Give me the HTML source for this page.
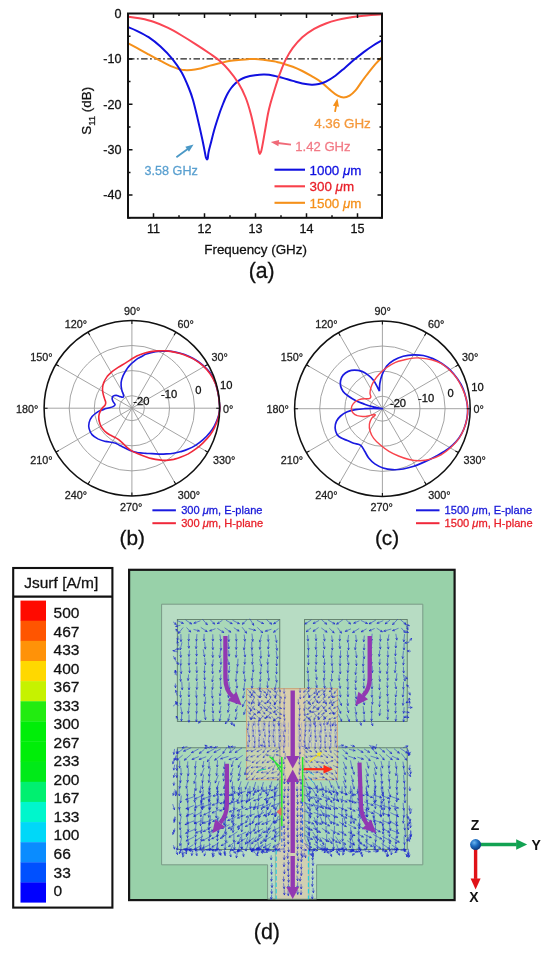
<!DOCTYPE html>
<html lang="en"><head><meta charset="utf-8"><title>Figure</title>
<style>html,body{margin:0;padding:0;background:#fff}svg{display:block}</style></head>
<body>
<svg width="550" height="954" viewBox="0 0 550 954">
<rect width="550" height="954" fill="#fff"/>
<g id="s11" font-family="Liberation Sans, sans-serif">
<clipPath id="cpa"><rect x="128.0" y="13.5" width="254.0" height="204.3"/></clipPath>
<g clip-path="url(#cpa)" fill="none" stroke-width="2.0" stroke-linejoin="round">
<path d="M128.0 58.9H382.0" stroke="#222" stroke-width="1.3" stroke-dasharray="6.5 2.4 1.8 2.4"/>
<path d="M127.8 43.1C129.3 43.9 133.3 45.9 136.8 47.8C140.3 49.7 144.7 52.2 148.6 54.4C152.5 56.6 156.6 58.8 160.5 60.8C164.4 62.8 168.8 65.2 172.3 66.7C175.8 68.2 178.5 69.2 181.7 69.8C184.8 70.3 188.0 70.2 191.2 70.0C194.4 69.8 197.5 69.1 200.7 68.4C203.8 67.7 206.9 66.5 210.1 65.6C213.2 64.7 216.4 64.0 219.6 63.2C222.8 62.5 225.8 61.7 229.0 61.1C232.2 60.5 235.3 60.2 238.5 59.9C241.7 59.6 245.2 59.4 247.9 59.2C250.7 59.0 252.2 58.8 255.0 58.9C257.8 59.0 261.4 59.5 264.5 59.9C267.6 60.3 270.8 60.7 273.9 61.3C277.0 61.9 280.2 62.8 283.4 63.7C286.5 64.6 289.6 65.5 292.8 66.7C296.0 67.9 299.2 69.4 302.3 71.0C305.4 72.6 308.6 74.4 311.7 76.2C314.8 78.0 318.0 79.7 321.2 82.1C324.4 84.5 327.9 88.2 330.7 90.4C333.4 92.7 335.5 94.4 337.7 95.6C339.9 96.8 341.7 97.5 343.7 97.5C345.7 97.5 347.6 96.8 349.6 95.6C351.6 94.4 353.5 92.7 355.5 90.4C357.5 88.2 359.2 85.1 361.4 82.1C363.6 79.1 366.1 75.6 368.5 72.6C370.9 69.6 373.4 66.5 375.6 63.9C377.9 61.4 380.9 58.4 382.0 57.3" stroke="#f5901a"/>
<path d="M127.8 27.0C129.3 27.6 133.3 29.1 136.8 30.8C140.3 32.5 144.7 34.6 148.6 37.2C152.5 39.8 156.6 43.0 160.5 46.6C164.4 50.2 168.8 54.6 172.3 58.9C175.8 63.2 178.9 67.8 181.7 72.6C184.4 77.4 186.9 83.4 188.8 88.0C190.7 92.6 191.5 94.8 193.0 100.0C194.5 105.2 196.1 112.2 197.7 118.9C199.3 125.6 201.2 134.1 202.5 140.2C203.8 146.3 204.9 152.6 205.5 155.6C206.1 158.6 206.0 157.6 206.2 158.2C206.5 158.9 206.8 159.5 207.0 159.5C207.2 159.5 207.5 159.5 207.8 158.2C208.0 157.0 208.0 154.9 208.6 152.0C209.2 149.1 210.6 144.2 211.5 140.5C212.4 136.8 213.3 133.2 214.2 130.0C215.1 126.8 215.9 124.3 216.8 121.5C217.7 118.7 218.7 115.7 219.6 113.0C220.5 110.3 221.5 107.8 222.4 105.5C223.3 103.2 224.1 101.0 225.0 99.0C225.9 97.0 226.8 95.1 227.8 93.3C228.8 91.5 229.9 89.7 231.2 88.0C232.5 86.3 234.0 84.6 235.5 83.2C237.0 81.8 238.3 80.8 240.0 79.8C241.7 78.8 243.0 78.0 245.5 77.2C248.0 76.4 251.8 75.6 255.0 75.2C258.2 74.8 261.4 74.5 264.5 74.6C267.6 74.7 270.8 75.1 273.9 75.7C277.0 76.3 280.2 77.2 283.4 78.1C286.5 79.0 289.6 80.0 292.8 80.9C296.0 81.8 299.2 82.9 302.3 83.5C305.4 84.1 308.9 84.6 311.7 84.7C314.4 84.8 316.4 84.5 318.8 84.0C321.2 83.5 323.1 83.0 325.9 81.6C328.7 80.2 332.2 78.0 335.4 75.7C338.5 73.4 341.6 70.6 344.8 67.9C348.0 65.2 351.2 62.2 354.3 59.6C357.4 57.0 360.6 54.5 363.7 52.1C366.8 49.8 370.1 47.5 373.2 45.5C376.2 43.5 380.5 41.2 382.0 40.3" stroke="#1010e0"/>
<path d="M127.8 16.6C129.7 16.9 134.9 17.4 139.2 18.3C143.5 19.2 148.7 20.2 153.4 21.8C158.1 23.4 162.9 25.4 167.6 27.7C172.3 30.0 177.0 32.7 181.7 35.5C186.4 38.3 191.2 41.3 195.9 44.3C200.6 47.3 206.2 51.0 210.1 53.7C214.0 56.5 216.4 58.0 219.6 60.8C222.8 63.6 225.8 66.5 229.0 70.3C232.2 74.0 235.7 78.8 238.5 83.3C241.3 87.8 243.5 92.3 245.6 97.5C247.7 102.7 249.2 107.9 250.9 114.2C252.6 120.5 254.4 129.6 255.7 135.5C257.0 141.4 257.9 146.8 258.5 149.6C259.1 152.4 258.9 151.9 259.1 152.6C259.4 153.3 259.6 153.9 259.9 153.9C260.1 153.9 260.4 153.3 260.6 152.6C260.9 151.9 260.9 152.8 261.6 149.6C262.3 146.3 263.6 139.0 264.6 133.1C265.7 127.2 266.9 119.2 267.9 114.2C268.9 109.2 269.4 107.4 270.6 103.0C271.8 98.6 273.6 92.9 275.1 88.0C276.6 83.1 278.0 78.5 279.8 73.8C281.6 69.1 283.5 63.9 285.7 59.6C287.9 55.3 290.0 51.5 292.8 47.8C295.6 44.1 298.8 40.4 302.3 37.2C305.9 34.1 310.2 31.2 314.1 28.9C318.0 26.6 322.0 25.0 325.9 23.5C329.8 22.0 333.8 20.9 337.7 19.9C341.6 18.9 345.7 18.3 349.6 17.6C353.6 16.9 356.0 16.4 361.4 15.9C366.8 15.3 378.6 14.6 382.0 14.3" stroke="#fa4654"/>
</g>
<rect x="128.0" y="13.5" width="254.0" height="204.3" fill="none" stroke="#111" stroke-width="2"/>
<path d="M153.5 217.8v-4.5M153.5 13.5v4.5M179.0 217.8v-2.5M179.0 13.5v2.5M204.5 217.8v-4.5M204.5 13.5v4.5M230.0 217.8v-2.5M230.0 13.5v2.5M255.5 217.8v-4.5M255.5 13.5v4.5M281.0 217.8v-2.5M281.0 13.5v2.5M306.5 217.8v-4.5M306.5 13.5v4.5M332.0 217.8v-2.5M332.0 13.5v2.5M357.5 217.8v-4.5M357.5 13.5v4.5M128.0 36.2h2.5M382.0 36.2h-2.5M128.0 58.9h4.5M382.0 58.9h-4.5M128.0 81.6h2.5M382.0 81.6h-2.5M128.0 104.3h4.5M382.0 104.3h-4.5M128.0 127.0h2.5M382.0 127.0h-2.5M128.0 149.7h4.5M382.0 149.7h-4.5M128.0 172.4h2.5M382.0 172.4h-2.5M128.0 195.1h4.5M382.0 195.1h-4.5M128.0 217.8h2.5M382.0 217.8h-2.5" stroke="#111" stroke-width="1.5" fill="none"/>
<g font-size="12.6" fill="#111" stroke="#111" stroke-width="0.28">
<text x="153.5" y="232.8" text-anchor="middle">11</text>
<text x="204.5" y="232.8" text-anchor="middle">12</text>
<text x="255.5" y="232.8" text-anchor="middle">13</text>
<text x="306.5" y="232.8" text-anchor="middle">14</text>
<text x="357.5" y="232.8" text-anchor="middle">15</text>
<text x="121.5" y="17.8" text-anchor="end">0</text>
<text x="121.5" y="63.2" text-anchor="end">-10</text>
<text x="121.5" y="108.6" text-anchor="end">-20</text>
<text x="121.5" y="154.0" text-anchor="end">-30</text>
<text x="121.5" y="199.4" text-anchor="end">-40</text>
</g>
<text x="255.6" y="254.3" text-anchor="middle" font-size="13.4" fill="#111" stroke="#111" stroke-width="0.28">Frequency (GHz)</text>
<text transform="translate(91.3 110.8) rotate(-90)" text-anchor="middle" font-size="13.4" fill="#111" stroke="#111" stroke-width="0.28">S<tspan font-size="9.6" dy="3.2">11</tspan><tspan dy="-3.2"> (dB)</tspan></text>
<text x="261.7" y="277.5" text-anchor="middle" font-size="21.2" fill="#111" stroke="#111" stroke-width="0.28">(a)</text>
<path d="M274.5 169.7H305" stroke="#1010e0" stroke-width="2.1"/>
<text x="309.5" y="174.7" font-size="13.4" fill="#1010e0" stroke="#1010e0" stroke-width="0.28">1000 <tspan font-style="italic">μ</tspan>m</text>
<path d="M274.5 186.3H305" stroke="#f8404a" stroke-width="2.1"/>
<text x="309.5" y="191.3" font-size="13.4" fill="#e8202a" stroke="#e8202a" stroke-width="0.28">300 <tspan font-style="italic">μ</tspan>m</text>
<path d="M274.5 202.8H305" stroke="#f5901a" stroke-width="2.1"/>
<text x="309.5" y="207.8" font-size="13.4" fill="#f5901a" stroke="#f5901a" stroke-width="0.28">1500 <tspan font-style="italic">μ</tspan>m</text>
<text x="144.6" y="175" font-size="12.6" fill="#5aa0d0" stroke="#5aa0d0" stroke-width="0.28">3.58 GHz</text>
<text x="295.3" y="151.4" font-size="13.1" fill="#f27a86" stroke="#f27a86" stroke-width="0.28">1.42 GHz</text>
<text x="314.2" y="127.7" font-size="13.4" fill="#f5983a" stroke="#f5983a" stroke-width="0.28">4.36 GHz</text>
<path d="M176.4 157.3L188.0 148.7" stroke="#4a98c6" stroke-width="1.8" fill="none"/><path d="M193.6 144.5L189.0 151.8L185.3 146.8Z" fill="#4a98c6"/>
<path d="M291.0 144.6L277.7 143.0" stroke="#f06a78" stroke-width="1.8" fill="none"/><path d="M270.8 142.1L279.1 140.0L278.4 146.2Z" fill="#f06a78"/>
<path d="M335.0 111.8L336.2 105.3" stroke="#f5901a" stroke-width="1.8" fill="none"/><path d="M337.4 98.4L339.0 106.8L332.9 105.7Z" fill="#f5901a"/>
</g>
<g font-family="Liberation Sans, sans-serif">
<g fill="none" stroke="#9a9a9a" stroke-width="0.9"><circle cx="131.9" cy="408.2" r="12.5"/><circle cx="131.9" cy="408.2" r="37.6"/><circle cx="131.9" cy="408.2" r="62.7"/><path d="M131.9 408.2L219.7 408.2M131.9 408.2L207.9 364.4M131.9 408.2L175.8 332.2M131.9 408.2L131.9 320.4M131.9 408.2L88.0 332.2M131.9 408.2L55.9 364.4M131.9 408.2L44.1 408.2M131.9 408.2L55.9 452.1M131.9 408.2L88.0 484.3M131.9 408.2L131.9 496.1M131.9 408.2L175.8 484.3M131.9 408.2L207.9 452.2"/></g>
<g fill="none" stroke-width="1.6" stroke-linejoin="round">
<path d="M219.7 408.2C219.6 409.9 219.5 411.5 219.1 413.4C218.7 415.2 218.2 417.1 217.4 419.1C216.6 421.2 215.6 423.6 214.4 425.8C213.2 427.9 212.0 429.9 210.1 432.2C208.2 434.6 205.2 437.8 202.8 439.9C200.4 442.1 197.9 443.8 195.5 445.4C193.1 446.9 190.7 448.1 188.3 449.1C185.9 450.2 183.4 451.0 181.0 451.6C178.6 452.3 176.1 452.9 173.7 453.2C171.3 453.6 168.8 453.8 166.4 453.9C164.0 454.1 161.6 454.1 159.2 454.1C156.8 454.0 154.0 453.8 151.9 453.6C149.8 453.5 148.8 453.5 146.4 453.4C144.0 453.2 140.1 453.0 137.4 452.6C134.7 452.1 132.4 451.4 130.1 450.6C127.8 449.7 125.3 448.2 123.4 447.2C121.5 446.3 120.5 445.6 118.9 444.9C117.3 444.1 116.2 443.3 113.9 442.8C111.7 442.2 108.1 442.0 105.4 441.4C102.7 440.7 100.1 440.0 97.9 438.9C95.7 437.7 93.5 436.3 92.0 434.6C90.5 432.9 89.6 430.6 89.1 428.6C88.6 426.6 88.6 424.6 89.1 422.6C89.6 420.6 90.6 418.5 92.1 416.6C93.6 414.8 95.8 413.0 98.1 411.6C100.4 410.3 103.6 409.5 106.1 408.6C108.6 407.8 111.6 407.3 113.1 406.6C114.6 406.0 115.1 405.5 115.1 404.6C115.1 403.8 113.6 402.6 113.1 401.6C112.6 400.6 112.1 399.5 112.1 398.6C112.1 397.8 112.4 396.8 113.1 396.2C113.8 395.7 114.9 395.2 116.1 395.2C117.3 395.3 118.9 396.3 120.1 396.6C121.3 397.0 122.5 397.5 123.1 397.2C123.7 397.0 123.7 396.3 123.5 395.1C123.3 393.8 122.1 391.7 121.7 389.6C121.3 387.6 120.9 385.0 121.1 382.6C121.3 380.3 122.1 378.0 123.1 375.6C124.1 373.3 125.9 370.5 127.1 368.6C128.3 366.8 129.2 365.8 130.4 364.6C131.6 363.3 132.8 362.4 134.1 361.4C135.3 360.3 136.6 359.3 137.9 358.4C139.2 357.6 140.7 357.0 142.1 356.2C143.5 355.5 144.2 354.8 146.4 354.1C148.6 353.3 152.2 352.2 155.5 351.6C158.8 351.1 163.1 350.9 166.4 350.9C169.7 351.0 172.5 351.4 175.5 352.1C178.5 352.7 181.6 353.5 184.6 354.6C187.6 355.8 190.7 357.0 193.7 358.8C196.7 360.5 200.1 362.8 202.8 365.1C205.5 367.5 208.0 369.8 210.1 372.8C212.2 375.7 213.8 379.1 215.2 382.8C216.6 386.4 217.6 391.2 218.3 394.6C219.0 398.1 219.2 401.0 219.4 403.2C219.6 405.5 219.8 406.6 219.7 408.2Z" stroke="#1a1ae0" stroke-width="1.6"/>
<path d="M219.7 408.2C219.6 410.1 219.5 412.0 219.1 414.1C218.7 416.1 218.2 418.3 217.4 420.6C216.6 422.9 215.6 425.4 214.4 427.9C213.2 430.3 212.0 432.6 210.1 435.1C208.2 437.7 205.2 440.8 202.8 443.1C200.4 445.5 197.9 447.5 195.5 449.2C193.1 451.0 190.7 452.5 188.3 453.9C185.9 455.2 183.4 456.2 181.0 457.1C178.6 458.1 176.1 458.8 173.7 459.4C171.3 459.9 168.8 460.2 166.4 460.4C164.0 460.5 161.6 460.2 159.2 459.9C156.8 459.6 154.0 459.1 151.9 458.6C149.8 458.1 148.5 457.7 146.4 456.9C144.3 456.2 141.4 455.1 139.2 454.2C137.0 453.4 135.1 452.8 133.4 451.9C131.7 451.0 130.2 449.9 128.9 448.9C127.6 447.9 126.7 447.1 125.4 445.9C124.1 444.6 122.7 442.9 121.1 441.6C119.5 440.2 117.8 439.0 115.9 437.9C114.0 436.7 111.5 435.9 109.6 434.8C107.7 433.6 105.9 432.2 104.4 430.8C103.0 429.3 101.8 427.7 100.9 426.1C100.0 424.4 99.5 422.4 99.1 420.8C98.8 419.1 98.7 417.6 98.8 416.2C98.9 414.9 99.2 414.0 99.7 412.6C100.2 411.3 101.2 409.5 102.1 408.2C103.0 407.0 104.5 406.1 105.1 405.1C105.7 404.1 105.8 403.3 105.7 402.2C105.6 401.2 104.9 400.1 104.5 398.6C104.1 397.2 103.4 395.3 103.1 393.6C102.8 392.0 102.4 390.5 102.5 388.6C102.6 386.8 102.9 384.6 103.7 382.6C104.5 380.6 105.7 378.5 107.1 376.6C108.5 374.8 110.3 373.2 112.1 371.6C113.9 370.1 115.8 368.9 118.1 367.4C120.4 365.9 123.6 364.2 126.1 362.6C128.6 361.1 130.7 359.5 132.9 358.2C135.1 357.0 136.6 356.1 139.2 355.1C141.8 354.0 145.3 352.7 148.3 352.1C151.3 351.4 154.4 351.1 157.4 350.9C160.4 350.8 163.4 350.7 166.4 350.9C169.4 351.2 172.5 351.8 175.5 352.4C178.5 353.1 181.6 353.8 184.6 354.9C187.6 356.1 190.7 357.4 193.7 359.1C196.7 360.9 200.1 363.1 202.8 365.6C205.5 368.0 208.0 370.7 210.1 373.8C212.2 376.8 214.1 380.3 215.5 383.8C216.9 387.2 217.7 391.4 218.3 394.6C219.0 397.9 219.2 401.0 219.4 403.2C219.6 405.5 219.8 406.4 219.7 408.2Z" stroke="#f0283a" stroke-width="1.6"/>
</g>
<circle cx="131.9" cy="408.2" r="87.8" fill="none" stroke="#111" stroke-width="1.55"/><path d="M219.7 408.2L216.2 408.2M207.9 364.4L204.9 366.1M175.8 332.2L174.1 335.2M131.9 320.4L131.9 323.9M88.0 332.2L89.8 335.2M55.9 364.4L58.9 366.1M44.1 408.2L47.6 408.2M55.9 452.1L58.9 450.4M88.0 484.3L89.7 481.3M131.9 496.1L131.9 492.6M175.8 484.3L174.1 481.3M207.9 452.2L204.9 450.4" stroke="#111" stroke-width="1.1" fill="none"/>
<g font-size="10.8" fill="#222" text-anchor="middle" stroke="#222" stroke-width="0.28">
<text x="132.2" y="314.9">90°</text>
<text x="185.7" y="327.6">60°</text>
<text x="219.7" y="360.6">30°</text>
<text x="228.2" y="412.6">0°</text>
<text x="224.2" y="463.6">330°</text>
<text x="189.0" y="498.6">300°</text>
<text x="131.2" y="510.6">270°</text>
<text x="76.0" y="498.6">240°</text>
<text x="41.5" y="463.6">210°</text>
<text x="27.2" y="412.6">180°</text>
<text x="41.5" y="360.6">150°</text>
<text x="76.0" y="327.6">120°</text>
</g>
<g font-size="11.2" fill="#111" text-anchor="middle" stroke="#111" stroke-width="0.28">
<text x="226.2" y="388.9">10</text>
<text x="198.4" y="394.1">0</text>
<text x="169.1" y="397.6">-10</text>
<text x="141.4" y="405.1">-20</text>
</g>
<path d="M152.4 510.3h23.5" stroke="#1a1ae0" stroke-width="2"/>
<text x="181.2" y="514.2" font-size="11.1" fill="#1818d8" stroke="#1818d8" stroke-width="0.28">300 <tspan font-style="italic">μ</tspan>m, E-plane</text>
<path d="M152.4 523.2h23.5" stroke="#f0283a" stroke-width="2"/>
<text x="181.2" y="527.1" font-size="11.1" fill="#e8202a" stroke="#e8202a" stroke-width="0.28">300 <tspan font-style="italic">μ</tspan>m, H-plane</text>
<text x="132.2" y="545.4" text-anchor="middle" font-size="20.8" fill="#111" stroke="#111" stroke-width="0.28">(b)</text>
</g>
<g font-family="Liberation Sans, sans-serif">
<g fill="none" stroke="#9a9a9a" stroke-width="0.9"><circle cx="382.4" cy="408.7" r="12.5"/><circle cx="382.4" cy="408.7" r="37.6"/><circle cx="382.4" cy="408.7" r="62.7"/><path d="M382.4 408.7L470.2 408.7M382.4 408.7L458.4 364.8M382.4 408.7L426.3 332.7M382.4 408.7L382.4 320.9M382.4 408.7L338.5 332.7M382.4 408.7L306.4 364.8M382.4 408.7L294.6 408.7M382.4 408.7L306.4 452.6M382.4 408.7L338.5 484.7M382.4 408.7L382.4 496.5M382.4 408.7L426.3 484.7M382.4 408.7L458.4 452.6"/></g>
<g fill="none" stroke-width="1.6" stroke-linejoin="round">
<path d="M379.4 391.2C379.5 389.9 379.4 386.4 379.8 383.7C380.2 381.0 380.8 378.1 381.9 375.2C383.0 372.3 384.7 368.6 386.7 366.1C388.7 363.6 390.9 361.8 393.7 360.2C396.4 358.6 399.9 357.1 403.2 356.2C406.5 355.3 410.4 354.9 413.8 354.8C417.1 354.7 420.1 354.9 423.3 355.5C426.5 356.1 429.6 357.2 432.8 358.6C435.9 360.0 439.2 361.8 442.2 363.8C445.1 365.8 447.9 367.8 450.5 370.4C453.1 372.9 455.5 376.1 457.6 379.1C459.7 382.1 461.6 385.2 463.0 388.6C464.4 391.9 465.5 395.8 466.3 399.2C467.1 402.6 467.6 405.5 467.7 408.7C467.8 411.9 467.6 414.8 467.0 418.2C466.4 421.6 465.3 425.5 464.0 428.8C462.7 432.1 460.9 435.2 459.0 437.9C457.1 440.6 455.0 442.9 452.6 445.1C450.2 447.3 447.5 449.4 444.6 451.3C441.7 453.2 438.4 454.9 435.1 456.7C431.8 458.5 428.1 460.3 424.5 461.9C420.9 463.5 417.3 465.1 413.8 466.3C410.2 467.5 406.7 468.4 403.2 469.0C399.7 469.6 395.9 469.9 392.6 469.7C389.2 469.5 386.1 469.0 383.1 468.0C380.1 467.0 377.2 465.5 374.8 463.9C372.4 462.3 370.6 460.4 368.9 458.3C367.2 456.2 366.1 453.5 364.7 451.3C363.3 449.1 362.5 446.7 360.7 445.3C358.9 443.9 355.9 444.0 353.7 443.2C351.5 442.4 349.4 441.4 347.3 440.5C345.2 439.6 342.6 438.9 340.9 437.8C339.2 436.8 337.9 435.9 336.9 434.2C335.9 432.5 335.2 429.9 335.1 427.8C335.0 425.7 335.5 423.4 336.4 421.4C337.3 419.4 338.8 417.6 340.6 416.0C342.4 414.4 344.8 412.9 347.3 411.8C349.8 410.7 352.6 410.1 355.5 409.6C358.4 409.1 361.6 408.9 364.6 408.7C367.6 408.5 370.7 408.5 373.7 408.5C376.7 408.5 380.9 408.7 382.4 408.7C380.9 408.4 376.7 407.6 373.7 406.9C370.7 406.1 367.6 405.3 364.6 404.2C361.6 403.1 358.2 401.9 355.5 400.5C352.8 399.1 350.3 397.5 348.2 396.0C346.1 394.5 344.4 393.1 343.1 391.4C341.8 389.7 341.0 387.8 340.6 386.0C340.2 384.2 340.2 382.3 340.6 380.5C341.0 378.7 341.8 376.6 343.1 375.1C344.4 373.6 346.3 372.2 348.2 371.4C350.1 370.6 352.3 370.2 354.6 370.2C356.9 370.2 359.6 370.6 361.9 371.4C364.2 372.2 366.2 373.6 368.2 375.1C370.2 376.6 372.2 378.5 373.7 380.5C375.2 382.5 376.3 385.1 377.3 386.9C378.2 388.7 379.0 390.5 379.4 391.2" stroke="#1a1ae0" stroke-width="1.7"/>
<path d="M370.9 396.9C371.0 396.0 370.0 394.7 370.0 393.2C370.0 391.7 370.3 389.8 370.9 387.8C371.5 385.8 372.3 383.7 373.7 381.4C375.1 379.1 377.0 376.5 379.1 374.2C381.2 371.9 383.7 369.8 386.4 367.8C389.1 365.8 392.5 363.6 395.5 362.3C398.5 361.0 401.6 360.5 404.6 359.8C407.6 359.1 410.7 358.4 413.4 358.1C416.1 357.8 417.9 357.8 420.9 358.1C423.9 358.4 428.2 358.9 431.6 359.8C434.9 360.7 438.1 361.7 441.0 363.3C443.9 364.9 446.6 367.2 449.3 369.7C451.9 372.2 454.7 375.2 456.9 378.4C459.1 381.5 460.9 385.1 462.5 388.6C464.1 392.1 465.4 395.8 466.3 399.2C467.2 402.6 467.6 405.3 467.7 408.7C467.8 412.1 467.5 415.8 466.8 419.3C466.1 422.9 464.9 426.6 463.5 430.0C462.1 433.4 460.5 436.4 458.3 439.4C456.1 442.3 453.4 445.1 450.5 447.7C447.6 450.3 444.4 452.9 441.0 454.8C437.6 456.7 433.9 458.1 430.4 459.1C426.9 460.1 423.3 460.6 419.8 460.7C416.2 460.8 412.6 460.3 409.1 459.5C405.5 458.7 401.9 457.4 398.5 456.0C395.1 454.6 392.0 453.1 389.0 451.3C386.0 449.5 383.2 447.5 380.7 445.3C378.1 443.1 375.5 440.7 373.7 438.3C371.9 435.9 370.8 433.6 370.1 431.2C369.4 428.8 369.1 426.3 369.4 424.1C369.7 421.9 370.8 419.7 371.8 418.2C372.8 416.7 374.9 415.8 375.2 415.2C375.5 414.6 374.9 414.4 373.7 414.5C372.5 414.6 370.0 415.7 368.2 416.0C366.4 416.3 364.6 416.6 362.8 416.5C361.0 416.4 358.9 416.1 357.3 415.6C355.7 415.0 354.3 414.2 353.3 413.2C352.3 412.2 351.7 410.8 351.5 409.6C351.3 408.4 351.4 407.2 351.9 406.0C352.4 404.8 353.4 403.4 354.6 402.3C355.8 401.2 357.4 400.2 359.1 399.6C360.8 399.0 362.9 398.8 364.6 398.7C366.3 398.6 368.0 399.0 369.1 398.7C370.1 398.4 370.8 397.8 370.9 396.9Z" stroke="#f8444c" stroke-width="1.4"/>
</g>
<circle cx="382.4" cy="408.7" r="87.8" fill="none" stroke="#111" stroke-width="1.55"/><path d="M470.2 408.7L466.7 408.7M458.4 364.8L455.4 366.6M426.3 332.7L424.5 335.7M382.4 320.9L382.4 324.4M338.5 332.7L340.2 335.7M306.4 364.8L309.4 366.6M294.6 408.7L298.1 408.7M306.4 452.6L309.4 450.9M338.5 484.7L340.2 481.7M382.4 496.5L382.4 493.0M426.3 484.7L424.5 481.7M458.4 452.6L455.4 450.9" stroke="#111" stroke-width="1.1" fill="none"/>
<g font-size="10.8" fill="#222" text-anchor="middle" stroke="#222" stroke-width="0.28">
<text x="382.7" y="315.3">90°</text>
<text x="436.2" y="328.0">60°</text>
<text x="470.2" y="361.0">30°</text>
<text x="478.7" y="413.0">0°</text>
<text x="474.7" y="464.0">330°</text>
<text x="439.5" y="499.0">300°</text>
<text x="381.7" y="511.0">270°</text>
<text x="326.5" y="499.0">240°</text>
<text x="292.0" y="464.0">210°</text>
<text x="277.7" y="413.0">180°</text>
<text x="292.0" y="361.0">150°</text>
<text x="326.5" y="328.0">120°</text>
</g>
<g font-size="11.2" fill="#111" text-anchor="middle" stroke="#111" stroke-width="0.28">
<text x="477.4" y="391.4">10</text>
<text x="450.7" y="396.8">0</text>
<text x="426.2" y="401.6">-10</text>
<text x="398.0" y="407.3">-20</text>
</g>
<path d="M416.0 510.3h23.5" stroke="#1a1ae0" stroke-width="2"/>
<text x="444.6" y="514.2" font-size="11.1" fill="#1818d8" stroke="#1818d8" stroke-width="0.28">1500 <tspan font-style="italic">μ</tspan>m, E-plane</text>
<path d="M416.0 523.2h23.5" stroke="#f0283a" stroke-width="2"/>
<text x="444.6" y="527.1" font-size="11.1" fill="#e8202a" stroke="#e8202a" stroke-width="0.28">1500 <tspan font-style="italic">μ</tspan>m, H-plane</text>
<text x="387.0" y="545.4" text-anchor="middle" font-size="20.8" fill="#111" stroke="#111" stroke-width="0.28">(c)</text>
</g>
<g font-family="Liberation Sans, sans-serif">
<rect x="13.2" y="568" width="99.2" height="339.6" fill="#fff" stroke="#111" stroke-width="2.1"/>
<path d="M13.2 596.6H112.4" stroke="#111" stroke-width="2.1"/>
<text x="61.3" y="588.4" text-anchor="middle" font-size="15.5" fill="#111" stroke="#111" stroke-width="0.28">Jsurf [A/m]</text>
<rect x="20.5" y="600.60" width="25.5" height="20.43" fill="#ff0a00"/>
<rect x="20.5" y="620.73" width="25.5" height="20.43" fill="#ff5500"/>
<rect x="20.5" y="640.87" width="25.5" height="20.43" fill="#ff9208"/>
<rect x="20.5" y="661.00" width="25.5" height="20.43" fill="#ffd800"/>
<rect x="20.5" y="681.13" width="25.5" height="20.43" fill="#c6f200"/>
<rect x="20.5" y="701.27" width="25.5" height="20.43" fill="#22ec10"/>
<rect x="20.5" y="721.40" width="25.5" height="20.43" fill="#00ee08"/>
<rect x="20.5" y="741.53" width="25.5" height="20.43" fill="#00ee08"/>
<rect x="20.5" y="761.67" width="25.5" height="20.43" fill="#00ea18"/>
<rect x="20.5" y="781.80" width="25.5" height="20.43" fill="#00f070"/>
<rect x="20.5" y="801.93" width="25.5" height="20.43" fill="#00f6cc"/>
<rect x="20.5" y="822.07" width="25.5" height="20.43" fill="#00d8f8"/>
<rect x="20.5" y="842.20" width="25.5" height="20.43" fill="#0a8cff"/>
<rect x="20.5" y="862.33" width="25.5" height="20.43" fill="#0050ff"/>
<rect x="20.5" y="882.47" width="25.5" height="20.13" fill="#0000ff"/>
<g font-size="15.5" fill="#111" stroke="#111" stroke-width="0.28">
<text x="53.6" y="618.0">500</text>
<text x="53.6" y="636.5">467</text>
<text x="53.6" y="655.1">433</text>
<text x="53.6" y="673.6">400</text>
<text x="53.6" y="692.1">367</text>
<text x="53.6" y="710.7">333</text>
<text x="53.6" y="729.2">300</text>
<text x="53.6" y="747.7">267</text>
<text x="53.6" y="766.3">233</text>
<text x="53.6" y="784.8">200</text>
<text x="53.6" y="803.3">167</text>
<text x="53.6" y="821.9">133</text>
<text x="53.6" y="840.4">100</text>
<text x="53.6" y="858.9">66</text>
<text x="53.6" y="877.5">33</text>
<text x="53.6" y="896.0">0</text>
</g></g>
<rect x="129.1" y="569.8" width="325.5" height="330.3" fill="#98d1a9" stroke="#151515" stroke-width="2.2"/>
<path d="M161.6 604.2H422.8V864.8H316.6V899.0H267.6V864.8H161.6Z" fill="#b7dcc3" stroke="#7a9a86" stroke-width="1"/>
<rect x="177.3" y="619.5" width="102.5" height="101.9" fill="#a9d8b8" stroke="#55705f" stroke-width="0.8"/>
<rect x="177.3" y="747.8" width="102.5" height="101.8" fill="#a9d8b8" stroke="#55705f" stroke-width="0.8"/>
<rect x="304.6" y="619.5" width="102.6" height="101.9" fill="#a9d8b8" stroke="#55705f" stroke-width="0.8"/>
<rect x="304.6" y="747.8" width="102.6" height="101.8" fill="#a9d8b8" stroke="#55705f" stroke-width="0.8"/>
<path d="M280.4 688.7H304.8V839L309 848V899.0H275.4V848L280.4 839Z" fill="#d0cfb2" stroke="#7f9a88" stroke-width="0.6"/>
<rect x="246.6" y="688.7" width="91.0" height="91.1" fill="#e2cfa6" fill-opacity="0.52" stroke="#d8a070" stroke-width="0.8"/>
<path d="M177.6 620.7L183.1 623.3M182.9 627.8L178.6 633.1M180.9 634.5L181.0 641.3M181.9 642.7L180.2 649.6M180.6 651.7L180.8 657.0M181.0 659.6L180.7 665.2M180.6 666.4L181.2 673.3M180.3 674.6L180.7 681.1M181.8 682.2L182.2 689.4M180.4 691.4L180.6 697.0M181.5 699.0L180.6 704.9M180.8 707.0L182.0 713.8M181.7 714.7L181.4 720.8M185.9 620.2L191.4 623.8M186.8 627.8L190.5 631.8M188.9 634.1L188.7 640.9M188.4 642.3L188.9 647.9M189.4 650.7L188.9 656.1M189.1 657.7L189.0 664.9M189.3 666.9L189.6 672.5M188.6 674.8L188.1 680.2M189.1 682.7L189.0 689.5M188.9 691.2L188.9 696.6M189.2 699.0L189.2 705.0M189.0 706.8L188.3 713.1M189.0 714.9L188.9 721.9M200.1 620.9L194.2 623.1M193.9 629.5L199.1 630.9M196.9 634.4L196.4 641.0M196.5 642.5L196.1 648.3M196.6 650.2L196.6 655.8M196.5 658.2L196.1 663.9M196.8 666.7L196.8 672.4M197.0 674.5L196.6 680.5M197.2 682.1L196.8 689.1M196.0 691.0L196.5 697.3M196.8 698.2L196.7 705.2M196.8 706.7L196.6 713.2M196.4 714.3L196.4 721.5M202.7 619.5L207.1 624.5M201.1 627.6L206.9 631.5M204.1 634.3L203.9 640.6M204.7 642.4L205.3 648.8M203.2 649.7L204.5 656.5M204.7 658.2L205.4 664.5M204.6 666.0L204.5 672.7M204.2 673.9L204.7 679.6M204.2 681.5L205.1 688.5M204.9 689.4L204.4 696.0M205.6 697.1L205.0 703.6M204.7 705.0L204.3 711.5M204.4 712.4L205.5 719.4M210.6 620.1L214.4 623.9M215.1 628.8L210.0 630.8M212.8 634.7L212.9 640.8M212.4 642.5L212.9 649.3M212.6 651.9L212.8 657.1M213.2 659.8L212.3 666.1M212.6 668.0L212.6 673.4M213.2 675.9L212.3 681.5M213.1 683.2L212.4 689.2M211.8 690.8L212.4 697.9M213.1 699.8L212.9 705.4M212.3 707.3L213.1 712.8M212.8 714.6L213.3 720.9M222.1 620.5L217.6 623.5M217.7 628.6L223.6 632.4M220.0 634.8L220.8 641.0M220.7 642.7L221.0 649.9M220.5 650.3L219.7 657.3M221.0 658.7L220.9 664.1M221.1 666.3L219.9 672.0M220.9 674.8L220.4 680.0M220.6 681.7L220.9 688.7M220.6 690.3L220.0 695.5M219.8 697.9L219.9 704.0M220.9 706.3L219.7 712.7M220.9 714.2L219.7 720.7M226.3 620.4L231.9 623.6M224.9 628.0L230.6 632.0M228.7 635.0L228.8 641.3M228.3 643.2L228.8 648.6M228.6 650.7L229.1 655.9M227.6 659.2L229.0 664.4M229.6 666.3L228.9 672.3M228.3 675.0L228.1 680.7M229.0 682.3L229.4 689.3M228.7 691.3L228.4 697.3M229.6 698.2L228.6 705.3M229.2 706.4L228.0 712.0M229.7 714.4L228.3 720.5M232.9 620.4L239.1 623.6M234.1 627.9L238.8 630.9M235.9 634.1L236.4 641.0M236.4 642.4L236.2 649.1M236.5 651.2L236.1 657.0M238.0 659.1L237.5 666.1M237.1 667.3L237.0 673.0M236.3 674.3L236.0 681.1M236.7 682.6L237.0 687.8M236.0 689.3L235.6 696.4M236.7 697.3L236.3 703.5M237.5 706.1L235.8 711.2M237.1 713.0L235.6 719.2M246.7 620.0L242.6 624.0M242.3 627.5L246.4 632.9M244.2 635.0L244.9 641.0M245.0 642.7L244.0 649.5M244.2 650.8L245.1 656.7M245.0 658.8L244.7 664.0M244.1 666.4L243.8 673.3M244.4 674.9L245.0 681.1M244.6 683.1L243.8 690.1M244.6 692.0L243.1 697.8M245.6 700.3L242.6 706.4M245.7 709.2L243.9 714.2M249.9 619.0L253.6 625.0M249.0 628.6L255.3 630.3M252.0 634.0L252.7 641.1M251.7 642.1L252.0 649.3M251.7 650.3L252.4 656.0M252.7 658.1L252.3 664.0M253.2 665.4L253.2 671.7M252.7 673.0L251.9 680.1M252.6 681.5L252.0 687.9M253.8 690.5L251.5 695.5M254.2 698.1L251.4 703.9M254.1 705.9L250.5 711.0M254.3 713.8L251.0 719.4M257.3 620.5L263.3 623.5M257.5 627.6L262.5 632.6M261.6 635.0L259.8 641.8M260.4 642.8L259.9 649.0M260.8 650.9L260.8 658.0M259.7 659.4L261.4 666.0M261.0 667.8L260.4 673.9M260.8 675.8L260.2 681.2M260.3 683.6L259.8 689.3M261.3 691.4L260.1 697.6M262.0 700.9L258.5 705.4M262.4 708.4L257.7 712.9M262.9 716.0L258.9 720.9M266.9 620.0L271.5 624.0M271.1 629.3L265.6 631.1M268.1 635.0L268.3 641.2M269.0 642.5L268.2 648.7M268.4 650.9L268.8 656.5M267.7 658.9L267.7 664.2M268.0 665.7L267.7 672.5M268.3 673.3L268.7 680.2M267.3 681.7L267.6 687.5M268.5 689.8L266.6 695.5M270.4 698.4L267.1 702.6M270.2 705.4L266.2 710.6M270.3 713.9L266.1 717.6M278.7 620.3L273.9 623.7M278.1 628.8L273.8 632.1M275.3 635.2L276.6 642.2M276.1 644.3L277.0 650.1M276.2 651.5L277.4 658.4M276.4 659.7L276.7 665.6M276.3 667.4L276.6 673.7M275.6 675.8L276.7 682.0M276.1 683.7L275.0 689.4M277.2 690.9L275.3 697.0M277.3 700.3L274.3 704.7M278.3 709.0L274.0 712.2M278.9 717.0L273.5 720.7M175.4 683.9L175.5 687.4M175.2 674.5L175.5 670.8M178.2 719.9L176.3 716.4M177.0 695.3L175.8 690.6M178.1 705.7L175.8 701.7M173.3 706.0L177.1 702.9M176.5 675.1L175.3 670.7M175.5 660.6L178.3 664.1M173.5 656.3L175.2 659.2M175.4 649.6L178.4 649.0M178.8 633.0L176.1 629.4M180.0 625.3L176.0 626.4M173.4 622.1L176.0 624.3M178.2 645.5L177.4 641.4M178.1 636.7L177.5 640.0M177.6 652.0L173.2 650.6M227.5 720.8L225.4 723.6M232.4 722.7L234.4 725.8M201.1 720.2L198.8 722.9M231.0 721.3L231.8 724.6M278.8 721.5L278.8 725.2M311.0 620.1L305.2 623.9M310.7 628.2L306.5 631.6M307.6 635.5L308.0 640.8M307.9 642.8L308.5 649.8M308.5 650.6L308.1 657.1M308.7 659.2L308.4 664.6M307.5 667.6L307.9 672.8M308.2 674.4L308.4 681.2M308.4 682.6L308.5 688.8M307.2 691.5L309.6 697.0M306.9 700.3L310.3 704.4M305.9 707.8L311.0 711.9M305.9 716.1L310.4 720.2M318.8 620.6L313.4 623.4M318.3 627.7L313.4 631.2M315.8 634.5L316.1 640.4M316.3 642.3L315.8 649.0M316.7 650.1L316.3 656.8M316.0 658.5L316.2 664.0M315.7 666.0L315.9 671.5M316.0 674.0L316.7 679.3M315.6 681.4L316.8 687.3M315.6 688.8L317.2 694.8M314.5 697.5L317.7 702.5M313.7 705.9L318.4 709.6M314.3 713.8L319.1 718.3M321.8 620.0L326.5 624.0M321.6 628.2L326.8 632.0M323.6 634.6L324.6 640.8M323.2 642.2L324.5 648.7M323.5 650.6L323.5 657.5M324.5 658.9L324.5 664.5M323.9 665.9L324.2 672.5M324.7 674.0L324.0 680.0M323.8 681.1L324.7 688.0M322.8 689.8L324.4 695.3M323.1 698.3L326.3 703.9M322.0 705.9L326.3 711.4M321.5 714.3L325.4 718.3M328.4 620.2L334.6 623.8M329.6 628.5L333.9 632.7M331.7 635.9L332.4 641.5M332.2 643.5L332.3 649.8M331.9 651.1L331.5 657.4M331.9 658.8L332.0 665.3M332.4 666.6L332.5 672.7M331.5 674.2L331.7 680.9M330.2 682.5L331.5 689.2M330.9 691.2L332.4 697.4M330.5 699.9L332.7 705.6M330.1 708.5L333.8 714.0M342.5 620.0L336.9 624.0M337.8 628.0L341.3 632.9M339.9 635.1L339.7 640.8M339.5 643.0L340.0 648.3M340.6 650.7L340.3 657.6M340.0 658.7L340.1 665.4M339.9 666.8L340.3 673.5M339.1 675.1L339.2 680.3M339.5 682.8L340.2 688.0M339.7 690.9L340.5 696.8M338.7 698.8L341.4 705.2M337.6 706.5L340.7 713.0M338.5 714.6L341.6 720.9M346.5 620.2L350.3 623.8M350.6 629.0L345.5 631.3M348.5 635.3L347.7 641.9M348.5 643.1L348.5 649.7M347.3 650.9L348.0 657.0M347.3 658.2L348.6 664.7M348.3 665.8L347.8 672.3M347.8 674.0L347.4 680.9M348.1 682.0L347.8 689.1M347.7 691.1L348.0 696.4M347.2 699.2L347.9 705.4M346.9 707.0L348.5 712.5M346.9 715.0L349.4 721.2M359.1 620.9L354.0 623.1M358.9 628.6L352.9 632.4M355.8 635.2L356.4 641.7M355.9 643.2L355.2 649.4M355.8 651.2L356.6 657.4M355.9 660.1L356.5 665.6M356.4 667.6L355.5 674.3M356.3 676.3L355.7 682.4M355.2 684.4L355.8 689.6M355.3 691.7L356.3 698.5M355.1 699.7L356.8 705.7M355.0 707.3L356.3 714.0M355.7 715.1L356.9 721.2M361.2 620.6L367.2 623.4M366.2 629.0L361.5 631.7M364.3 636.0L363.7 641.5M364.3 644.3L364.0 649.7M363.2 651.4L364.2 658.4M363.4 658.8L363.1 665.9M363.3 667.3L363.3 672.6M364.1 674.6L363.9 680.6M363.6 682.7L363.9 688.0M363.8 691.1L364.0 696.8M363.0 698.7L364.3 704.6M363.2 706.6L364.1 713.7M364.1 715.1L364.3 721.6M375.5 620.3L369.4 623.7M374.3 628.6L369.5 630.7M372.1 634.1L371.6 640.9M372.0 642.2L370.9 648.8M371.5 650.7L371.1 656.2M371.5 658.8L371.5 664.1M372.2 666.1L372.4 672.3M371.3 674.2L371.5 680.7M371.9 681.8L372.0 688.5M372.1 690.0L371.9 696.9M372.7 698.0L372.3 704.0M371.6 705.9L371.6 712.9M371.8 714.5L371.5 720.7M382.9 620.8L377.3 623.2M377.0 628.4L382.1 631.7M380.2 634.8L380.4 641.0M379.7 642.9L380.4 648.8M379.7 650.6L379.2 656.1M380.0 659.2L379.6 664.4M379.5 667.4L380.1 672.8M379.1 675.8L379.9 681.2M379.3 684.0L379.5 689.7M380.4 692.1L379.8 698.3M379.9 700.9L379.5 706.5M380.4 709.3L379.6 715.2M389.7 620.3L385.4 623.7M390.9 629.1L384.1 631.1M388.9 634.8L387.9 640.5M387.6 642.2L388.3 648.8M387.7 651.0L388.0 656.9M387.6 658.3L387.5 665.3M388.1 666.5L387.0 673.4M387.8 674.7L387.6 680.1M387.1 682.2L387.5 687.5M387.3 688.8L387.5 695.9M388.0 697.3L387.9 703.1M387.3 705.0L388.1 711.4M387.8 712.8L387.7 719.1M397.4 619.6L392.8 624.4M398.2 628.4L392.9 630.6M395.9 634.2L396.8 639.8M395.9 642.1L395.8 647.7M395.6 649.8L395.4 655.6M394.9 657.5L395.9 663.7M395.7 665.3L395.0 672.3M396.9 673.7L396.1 680.5M394.9 682.5L396.1 688.6M396.7 690.8L395.7 696.7M395.6 698.4L395.4 705.0M395.9 707.0L395.5 712.9M396.4 715.4L395.7 720.9M400.7 619.9L405.7 624.1M401.5 628.2L405.2 632.5M404.5 634.5L403.8 641.5M404.1 643.6L404.0 649.6M403.4 651.2L402.7 658.3M404.0 659.6L403.3 664.8M403.4 667.2L403.7 672.7M403.3 674.8L405.0 680.7M403.5 682.1L403.4 689.0M403.8 690.0L402.8 696.7M403.5 698.8L403.0 705.0M404.1 707.6L403.6 713.0M403.8 716.1L403.6 721.5M404.5 675.5L407.1 678.8M408.8 642.5L405.1 642.9M404.7 623.8L409.1 625.7M406.3 625.7L407.9 629.3M408.9 641.6L411.5 638.6M408.8 700.8L406.3 702.7M409.4 687.7L406.9 685.2M408.0 707.7L411.9 707.5M408.8 692.0L410.1 694.7M404.8 630.8L408.1 632.4M410.6 651.2L407.6 651.0M404.6 717.1L408.7 717.4M409.5 702.1L409.2 698.3M409.0 706.3L409.6 701.4M408.0 715.1L404.4 717.6M404.8 711.9L408.9 712.5M328.7 721.0L327.1 724.2M371.4 722.2L372.7 725.5M334.0 722.5L332.5 725.7M314.2 720.3L314.3 724.5M360.2 721.9L361.1 725.0M278.0 783.9L275.1 788.9M277.4 790.1L274.7 795.5M278.5 804.1L275.3 809.6M278.1 810.5L274.9 816.1M278.3 816.4L275.7 822.9M279.1 831.4L274.5 836.9M278.8 844.3L275.8 850.2M271.8 781.8L270.0 787.3M270.2 789.0L267.4 795.5M270.1 797.1L266.7 803.0M270.9 802.8L267.4 809.4M271.0 809.7L268.5 815.1M272.1 823.2L268.4 829.9M270.7 830.9L266.2 836.8M270.4 845.1L267.4 850.3M263.3 782.4L261.7 788.8M262.9 789.5L260.1 795.1M263.3 803.9L261.5 809.4M262.9 810.3L259.2 817.4M263.2 830.7L259.7 836.2M264.2 838.3L260.8 843.4M262.9 844.6L259.7 849.9M255.6 782.4L253.6 789.4M256.0 789.1L253.3 795.1M256.0 803.1L253.9 809.6M255.1 816.2L252.7 823.0M256.1 824.6L254.1 830.9M256.3 837.0L251.9 843.7M256.1 844.2L251.9 851.0M246.3 768.8L245.0 774.5M248.3 782.1L245.4 788.9M248.2 788.6L247.1 795.9M247.6 795.1L246.5 802.8M248.5 817.4L245.9 822.6M248.6 831.1L246.4 836.3M247.6 837.6L245.6 844.0M247.9 844.1L246.0 850.7M241.7 748.1L235.4 752.4M242.4 755.6L236.0 759.6M241.0 761.9L238.4 767.2M240.7 767.7L238.9 775.4M240.6 775.3L238.2 780.4M241.0 781.7L238.7 789.2M240.1 788.5L238.7 795.5M240.4 795.6L237.1 801.2M239.7 809.6L238.1 815.8M240.9 824.0L238.3 829.4M240.6 837.2L238.2 843.5M240.1 843.8L238.2 851.5M234.7 748.3L229.7 752.4M235.7 757.3L229.3 759.5M233.3 761.1L231.7 766.5M232.9 768.6L231.0 774.9M232.4 775.8L230.4 781.7M232.6 782.0L232.1 788.3M232.7 788.2L232.0 795.6M232.9 795.7L231.9 802.5M233.6 811.2L231.6 816.4M232.5 816.6L232.1 822.3M233.7 824.0L231.1 829.9M232.6 845.5L230.5 850.9M226.8 747.5L223.0 753.2M228.2 756.4L220.9 758.7M224.8 762.0L224.2 768.7M225.6 768.0L223.0 775.3M225.0 774.5L223.6 780.8M225.6 781.8L224.0 788.5M225.6 789.5L224.7 795.3M226.5 796.2L223.9 803.3M225.0 801.8L223.8 809.6M225.9 817.1L223.9 824.4M225.7 829.7L222.9 836.9M220.4 749.1L214.3 752.3M221.2 755.2L214.9 760.0M217.5 760.7L217.2 766.7M217.2 768.2L216.6 775.2M218.2 775.4L215.3 782.7M219.1 781.4L216.8 789.0M217.8 788.8L217.2 794.9M218.6 796.2L217.5 802.2M218.0 816.7L217.1 824.3M217.6 823.1L215.5 829.6M219.0 829.0L217.1 836.6M217.6 843.3L215.9 851.0M214.1 748.9L207.2 752.7M211.9 755.8L207.5 761.4M209.2 762.2L208.9 768.0M210.3 768.2L209.0 775.8M209.8 775.3L208.8 782.2M210.6 782.4L209.3 789.9M210.0 788.7L209.7 794.7M210.3 795.8L209.1 801.7M210.4 802.2L209.9 809.1M210.5 815.9L209.7 823.7M208.9 823.9L208.7 829.4M211.6 829.7L210.2 836.6M204.0 749.7L199.6 753.2M205.8 756.9L199.4 759.3M203.7 761.4L202.9 767.0M204.0 768.4L201.1 775.4M203.5 775.0L202.4 782.4M202.5 781.9L202.5 788.7M203.3 790.0L202.6 795.9M201.8 795.7L201.3 803.1M203.2 803.4L202.3 809.5M203.0 816.2L202.5 823.4M204.0 844.8L202.5 852.1M198.3 749.1L191.7 752.6M198.5 756.7L192.3 759.3M196.0 761.3L195.2 768.0M195.4 768.7L195.1 774.7M196.4 775.6L194.2 783.1M195.8 782.4L195.8 790.3M194.7 788.8L194.4 796.0M194.5 795.4L194.6 801.9M195.5 802.5L195.1 810.3M195.3 810.1L194.5 816.3M195.2 816.6L194.8 823.4M196.2 822.8L195.3 830.6M196.0 831.2L195.5 836.9M195.5 838.5L195.4 844.4M195.5 844.2L195.4 850.4M190.8 747.9L183.9 751.1M190.5 754.8L184.6 760.0M187.8 761.8L187.4 767.4M188.3 768.0L188.2 775.4M187.8 775.2L187.6 781.9M187.3 782.1L186.4 788.0M187.3 788.8L187.3 795.8M187.6 795.3L187.7 802.3M187.8 803.3L188.0 809.8M188.5 809.3L187.8 815.6M187.0 815.9L187.8 823.6M188.0 823.2L188.2 831.1M188.1 830.6L187.5 837.5M187.7 838.3L188.5 844.4M187.6 844.7L186.6 851.4M182.4 749.4L177.2 753.2M182.4 755.4L177.0 760.0M179.7 761.0L179.6 767.8M180.9 768.3L181.2 774.9M180.2 776.2L180.5 782.3M180.0 781.2L179.7 788.0M179.1 787.8L179.3 795.6M181.2 795.9L180.6 802.6M179.3 802.9L179.4 809.0M179.2 808.7L180.5 815.8M181.2 816.5L179.7 823.9M180.2 823.5L180.2 829.6M180.9 830.5L180.5 837.3M181.6 837.6L180.0 845.3M181.3 843.9L180.7 851.1M278.2 788.0L271.2 790.6M280.7 794.9L271.5 797.4M280.2 802.7L271.7 806.2M280.3 811.5L271.6 814.4M280.5 818.9L273.2 822.0M279.5 827.4L273.0 830.9M279.6 835.2L271.8 839.1M279.8 843.1L273.2 847.2M270.7 789.0L263.2 791.1M272.0 797.2L264.6 799.5M270.0 803.7L263.1 807.4M271.0 811.8L263.8 815.7M270.3 820.7L262.1 824.2M271.0 828.1L263.7 832.5M270.5 836.9L263.8 841.0M270.8 843.3L263.4 847.7M263.5 789.0L254.6 792.1M262.0 797.3L254.0 800.7M263.0 804.7L254.1 807.5M263.7 812.5L255.4 817.1M262.2 821.4L255.6 824.7M262.7 828.9L254.9 833.0M262.4 836.8L254.9 841.4M262.3 845.1L256.3 849.1M254.6 790.2L247.9 792.7M253.7 797.7L246.5 801.3M253.4 807.0L245.8 809.4M254.4 814.0L246.4 817.0M252.9 822.6L245.6 826.4M253.4 830.6L246.4 834.5M253.5 838.1L247.0 843.1M245.3 791.3L238.0 793.9M245.0 800.4L237.4 802.9M245.6 807.4L237.3 810.8M245.3 814.9L237.8 818.0M244.4 822.9L237.6 827.1M245.8 832.2L237.5 836.2M245.2 838.7L237.3 843.6M237.6 792.3L229.3 795.3M237.3 800.8L229.2 803.8M237.3 808.3L229.7 811.8M235.9 816.7L228.0 820.5M236.1 824.4L228.5 828.3M237.2 831.9L229.2 837.1M236.1 841.1L228.8 846.4M228.9 792.5L220.4 795.0M228.1 800.5L220.3 803.6M226.9 808.2L220.0 810.8M227.6 817.1L220.6 820.2M229.1 824.8L221.7 828.4M227.1 834.0L220.6 838.3M227.9 842.0L221.4 845.5M221.0 794.2L213.3 795.9M219.7 802.3L212.5 805.0M219.3 809.5L212.4 812.8M219.1 817.9L213.0 821.4M220.1 826.5L212.1 831.0M218.5 835.1L212.0 838.7M218.6 842.8L212.2 847.0M211.2 795.8L202.7 799.1M211.1 803.8L202.5 807.2M210.9 811.2L204.0 814.8M212.2 819.6L203.5 823.1M211.0 827.2L203.6 831.5M209.8 836.7L202.7 840.6M210.5 844.4L202.6 848.2M201.9 795.6L195.1 798.9M203.1 803.6L195.1 807.3M201.3 812.1L194.1 816.4M201.2 820.5L194.8 823.6M202.6 830.0L196.0 832.8M202.7 836.3L195.2 840.8M201.6 845.2L194.8 849.1M193.4 796.9L186.0 799.5M193.4 805.7L186.2 808.7M193.1 813.2L186.4 816.1M193.7 820.9L185.3 824.6M193.8 829.7L185.9 833.2M193.7 837.1L186.3 840.9M193.0 844.9L186.1 849.5M274.8 786.4L274.8 793.5M274.8 794.5L274.6 800.4M274.4 801.5L274.1 808.5M275.3 809.9L275.4 816.5M273.6 817.7L274.2 823.3M274.6 826.6L275.8 833.1M274.9 834.0L275.3 841.5M274.9 844.7L275.4 850.2M266.4 787.0L266.3 793.6M266.8 794.9L266.7 801.9M266.9 801.7L267.2 809.0M266.3 810.4L266.1 816.8M267.2 818.9L266.7 824.4M266.6 827.0L267.2 832.9M266.3 835.0L265.7 841.5M265.6 843.5L265.9 849.5M258.1 786.1L258.2 791.7M258.6 794.9L258.4 800.8M258.7 802.8L257.6 808.9M257.9 810.8L258.6 816.6M258.7 817.9L258.8 824.5M258.2 826.0L258.7 832.0M259.0 834.5L257.9 840.4M257.8 842.2L258.9 848.9M249.9 786.4L250.0 793.5M250.5 793.9L249.2 800.6M250.5 802.6L250.4 808.2M250.6 809.9L250.7 816.5M249.9 818.8L250.3 824.9M250.0 826.6L250.5 833.9M250.4 835.1L249.6 841.7M250.0 842.4L250.4 849.3M241.2 787.2L241.4 793.6M242.2 794.8L241.7 801.7M241.6 802.0L242.3 807.7M241.7 811.1L241.8 816.7M241.7 817.8L241.8 825.0M242.2 826.0L241.7 831.5M241.7 835.2L241.8 841.1M241.9 842.7L241.7 848.5M234.0 786.4L234.4 792.9M233.2 794.5L233.5 800.1M234.0 801.9L234.0 809.2M233.9 810.0L233.6 816.6M233.9 818.6L233.3 824.8M233.8 826.7L233.0 832.2M233.9 834.8L233.9 841.7M234.6 843.0L234.4 849.3M224.7 785.5L225.7 792.4M225.0 794.8L224.7 801.5M225.3 801.8L224.3 809.2M226.3 810.6L225.7 818.0M225.5 818.8L225.2 825.8M225.6 827.6L225.8 833.6M225.7 834.9L225.9 842.1M225.2 843.2L225.2 849.4M217.4 786.1L217.6 792.7M217.6 795.0L217.6 800.5M217.2 802.4L216.9 809.2M216.1 811.7L216.3 817.7M217.7 818.8L218.4 825.1M217.9 826.5L218.3 832.6M217.5 833.6L217.4 840.7M217.6 842.8L217.6 849.6M209.3 786.5L209.0 793.4M209.2 793.3L208.9 800.7M208.8 802.3L209.3 809.5M209.4 809.9L208.8 817.1M209.4 819.0L209.3 825.0M209.2 827.3L209.3 833.0M209.7 834.7L209.1 840.8M209.4 843.0L209.9 849.9M201.0 785.9L200.2 792.7M201.4 794.8L201.4 801.8M201.1 802.3L201.5 808.3M201.1 810.0L200.8 816.5M201.1 818.2L200.5 825.6M201.6 826.7L201.2 833.1M202.1 834.6L201.3 841.0M200.3 842.1L200.6 848.4M283.4 849.0L278.2 849.4M194.3 849.6L189.8 849.3M241.4 850.6L237.0 851.4M270.9 849.8L267.4 849.5M271.7 850.6L266.0 850.0M257.2 849.5L252.0 849.0M201.6 850.0L195.7 850.4M214.1 849.3L208.6 849.6M190.5 848.7L184.9 849.7M260.7 849.2L257.2 850.0M241.3 849.9L237.4 850.6M246.0 850.7L241.0 847.8M278.3 850.2L272.6 851.1M261.6 850.0L257.1 848.4M192.8 851.4L189.1 849.5M235.9 849.6L232.0 850.2M256.6 850.6L251.4 851.4M254.2 850.7L250.5 849.8M188.8 849.9L183.8 849.2M216.3 849.5L212.5 850.5M280.6 851.3L275.7 850.0M242.8 851.7L238.0 850.3M270.0 850.9L265.8 852.2M221.7 850.5L216.7 849.5M215.6 850.6L210.6 849.3M266.8 849.1L262.1 851.0M205.3 850.9L199.8 848.9M209.8 850.5L206.1 849.6M193.2 850.9L189.1 850.5M258.5 849.5L252.8 849.9M213.1 851.0L212.6 855.0M205.5 852.8L204.3 855.7M243.1 853.0L243.6 856.2M184.2 852.4L182.9 856.7M176.4 851.4L177.5 854.3M219.5 849.7L220.8 855.0M214.3 853.7L212.9 856.7M260.3 849.1L262.3 853.0M185.0 848.4L186.3 853.7M237.3 852.4L236.4 857.7M254.3 852.3L257.8 855.4M192.4 851.3L191.8 855.2M229.6 851.8L230.8 856.6M262.2 849.7L264.1 852.4M181.2 849.5L179.5 853.3M224.7 851.6L225.1 855.3M259.0 850.9L257.5 853.6M231.9 849.1L235.4 853.0M182.9 849.6L182.5 854.3M218.2 851.8L220.4 854.6M224.4 850.2L224.7 853.5M195.9 851.1L196.8 855.4M177.6 846.6L177.0 849.9M173.4 845.5L174.6 848.8M174.7 828.6L173.9 831.8M176.4 764.9L176.9 770.1M174.1 791.7L173.2 795.1M175.4 817.3L174.1 822.1M174.8 789.7L176.3 793.5M174.7 816.9L174.4 820.7M175.8 756.5L174.3 760.1M177.4 749.3L176.9 753.3M174.2 830.4L172.9 834.1M176.2 755.2L175.9 759.7M174.1 782.1L173.8 785.1M174.6 765.1L173.8 769.8M174.5 749.3L173.8 754.1M175.0 773.2L173.7 777.1M176.1 790.7L175.7 795.7M172.8 804.4L174.4 809.6M174.2 758.7L172.9 763.5M176.8 773.1L176.8 777.2M265.8 746.9L260.9 745.3M230.5 749.3L228.6 746.1M209.3 748.2L205.2 745.3M187.0 746.6L182.3 747.8M214.2 747.5L210.2 746.9M235.5 746.9L231.1 746.7M209.2 747.3L205.0 748.2M217.5 746.5L214.6 747.7M306.4 782.3L309.2 788.5M305.9 788.6L308.1 795.0M306.2 795.4L309.5 801.2M304.9 802.2L308.8 808.7M305.5 809.7L310.0 816.1M306.2 824.7L309.4 829.6M306.0 831.0L309.3 835.4M307.1 837.4L310.1 844.2M305.3 844.6L309.8 851.0M313.7 782.4L316.6 788.1M312.5 789.3L316.6 795.9M313.7 797.6L316.9 802.8M313.0 803.2L317.1 810.1M314.2 817.5L316.1 822.8M313.8 824.6L316.3 829.8M312.9 832.3L316.6 837.9M313.1 836.8L316.9 842.9M320.7 782.5L323.1 789.7M321.7 788.9L323.4 795.4M319.8 803.1L323.2 808.5M320.8 809.9L323.9 815.8M320.4 816.9L322.8 823.3M319.9 837.7L323.7 844.4M320.5 844.4L324.2 849.6M329.2 780.7L331.8 787.2M328.2 788.6L331.7 794.7M327.9 796.3L331.8 802.1M327.2 803.8L330.6 809.5M328.0 817.2L331.4 823.6M328.8 838.3L331.9 843.4M336.3 781.0L339.0 788.2M335.6 789.6L337.7 795.0M336.2 795.0L338.4 801.5M335.8 836.9L340.1 843.3M336.8 844.7L338.5 850.1M342.9 749.8L347.3 753.7M342.7 755.1L346.6 759.1M343.4 762.2L346.1 768.4M343.6 768.3L345.7 774.8M343.6 776.4L345.6 781.8M343.3 781.4L345.9 787.8M344.8 788.8L346.2 794.8M345.5 810.3L346.6 815.8M343.6 816.7L345.8 823.4M344.0 844.9L346.3 850.0M349.4 749.4L354.9 750.6M348.6 756.2L355.5 758.6M350.5 760.8L352.1 768.5M352.2 767.9L354.1 774.0M351.3 775.6L353.0 781.6M352.3 782.6L354.1 788.7M351.8 789.0L352.9 795.9M351.4 795.3L352.7 802.7M351.4 815.7L354.1 823.1M351.1 830.6L352.4 837.0M351.4 837.3L353.8 844.6M351.5 843.5L353.6 851.1M357.8 749.3L362.8 752.3M357.7 757.2L363.1 759.1M358.5 761.7L360.1 767.3M358.5 768.3L359.5 774.0M358.1 775.1L359.3 781.7M359.6 782.3L361.6 788.8M357.5 789.5L360.0 796.6M358.6 801.9L360.7 809.2M359.0 810.1L361.2 817.6M358.5 823.0L359.6 828.5M358.3 838.0L361.1 844.0M358.3 845.0L360.6 850.4M364.4 749.1L369.3 752.2M365.1 755.4L370.0 760.5M366.9 762.2L368.6 767.9M365.8 769.1L368.0 775.8M366.1 775.5L367.3 782.0M367.0 781.7L368.4 787.1M365.9 788.0L367.8 795.6M367.2 802.9L368.6 809.7M366.8 809.4L367.4 816.7M366.1 823.5L368.1 829.5M372.6 749.4L376.7 753.6M370.9 756.2L378.1 758.4M374.0 762.1L376.7 768.6M374.4 768.1L375.9 774.4M373.6 774.6L375.0 781.6M374.5 781.6L375.5 787.9M374.3 788.0L374.9 794.8M373.0 795.8L374.6 802.5M373.0 816.5L374.4 822.3M373.0 844.1L375.1 850.0M379.7 748.1L384.3 752.0M379.7 754.4L384.0 759.7M381.1 761.5L382.5 767.8M380.6 768.0L381.7 775.8M381.0 775.1L382.2 783.0M381.1 781.6L382.0 788.5M381.0 788.6L383.0 795.7M380.3 796.0L382.0 803.0M380.9 802.3L382.0 809.5M380.4 810.4L381.0 816.8M382.0 822.9L383.6 830.7M386.5 748.9L391.6 753.5M386.3 754.7L392.0 759.5M389.1 761.3L388.9 767.5M388.7 767.8L389.6 773.4M388.6 775.0L389.3 781.0M389.4 781.4L389.8 788.4M388.2 789.4L390.3 796.6M390.1 795.9L388.9 802.7M388.7 802.9L389.6 810.0M389.1 809.9L388.6 816.1M389.0 816.2L390.4 822.9M389.1 822.4L390.3 830.1M389.0 830.8L389.6 836.4M388.8 838.1L389.9 843.6M389.3 845.2L389.9 851.1M394.3 748.9L399.1 753.0M392.3 756.2L398.6 759.3M395.5 762.2L396.4 768.3M396.7 768.6L396.0 775.3M397.7 774.9L397.3 782.4M396.7 783.0L396.7 789.0M396.8 788.5L397.2 794.5M396.3 795.4L396.7 801.7M394.8 803.3L395.4 810.0M396.6 810.4L397.1 816.0M396.5 817.5L396.6 823.5M396.2 824.1L397.2 831.3M396.6 831.2L397.1 837.8M396.0 837.4L396.0 843.6M395.6 844.8L396.4 850.5M400.6 748.6L407.2 752.9M401.6 753.8L406.5 759.9M403.0 762.0L403.8 767.8M403.4 767.4L405.0 774.4M403.6 775.3L404.3 782.7M404.5 782.6L404.7 789.3M404.6 789.9L404.8 796.0M404.4 795.2L405.0 802.4M403.1 803.2L403.7 809.9M404.3 809.1L403.9 817.0M403.5 817.2L403.3 822.9M404.8 824.1L404.7 829.7M405.1 829.4L405.4 836.7M404.0 836.9L404.5 844.3M404.5 844.7L404.5 850.8M303.7 786.0L311.8 788.6M304.4 794.8L312.1 798.0M304.7 802.8L312.8 805.7M304.0 811.2L311.9 813.8M304.8 820.7L313.4 823.7M305.4 827.0L312.0 830.1M304.7 835.3L312.2 839.3M304.6 843.5L311.3 847.3M313.5 788.2L321.2 789.8M312.7 796.7L321.3 799.2M313.3 804.6L321.7 807.1M314.1 812.6L321.4 815.2M313.6 820.7L321.3 824.1M313.2 828.1L320.2 832.3M313.2 836.5L321.2 841.1M314.2 844.2L322.0 849.1M321.5 789.1L330.3 792.4M321.5 796.1L329.2 799.2M321.8 805.4L329.3 808.8M322.5 813.0L329.5 816.1M321.8 821.7L329.3 825.8M322.2 828.5L329.2 833.2M322.1 837.8L328.9 841.6M322.3 845.3L328.0 849.6M330.6 790.7L337.8 793.0M331.0 797.3L338.0 800.4M330.3 805.6L337.5 808.7M330.9 814.3L337.4 817.3M331.1 821.6L338.3 825.1M330.9 829.9L339.1 834.2M331.0 837.7L337.1 842.2M339.7 791.7L347.0 794.6M340.0 798.9L346.8 801.9M338.8 807.1L346.8 810.7M338.5 813.5L346.6 818.0M339.4 822.0L346.1 826.5M338.9 831.3L345.9 835.1M339.8 840.0L345.5 844.3M348.3 792.9L355.4 794.9M347.0 799.8L355.9 802.8M347.7 807.8L354.8 811.0M348.1 816.1L356.0 819.9M348.7 824.7L355.7 828.3M348.3 832.2L354.7 835.5M347.6 840.8L354.2 844.9M356.7 793.6L363.9 795.5M356.8 801.8L363.3 804.9M356.7 809.8L364.4 812.9M357.8 817.2L364.2 820.2M356.9 824.9L364.0 828.8M356.9 833.4L363.1 836.9M357.7 840.7L364.9 845.9M364.8 794.1L372.1 797.5M364.6 801.9L372.9 805.2M365.0 809.7L373.1 813.4M365.2 818.4L371.6 821.6M364.8 827.2L372.8 831.9M364.4 834.5L371.0 837.6M365.3 841.8L372.0 846.3M373.2 795.0L381.2 797.4M373.4 803.4L381.5 806.8M373.8 811.3L381.5 815.6M373.6 820.1L381.2 822.5M373.5 827.7L380.0 831.8M373.5 834.6L381.5 838.9M372.9 842.8L380.4 848.4M382.1 795.7L389.1 798.3M382.3 805.1L390.3 808.2M382.5 813.0L389.5 815.6M382.9 820.7L389.7 823.5M382.8 828.4L389.2 832.2M382.6 836.5L390.8 841.1M381.8 843.6L389.5 848.8M390.4 796.2L398.7 799.3M391.3 805.7L398.2 808.0M390.7 812.8L398.4 816.6M390.0 821.4L397.8 825.6M390.8 829.8L398.7 833.2M391.3 837.3L399.0 842.1M392.1 845.2L397.9 849.2M309.9 787.0L309.9 792.9M309.5 793.2L309.5 800.4M309.7 803.8L309.9 810.4M309.9 810.8L310.4 817.8M309.0 816.9L309.0 823.4M309.1 826.4L309.0 833.8M309.6 834.0L308.5 841.2M309.3 842.2L309.8 849.6M317.3 785.4L317.6 792.4M318.0 795.6L318.2 801.6M318.2 801.9L317.6 808.5M317.8 810.4L317.6 817.6M317.1 818.8L317.2 824.9M317.5 827.2L317.4 832.7M317.6 834.8L317.5 840.4M317.3 842.0L317.5 848.6M325.9 786.3L326.0 792.3M326.0 795.0L326.5 801.8M326.7 802.7L326.1 808.7M325.7 809.9L326.3 816.9M325.5 816.8L325.7 824.2M326.1 826.4L326.1 832.1M326.7 834.5L326.5 841.3M325.4 843.6L325.2 849.8M333.8 786.9L333.7 792.6M335.0 794.4L333.8 800.5M334.0 802.2L334.5 809.6M334.6 810.5L334.6 817.8M334.4 818.5L333.9 824.1M334.5 826.3L334.2 833.6M333.3 834.0L333.3 841.1M333.3 842.8L333.7 848.7M342.1 786.8L341.9 793.1M342.5 796.4L341.8 802.1M342.9 803.9L342.3 809.8M341.8 810.5L342.1 816.2M342.4 818.3L342.8 825.0M342.3 825.9L342.7 833.3M342.5 834.3L342.7 840.7M343.0 842.6L342.8 849.1M350.7 786.1L350.7 792.7M350.8 795.5L350.0 801.8M351.0 802.7L350.7 809.4M351.4 811.7L351.3 817.4M351.1 817.4L350.9 823.3M350.7 827.5L350.9 833.4M350.3 834.7L350.5 840.2M350.5 841.7L350.2 847.6M358.4 786.1L357.8 792.9M358.5 794.4L358.4 800.1M359.2 803.7L359.0 809.4M359.9 809.4L359.2 816.1M359.6 819.3L359.6 825.5M358.7 826.8L358.7 833.2M358.9 833.7L358.9 841.0M359.2 841.8L359.1 848.8M366.4 786.4L366.9 793.4M366.7 794.6L367.0 801.6M367.4 802.2L366.8 809.3M366.2 809.5L366.3 816.5M365.9 818.0L366.9 824.6M366.2 826.1L367.2 832.2M367.0 835.0L366.6 841.1M367.0 841.6L366.7 848.3M375.4 785.9L375.0 792.3M375.8 795.0L375.6 801.8M375.0 801.9L375.4 808.4M374.2 810.2L373.8 817.3M374.5 817.5L375.3 825.0M375.5 826.3L375.4 833.7M376.2 834.3L375.6 841.5M375.5 842.2L374.8 847.8M382.8 786.9L382.9 793.7M383.2 793.8L383.6 800.8M384.2 802.7L384.2 809.4M383.3 809.5L383.4 815.2M383.2 818.7L382.9 825.3M383.6 826.6L383.0 833.7M383.9 834.6L383.5 842.0M383.1 842.7L383.1 850.0M382.4 851.1L386.8 850.8M352.5 851.2L357.6 851.7M401.2 849.4L405.2 849.5M350.0 851.7L353.4 850.5M321.8 850.9L327.1 850.2M311.0 849.5L315.3 849.1M318.9 848.7L323.9 849.9M400.8 850.4L405.9 851.0M339.3 851.4L344.3 851.1M365.5 851.1L370.1 851.7M310.5 850.6L314.6 850.4M375.0 849.0L378.3 850.9M329.9 850.4L333.5 850.4M382.5 850.4L386.2 851.4M357.0 848.8L361.1 849.8M348.6 851.2L352.8 849.8M337.8 850.8L342.6 848.4M339.2 849.4L344.8 849.9M347.1 850.6L351.7 851.7M362.7 850.4L366.2 849.1M349.0 849.3L353.2 850.2M336.9 849.7L341.0 849.5M328.4 849.6L334.0 849.5M373.3 851.1L377.5 851.6M354.0 850.9L359.6 851.5M391.3 848.6L395.8 849.6M302.4 849.9L306.2 850.0M392.2 849.8L397.8 849.4M313.4 849.9L317.4 850.5M327.2 851.8L331.5 851.4M405.2 853.8L408.4 857.0M325.5 848.7L328.2 853.0M408.7 852.9L409.3 856.5M408.4 851.1L406.7 856.2M387.6 852.0L387.2 856.6M304.5 853.2L305.6 857.4M356.6 851.4L352.7 855.0M392.0 850.7L391.3 854.5M336.3 848.9L337.3 852.8M303.2 853.9L302.5 857.0M329.7 852.8L331.6 856.1M312.2 850.8L313.1 854.7M361.7 852.3L362.2 856.3M408.3 849.2L408.3 854.5M360.2 849.0L361.2 853.9M398.3 850.1L395.2 852.4M385.2 852.7L388.5 855.7M344.8 849.6L343.0 854.7M308.2 851.8L311.6 855.1M327.3 848.9L324.3 852.6M336.8 850.6L339.4 854.9M312.2 851.6L313.0 856.9M409.0 835.6L410.5 838.8M407.1 771.9L410.5 776.2M410.9 831.2L410.8 836.6M410.8 819.5L409.4 823.5M408.1 837.2L407.2 841.0M407.2 749.0L409.1 754.1M409.6 787.0L409.9 790.4M406.7 814.3L408.1 818.3M408.4 838.1L409.3 841.1M407.8 825.6L408.4 829.6M408.9 822.4L407.9 825.4M408.7 817.3L410.1 820.9M410.7 752.1L408.7 755.4M409.2 805.9L409.7 810.3M410.7 770.1L410.6 773.6M410.0 765.3L409.4 769.8M410.9 823.0L410.5 827.4M410.6 830.7L410.8 836.1M411.8 809.1L410.1 813.4M408.3 750.2L408.9 754.8M369.3 745.4L374.4 747.1M302.2 746.3L307.1 748.3M350.9 745.3L354.3 746.3M338.8 746.3L343.2 745.3M370.5 746.4L373.2 749.1M403.5 747.6L407.7 746.1M376.7 744.4L375.3 748.8M342.2 747.3L347.0 746.9M271.2 855.7L271.1 859.5M271.6 863.3L271.6 866.8M271.3 869.3L271.6 874.1M271.8 876.8L271.4 880.9M272.0 883.4L272.0 887.2M271.6 889.4L271.7 893.3M271.7 895.0L271.2 899.1M284.6 780.0L284.3 783.6M284.8 786.8L284.6 791.0M284.2 793.0L284.3 797.6M283.9 798.8L283.9 803.0M284.4 805.5L284.4 809.0M284.1 810.7L284.5 815.0M283.6 816.8L283.8 820.7M284.0 824.1L284.0 827.6M284.5 829.6L284.3 834.1M284.1 836.2L284.1 840.5M284.4 842.4L284.5 846.5M284.0 847.7L284.3 852.6M284.3 855.5L284.2 859.4M284.1 862.8L284.0 866.4M284.4 869.9L284.4 873.6M283.6 876.8L283.7 881.0M283.6 883.6L284.2 888.5M284.2 889.8L284.4 894.7M288.1 779.8L288.2 783.8M288.3 786.5L288.4 790.8M288.0 793.2L287.8 797.7M288.2 800.0L288.2 804.9M287.9 808.0L288.2 811.8M287.9 813.3L287.9 818.2M288.7 820.2L288.3 823.7M288.1 825.2L287.9 829.8M288.2 832.3L288.2 837.1M288.1 840.3L288.3 843.8M288.2 847.2L288.7 851.7M287.8 853.3L287.7 858.1M288.4 860.4L288.5 864.1M288.1 865.8L288.2 870.7M288.5 871.8L288.4 876.7M288.6 878.5L288.6 882.0M288.4 884.0L288.5 887.9M288.0 890.8L288.3 895.3M297.7 780.0L297.2 783.6M297.1 786.8L297.0 790.7M297.5 792.2L297.4 796.9M297.4 799.3L297.7 803.9M297.5 806.4L297.3 810.2M297.6 812.7L297.5 816.7M297.3 819.4L297.4 823.4M297.3 825.5L297.2 830.3M297.5 832.3L297.3 836.7M297.3 838.1L297.3 842.1M297.9 844.3L297.6 848.8M297.4 851.2L297.4 855.3M298.0 856.9L298.2 860.7M297.7 863.0L297.3 867.3M297.5 869.2L297.8 873.2M297.0 876.0L297.6 880.6M297.7 882.7L297.5 887.7M297.8 890.6L297.7 894.1M301.4 779.6L301.1 784.0M300.9 786.0L301.0 790.7M300.8 792.4L301.0 796.0M301.3 798.5L301.2 803.1M301.4 805.5L300.9 810.0M300.7 812.3L300.9 816.7M301.3 818.6L301.2 822.7M300.8 824.8L301.0 829.5M300.7 832.2L300.7 835.9M301.2 837.6L301.2 841.9M301.0 844.7L301.4 848.8M301.4 851.0L301.4 855.4M301.4 856.7L301.3 861.3M301.4 864.0L301.3 868.9M301.5 870.9L301.3 875.3M300.5 877.3L300.1 880.8M301.1 884.4L301.2 888.6M301.1 890.8L301.0 894.4M312.5 855.3L312.6 859.9M312.9 861.5L313.0 865.2M312.6 868.3L312.6 873.2M312.8 875.7L312.6 879.4M312.5 881.2L312.3 886.1M313.1 888.2L313.4 892.5M312.2 894.9L312.3 898.6" stroke="#2030d0" stroke-width="0.62" fill="none" stroke-linecap="round" opacity="0.88"/>
<path d="M183.1 623.3l-1.7 0.1M183.1 623.3l-1.0 -1.4M178.6 633.1l0.3 -1.7M178.6 633.1l1.6 -0.6M181.0 641.3l-0.8 -1.5M181.0 641.3l0.8 -1.5M180.2 649.6l-0.4 -1.6M180.2 649.6l1.2 -1.2M180.8 657.0l-0.9 -1.5M180.8 657.0l0.8 -1.5M180.7 665.2l-0.7 -1.5M180.7 665.2l0.9 -1.4M181.2 673.3l-1.0 -1.4M181.2 673.3l0.7 -1.6M180.7 681.1l-0.9 -1.4M180.7 681.1l0.7 -1.5M182.2 689.4l-0.9 -1.4M182.2 689.4l0.7 -1.5M180.6 697.0l-0.8 -1.5M180.6 697.0l0.8 -1.5M180.6 704.9l-0.6 -1.6M180.6 704.9l1.0 -1.4M182.0 713.8l-1.1 -1.3M182.0 713.8l0.5 -1.6M181.4 720.8l-0.7 -1.5M181.4 720.8l0.9 -1.4M191.4 623.8l-1.7 -0.1M191.4 623.8l-0.8 -1.5M190.5 631.8l-1.6 -0.5M190.5 631.8l-0.4 -1.6M188.7 640.9l-0.8 -1.5M188.7 640.9l0.9 -1.5M188.9 647.9l-0.9 -1.4M188.9 647.9l0.7 -1.6M188.9 656.1l-0.7 -1.6M188.9 656.1l0.9 -1.4M189.0 664.9l-0.8 -1.5M189.0 664.9l0.8 -1.5M189.6 672.5l-0.9 -1.4M189.6 672.5l0.7 -1.5M188.1 680.2l-0.7 -1.6M188.1 680.2l0.9 -1.4M189.0 689.5l-0.8 -1.5M189.0 689.5l0.8 -1.5M188.9 696.6l-0.8 -1.5M188.9 696.6l0.8 -1.5M189.2 705.0l-0.8 -1.5M189.2 705.0l0.8 -1.5M188.3 713.1l-0.7 -1.6M188.3 713.1l1.0 -1.4M188.9 721.9l-0.8 -1.5M188.9 721.9l0.8 -1.5M194.2 623.1l1.1 -1.3M194.2 623.1l1.7 0.2M199.1 630.9l-1.7 0.4M199.1 630.9l-1.2 -1.2M196.4 641.0l-0.7 -1.5M196.4 641.0l0.9 -1.4M196.1 648.3l-0.7 -1.5M196.1 648.3l0.9 -1.4M196.6 655.8l-0.8 -1.5M196.6 655.8l0.8 -1.5M196.1 663.9l-0.7 -1.5M196.1 663.9l0.9 -1.4M196.8 672.4l-0.8 -1.5M196.8 672.4l0.8 -1.5M196.6 680.5l-0.7 -1.5M196.6 680.5l0.9 -1.4M196.8 689.1l-0.7 -1.5M196.8 689.1l0.9 -1.4M196.5 697.3l-0.9 -1.4M196.5 697.3l0.7 -1.5M196.7 705.2l-0.8 -1.5M196.7 705.2l0.8 -1.5M196.6 713.2l-0.8 -1.5M196.6 713.2l0.8 -1.5M196.4 721.5l-0.8 -1.5M196.4 721.5l0.8 -1.5M207.1 624.5l-1.6 -0.6M207.1 624.5l-0.4 -1.7M206.9 631.5l-1.7 -0.1M206.9 631.5l-0.8 -1.5M203.9 640.6l-0.7 -1.5M203.9 640.6l0.9 -1.5M205.3 648.8l-0.9 -1.4M205.3 648.8l0.7 -1.6M204.5 656.5l-1.1 -1.3M204.5 656.5l0.5 -1.6M205.4 664.5l-1.0 -1.4M205.4 664.5l0.6 -1.6M204.5 672.7l-0.8 -1.5M204.5 672.7l0.8 -1.5M204.7 679.6l-0.9 -1.4M204.7 679.6l0.7 -1.6M205.1 688.5l-1.0 -1.4M205.1 688.5l0.6 -1.6M204.4 696.0l-0.7 -1.5M204.4 696.0l0.9 -1.4M205.0 703.6l-0.7 -1.6M205.0 703.6l1.0 -1.4M204.3 711.5l-0.7 -1.5M204.3 711.5l0.9 -1.4M205.5 719.4l-1.0 -1.4M205.5 719.4l0.6 -1.6M214.4 623.9l-1.6 -0.5M214.4 623.9l-0.5 -1.6M210.0 630.8l1.1 -1.3M210.0 630.8l1.7 0.2M212.9 640.8l-0.8 -1.5M212.9 640.8l0.8 -1.5M212.9 649.3l-0.9 -1.4M212.9 649.3l0.7 -1.6M212.8 657.1l-0.9 -1.5M212.8 657.1l0.8 -1.5M212.3 666.1l-0.6 -1.6M212.3 666.1l1.0 -1.4M212.6 673.4l-0.8 -1.5M212.6 673.4l0.8 -1.5M212.3 681.5l-0.6 -1.6M212.3 681.5l1.1 -1.3M212.4 689.2l-0.6 -1.6M212.4 689.2l1.0 -1.4M212.4 697.9l-0.9 -1.4M212.4 697.9l0.7 -1.6M212.9 705.4l-0.8 -1.5M212.9 705.4l0.9 -1.5M213.1 712.8l-1.0 -1.4M213.1 712.8l0.6 -1.6M213.3 720.9l-0.9 -1.4M213.3 720.9l0.7 -1.6M217.6 623.5l0.8 -1.5M217.6 623.5l1.7 -0.1M223.6 632.4l-1.7 -0.1M223.6 632.4l-0.8 -1.5M220.8 641.0l-1.0 -1.4M220.8 641.0l0.6 -1.6M221.0 649.9l-0.9 -1.5M221.0 649.9l0.7 -1.5M219.7 657.3l-0.7 -1.6M219.7 657.3l1.0 -1.4M220.9 664.1l-0.8 -1.5M220.9 664.1l0.8 -1.5M219.9 672.0l-0.5 -1.6M219.9 672.0l1.1 -1.3M220.4 680.0l-0.7 -1.6M220.4 680.0l1.0 -1.4M220.9 688.7l-0.9 -1.5M220.9 688.7l0.7 -1.5M220.0 695.5l-0.7 -1.6M220.0 695.5l1.0 -1.4M219.9 704.0l-0.8 -1.5M219.9 704.0l0.8 -1.5M219.7 712.7l-0.5 -1.6M219.7 712.7l1.1 -1.3M219.7 720.7l-0.5 -1.6M219.7 720.7l1.1 -1.3M231.9 623.6l-1.7 -0.0M231.9 623.6l-0.9 -1.4M230.6 632.0l-1.7 -0.2M230.6 632.0l-0.8 -1.5M228.8 641.3l-0.8 -1.5M228.8 641.3l0.8 -1.5M228.8 648.6l-0.9 -1.4M228.8 648.6l0.7 -1.6M229.1 655.9l-0.9 -1.4M229.1 655.9l0.7 -1.6M229.0 664.4l-1.2 -1.2M229.0 664.4l0.4 -1.7M228.9 672.3l-0.7 -1.6M228.9 672.3l1.0 -1.4M228.1 680.7l-0.8 -1.5M228.1 680.7l0.9 -1.5M229.4 689.3l-0.9 -1.4M229.4 689.3l0.7 -1.5M228.4 697.3l-0.7 -1.5M228.4 697.3l0.9 -1.4M228.6 705.3l-0.6 -1.6M228.6 705.3l1.0 -1.4M228.0 712.0l-0.5 -1.6M228.0 712.0l1.1 -1.3M228.3 720.5l-0.5 -1.6M228.3 720.5l1.1 -1.3M239.1 623.6l-1.7 0.1M239.1 623.6l-1.0 -1.4M238.8 630.9l-1.7 -0.1M238.8 630.9l-0.8 -1.5M236.4 641.0l-0.9 -1.4M236.4 641.0l0.7 -1.5M236.2 649.1l-0.8 -1.5M236.2 649.1l0.9 -1.5M236.1 657.0l-0.7 -1.5M236.1 657.0l0.9 -1.4M237.5 666.1l-0.7 -1.5M237.5 666.1l0.9 -1.4M237.0 673.0l-0.8 -1.5M237.0 673.0l0.8 -1.5M236.0 681.1l-0.7 -1.5M236.0 681.1l0.9 -1.5M237.0 687.8l-0.9 -1.4M237.0 687.8l0.7 -1.5M235.6 696.4l-0.7 -1.5M235.6 696.4l0.9 -1.4M236.3 703.5l-0.7 -1.5M236.3 703.5l0.9 -1.4M235.8 711.2l-0.3 -1.7M235.8 711.2l1.3 -1.1M235.6 719.2l-0.4 -1.6M235.6 719.2l1.1 -1.3M242.6 624.0l0.5 -1.6M242.6 624.0l1.6 -0.5M246.4 632.9l-1.5 -0.7M246.4 632.9l-0.2 -1.7M244.9 641.0l-1.0 -1.4M244.9 641.0l0.7 -1.6M244.0 649.5l-0.6 -1.6M244.0 649.5l1.0 -1.4M245.1 656.7l-1.0 -1.4M245.1 656.7l0.6 -1.6M244.7 664.0l-0.7 -1.5M244.7 664.0l0.9 -1.4M243.8 673.3l-0.7 -1.5M243.8 673.3l0.9 -1.5M245.0 681.1l-1.0 -1.4M245.0 681.1l0.7 -1.6M243.8 690.1l-0.6 -1.6M243.8 690.1l1.0 -1.4M243.1 697.8l-0.4 -1.6M243.1 697.8l1.2 -1.2M242.6 706.4l-0.1 -1.7M242.6 706.4l1.4 -1.0M243.9 714.2l-0.3 -1.7M243.9 714.2l1.3 -1.1M253.6 625.0l-1.5 -0.8M253.6 625.0l-0.1 -1.7M255.3 630.3l-1.7 0.4M255.3 630.3l-1.2 -1.2M252.7 641.1l-0.9 -1.4M252.7 641.1l0.7 -1.6M252.0 649.3l-0.9 -1.5M252.0 649.3l0.7 -1.5M252.4 656.0l-1.0 -1.4M252.4 656.0l0.6 -1.6M252.3 664.0l-0.7 -1.5M252.3 664.0l0.9 -1.4M253.2 671.7l-0.8 -1.5M253.2 671.7l0.8 -1.5M251.9 680.1l-0.6 -1.6M251.9 680.1l1.0 -1.4M252.0 687.9l-0.7 -1.6M252.0 687.9l0.9 -1.4M251.5 695.5l-0.1 -1.7M251.5 695.5l1.4 -1.0M251.4 703.9l-0.1 -1.7M251.4 703.9l1.4 -1.0M250.5 711.0l0.2 -1.7M250.5 711.0l1.5 -0.7M251.0 719.4l0.1 -1.7M251.0 719.4l1.5 -0.9M263.3 623.5l-1.7 0.0M263.3 623.5l-1.0 -1.4M262.5 632.6l-1.6 -0.5M262.5 632.6l-0.5 -1.6M259.8 641.8l-0.4 -1.6M259.8 641.8l1.2 -1.2M259.9 649.0l-0.7 -1.6M259.9 649.0l0.9 -1.4M260.8 658.0l-0.8 -1.5M260.8 658.0l0.8 -1.5M261.4 666.0l-1.2 -1.2M261.4 666.0l0.4 -1.6M260.4 673.9l-0.7 -1.6M260.4 673.9l1.0 -1.4M260.2 681.2l-0.7 -1.6M260.2 681.2l1.0 -1.4M259.8 689.3l-0.7 -1.6M259.8 689.3l0.9 -1.4M260.1 697.6l-0.5 -1.6M260.1 697.6l1.1 -1.3M258.5 705.4l0.3 -1.7M258.5 705.4l1.6 -0.7M257.7 712.9l0.5 -1.6M257.7 712.9l1.6 -0.4M258.9 720.9l0.3 -1.7M258.9 720.9l1.6 -0.6M271.5 624.0l-1.7 -0.4M271.5 624.0l-0.6 -1.6M265.6 631.1l1.2 -1.2M265.6 631.1l1.7 0.3M268.3 641.2l-0.9 -1.5M268.3 641.2l0.8 -1.5M268.2 648.7l-0.6 -1.6M268.2 648.7l1.0 -1.4M268.8 656.5l-0.9 -1.4M268.8 656.5l0.7 -1.5M267.7 664.2l-0.8 -1.5M267.7 664.2l0.8 -1.5M267.7 672.5l-0.7 -1.5M267.7 672.5l0.9 -1.5M268.7 680.2l-0.9 -1.4M268.7 680.2l0.7 -1.5M267.6 687.5l-0.9 -1.5M267.6 687.5l0.7 -1.5M266.6 695.5l-0.3 -1.7M266.6 695.5l1.2 -1.2M267.1 702.6l0.3 -1.7M267.1 702.6l1.6 -0.6M266.2 710.6l0.2 -1.7M266.2 710.6l1.5 -0.7M266.1 717.6l0.6 -1.6M266.1 717.6l1.7 -0.4M273.9 623.7l0.8 -1.5M273.9 623.7l1.7 -0.2M273.8 632.1l0.7 -1.6M273.8 632.1l1.7 -0.3M276.6 642.2l-1.1 -1.3M276.6 642.2l0.5 -1.6M277.0 650.1l-1.0 -1.4M277.0 650.1l0.6 -1.6M277.4 658.4l-1.1 -1.3M277.4 658.4l0.6 -1.6M276.7 665.6l-0.9 -1.4M276.7 665.6l0.7 -1.5M276.6 673.7l-0.9 -1.5M276.6 673.7l0.7 -1.5M276.7 682.0l-1.0 -1.3M276.7 682.0l0.6 -1.6M275.0 689.4l-0.5 -1.6M275.0 689.4l1.1 -1.3M275.3 697.0l-0.3 -1.7M275.3 697.0l1.2 -1.2M274.3 704.7l0.1 -1.7M274.3 704.7l1.5 -0.8M274.0 712.2l0.7 -1.5M274.0 712.2l1.7 -0.2M273.5 720.7l0.8 -1.5M273.5 720.7l1.7 -0.2M175.5 687.4l-0.9 -1.5M175.5 687.4l0.8 -1.5M175.5 670.8l0.7 1.6M175.5 670.8l-0.9 1.4M176.3 716.4l1.4 0.9M176.3 716.4l-0.0 1.7M175.8 690.6l1.2 1.2M175.8 690.6l-0.4 1.7M175.8 701.7l1.5 0.9M175.8 701.7l0.0 1.7M177.1 702.9l-0.6 1.6M177.1 702.9l-1.7 0.3M175.3 670.7l1.2 1.2M175.3 670.7l-0.4 1.6M178.3 664.1l-1.6 -0.7M178.3 664.1l-0.3 -1.7M175.2 659.2l-1.4 -0.9M175.2 659.2l-0.0 -1.7M178.4 649.0l-1.3 1.1M178.4 649.0l-1.6 -0.5M176.1 629.4l1.5 0.7M176.1 629.4l0.2 1.7M176.0 626.4l1.2 -1.2M176.0 626.4l1.7 0.4M176.0 624.3l-1.7 -0.3M176.0 624.3l-0.6 -1.6M177.4 641.4l1.1 1.3M177.4 641.4l-0.5 1.6M177.5 640.0l-0.5 -1.6M177.5 640.0l1.1 -1.3M173.2 650.6l1.7 -0.3M173.2 650.6l1.2 1.2M225.4 723.6l0.3 -1.7M225.4 723.6l1.6 -0.7M234.4 725.8l-1.5 -0.8M234.4 725.8l-0.1 -1.7M198.8 722.9l0.3 -1.7M198.8 722.9l1.6 -0.6M231.8 724.6l-1.1 -1.3M231.8 724.6l0.4 -1.6M278.8 725.2l-0.8 -1.5M278.8 725.2l0.8 -1.5M305.2 623.9l0.8 -1.5M305.2 623.9l1.7 -0.1M306.5 631.6l0.6 -1.6M306.5 631.6l1.7 -0.3M308.0 640.8l-0.9 -1.4M308.0 640.8l0.7 -1.6M308.5 649.8l-0.9 -1.4M308.5 649.8l0.7 -1.5M308.1 657.1l-0.7 -1.5M308.1 657.1l0.9 -1.4M308.4 664.6l-0.7 -1.5M308.4 664.6l0.9 -1.4M307.9 672.8l-0.9 -1.4M307.9 672.8l0.7 -1.6M308.4 681.2l-0.9 -1.5M308.4 681.2l0.8 -1.5M308.5 688.8l-0.9 -1.5M308.5 688.8l0.8 -1.5M309.6 697.0l-1.3 -1.1M309.6 697.0l0.2 -1.7M310.3 704.4l-1.6 -0.6M310.3 704.4l-0.3 -1.7M311.0 711.9l-1.7 -0.3M311.0 711.9l-0.7 -1.6M310.4 720.2l-1.7 -0.4M310.4 720.2l-0.6 -1.6M313.4 623.4l0.9 -1.4M313.4 623.4l1.7 0.0M313.4 631.2l0.7 -1.5M313.4 631.2l1.7 -0.2M316.1 640.4l-0.9 -1.4M316.1 640.4l0.7 -1.5M315.8 649.0l-0.7 -1.6M315.8 649.0l0.9 -1.4M316.3 656.8l-0.7 -1.5M316.3 656.8l0.9 -1.4M316.2 664.0l-0.9 -1.5M316.2 664.0l0.8 -1.5M315.9 671.5l-0.9 -1.5M315.9 671.5l0.8 -1.5M316.7 679.3l-1.0 -1.4M316.7 679.3l0.6 -1.6M316.8 687.3l-1.1 -1.3M316.8 687.3l0.5 -1.6M317.2 694.8l-1.2 -1.2M317.2 694.8l0.4 -1.7M317.7 702.5l-1.5 -0.8M317.7 702.5l-0.1 -1.7M318.4 709.6l-1.7 -0.3M318.4 709.6l-0.7 -1.6M319.1 718.3l-1.6 -0.4M319.1 718.3l-0.5 -1.6M326.5 624.0l-1.7 -0.3M326.5 624.0l-0.6 -1.6M326.8 632.0l-1.7 -0.2M326.8 632.0l-0.7 -1.5M324.6 640.8l-1.0 -1.3M324.6 640.8l0.6 -1.6M324.5 648.7l-1.1 -1.3M324.5 648.7l0.5 -1.6M323.5 657.5l-0.8 -1.5M323.5 657.5l0.8 -1.5M324.5 664.5l-0.8 -1.5M324.5 664.5l0.8 -1.5M324.2 672.5l-0.9 -1.5M324.2 672.5l0.8 -1.5M324.0 680.0l-0.6 -1.6M324.0 680.0l1.0 -1.4M324.7 688.0l-1.0 -1.4M324.7 688.0l0.6 -1.6M324.4 695.3l-1.2 -1.2M324.4 695.3l0.4 -1.7M326.3 703.9l-1.4 -0.9M326.3 703.9l-0.0 -1.7M326.3 711.4l-1.6 -0.7M326.3 711.4l-0.3 -1.7M325.4 718.3l-1.6 -0.5M325.4 718.3l-0.5 -1.6M334.6 623.8l-1.7 -0.0M334.6 623.8l-0.9 -1.5M333.9 632.7l-1.6 -0.5M333.9 632.7l-0.5 -1.6M332.4 641.5l-1.0 -1.4M332.4 641.5l0.6 -1.6M332.3 649.8l-0.8 -1.5M332.3 649.8l0.8 -1.5M331.5 657.4l-0.7 -1.5M331.5 657.4l0.9 -1.4M332.0 665.3l-0.8 -1.5M332.0 665.3l0.8 -1.5M332.5 672.7l-0.8 -1.5M332.5 672.7l0.8 -1.5M331.7 680.9l-0.9 -1.5M331.7 680.9l0.8 -1.5M331.5 689.2l-1.1 -1.3M331.5 689.2l0.5 -1.6M332.4 697.4l-1.1 -1.3M332.4 697.4l0.4 -1.6M332.7 705.6l-1.3 -1.1M332.7 705.6l0.2 -1.7M333.8 714.0l-1.5 -0.8M333.8 714.0l-0.2 -1.7M336.9 624.0l0.7 -1.5M336.9 624.0l1.7 -0.2M341.3 632.9l-1.5 -0.7M341.3 632.9l-0.2 -1.7M339.7 640.8l-0.8 -1.5M339.7 640.8l0.9 -1.5M340.0 648.3l-1.0 -1.4M340.0 648.3l0.7 -1.6M340.3 657.6l-0.8 -1.5M340.3 657.6l0.9 -1.5M340.1 665.4l-0.9 -1.5M340.1 665.4l0.8 -1.5M340.3 673.5l-0.9 -1.4M340.3 673.5l0.7 -1.5M339.2 680.3l-0.8 -1.5M339.2 680.3l0.8 -1.5M340.2 688.0l-1.0 -1.4M340.2 688.0l0.6 -1.6M340.5 696.8l-1.0 -1.4M340.5 696.8l0.6 -1.6M341.4 705.2l-1.3 -1.0M341.4 705.2l0.2 -1.7M340.7 713.0l-1.4 -1.0M340.7 713.0l0.1 -1.7M341.6 720.9l-1.4 -1.0M341.6 720.9l0.1 -1.7M350.3 623.8l-1.6 -0.4M350.3 623.8l-0.5 -1.6M345.5 631.3l1.0 -1.4M345.5 631.3l1.7 0.1M347.7 641.9l-0.6 -1.6M347.7 641.9l1.0 -1.4M348.5 649.7l-0.8 -1.5M348.5 649.7l0.8 -1.5M348.0 657.0l-1.0 -1.4M348.0 657.0l0.7 -1.6M348.6 664.7l-1.1 -1.3M348.6 664.7l0.5 -1.6M347.8 672.3l-0.7 -1.5M347.8 672.3l0.9 -1.4M347.4 680.9l-0.7 -1.5M347.4 680.9l0.9 -1.4M347.8 689.1l-0.8 -1.5M347.8 689.1l0.9 -1.5M348.0 696.4l-0.9 -1.4M348.0 696.4l0.7 -1.5M347.9 705.4l-1.0 -1.4M347.9 705.4l0.6 -1.6M348.5 712.5l-1.2 -1.2M348.5 712.5l0.4 -1.7M349.4 721.2l-1.3 -1.1M349.4 721.2l0.2 -1.7M354.0 623.1l1.1 -1.3M354.0 623.1l1.7 0.2M352.9 632.4l0.8 -1.5M352.9 632.4l1.7 -0.1M356.4 641.7l-0.9 -1.4M356.4 641.7l0.7 -1.6M355.2 649.4l-0.7 -1.6M355.2 649.4l1.0 -1.4M356.6 657.4l-1.0 -1.4M356.6 657.4l0.6 -1.6M356.5 665.6l-1.0 -1.4M356.5 665.6l0.6 -1.6M355.5 674.3l-0.6 -1.6M355.5 674.3l1.0 -1.4M355.7 682.4l-0.7 -1.6M355.7 682.4l1.0 -1.4M355.8 689.6l-1.0 -1.4M355.8 689.6l0.6 -1.6M356.3 698.5l-1.0 -1.3M356.3 698.5l0.6 -1.6M356.8 705.7l-1.2 -1.2M356.8 705.7l0.4 -1.7M356.3 714.0l-1.1 -1.3M356.3 714.0l0.5 -1.6M356.9 721.2l-1.1 -1.3M356.9 721.2l0.5 -1.6M367.2 623.4l-1.7 0.1M367.2 623.4l-1.0 -1.4M361.5 631.7l0.9 -1.5M361.5 631.7l1.7 -0.0M363.7 641.5l-0.6 -1.6M363.7 641.5l1.0 -1.4M364.0 649.7l-0.7 -1.5M364.0 649.7l0.9 -1.4M364.2 658.4l-1.0 -1.4M364.2 658.4l0.6 -1.6M363.1 665.9l-0.7 -1.5M363.1 665.9l0.9 -1.5M363.3 672.6l-0.8 -1.5M363.3 672.6l0.8 -1.5M363.9 680.6l-0.8 -1.5M363.9 680.6l0.9 -1.5M363.9 688.0l-0.9 -1.5M363.9 688.0l0.7 -1.5M364.0 696.8l-0.9 -1.5M364.0 696.8l0.8 -1.5M364.3 704.6l-1.1 -1.3M364.3 704.6l0.5 -1.6M364.1 713.7l-1.0 -1.4M364.1 713.7l0.6 -1.6M364.3 721.6l-0.9 -1.5M364.3 721.6l0.8 -1.5M369.4 623.7l0.9 -1.4M369.4 623.7l1.7 -0.0M369.5 630.7l1.0 -1.3M369.5 630.7l1.7 0.2M371.6 640.9l-0.7 -1.6M371.6 640.9l0.9 -1.4M370.9 648.8l-0.6 -1.6M370.9 648.8l1.0 -1.3M371.1 656.2l-0.7 -1.5M371.1 656.2l0.9 -1.4M371.5 664.1l-0.8 -1.5M371.5 664.1l0.8 -1.5M372.4 672.3l-0.8 -1.5M372.4 672.3l0.8 -1.5M371.5 680.7l-0.9 -1.5M371.5 680.7l0.8 -1.5M372.0 688.5l-0.8 -1.5M372.0 688.5l0.8 -1.5M371.9 696.9l-0.8 -1.5M371.9 696.9l0.8 -1.5M372.3 704.0l-0.7 -1.5M372.3 704.0l0.9 -1.4M371.6 712.9l-0.8 -1.5M371.6 712.9l0.8 -1.5M371.5 720.7l-0.7 -1.5M371.5 720.7l0.9 -1.5M377.3 623.2l1.1 -1.3M377.3 623.2l1.7 0.2M382.1 631.7l-1.7 -0.1M382.1 631.7l-0.8 -1.5M380.4 641.0l-0.8 -1.5M380.4 641.0l0.8 -1.5M380.4 648.8l-1.0 -1.4M380.4 648.8l0.6 -1.6M379.2 656.1l-0.7 -1.6M379.2 656.1l0.9 -1.4M379.6 664.4l-0.7 -1.6M379.6 664.4l0.9 -1.4M380.1 672.8l-1.0 -1.4M380.1 672.8l0.7 -1.6M379.9 681.2l-1.0 -1.4M379.9 681.2l0.6 -1.6M379.5 689.7l-0.9 -1.5M379.5 689.7l0.8 -1.5M379.8 698.3l-0.6 -1.6M379.8 698.3l1.0 -1.4M379.5 706.5l-0.7 -1.5M379.5 706.5l0.9 -1.4M379.6 715.2l-0.6 -1.6M379.6 715.2l1.0 -1.4M385.4 623.7l0.7 -1.6M385.4 623.7l1.7 -0.3M384.1 631.1l1.2 -1.2M384.1 631.1l1.7 0.4M387.9 640.5l-0.5 -1.6M387.9 640.5l1.1 -1.3M388.3 648.8l-1.0 -1.4M388.3 648.8l0.7 -1.6M388.0 656.9l-0.9 -1.4M388.0 656.9l0.7 -1.5M387.5 665.3l-0.8 -1.5M387.5 665.3l0.8 -1.5M387.0 673.4l-0.6 -1.6M387.0 673.4l1.0 -1.3M387.6 680.1l-0.7 -1.5M387.6 680.1l0.9 -1.4M387.5 687.5l-0.9 -1.4M387.5 687.5l0.7 -1.5M387.5 695.9l-0.9 -1.5M387.5 695.9l0.8 -1.5M387.9 703.1l-0.8 -1.5M387.9 703.1l0.8 -1.5M388.1 711.4l-1.0 -1.4M388.1 711.4l0.6 -1.6M387.7 719.1l-0.8 -1.5M387.7 719.1l0.8 -1.5M392.8 624.4l0.4 -1.6M392.8 624.4l1.6 -0.5M392.9 630.6l1.1 -1.3M392.9 630.6l1.7 0.2M396.8 639.8l-1.0 -1.4M396.8 639.8l0.6 -1.6M395.8 647.7l-0.8 -1.5M395.8 647.7l0.8 -1.5M395.4 655.6l-0.7 -1.5M395.4 655.6l0.9 -1.5M395.9 663.7l-1.0 -1.4M395.9 663.7l0.6 -1.6M395.0 672.3l-0.7 -1.6M395.0 672.3l1.0 -1.4M396.1 680.5l-0.7 -1.6M396.1 680.5l1.0 -1.4M396.1 688.6l-1.1 -1.3M396.1 688.6l0.5 -1.6M395.7 696.7l-0.6 -1.6M395.7 696.7l1.0 -1.3M395.4 705.0l-0.8 -1.5M395.4 705.0l0.9 -1.5M395.5 712.9l-0.7 -1.5M395.5 712.9l0.9 -1.4M395.7 720.9l-0.6 -1.6M395.7 720.9l1.0 -1.4M405.7 624.1l-1.7 -0.3M405.7 624.1l-0.6 -1.6M405.2 632.5l-1.6 -0.6M405.2 632.5l-0.4 -1.7M403.8 641.5l-0.7 -1.6M403.8 641.5l1.0 -1.4M404.0 649.6l-0.8 -1.5M404.0 649.6l0.8 -1.5M402.7 658.3l-0.7 -1.6M402.7 658.3l1.0 -1.4M403.3 664.8l-0.6 -1.6M403.3 664.8l1.0 -1.4M403.7 672.7l-0.9 -1.5M403.7 672.7l0.7 -1.5M405.0 680.7l-1.2 -1.2M405.0 680.7l0.4 -1.7M403.4 689.0l-0.8 -1.5M403.4 689.0l0.8 -1.5M402.8 696.7l-0.6 -1.6M402.8 696.7l1.0 -1.4M403.0 705.0l-0.7 -1.6M403.0 705.0l0.9 -1.4M403.6 713.0l-0.7 -1.6M403.6 713.0l0.9 -1.4M403.6 721.5l-0.7 -1.5M403.6 721.5l0.9 -1.5M407.1 678.8l-1.6 -0.7M407.1 678.8l-0.3 -1.7M405.1 642.9l1.4 -1.0M405.1 642.9l1.6 0.6M409.1 625.7l-1.7 0.2M409.1 625.7l-1.1 -1.3M407.9 629.3l-1.4 -1.0M407.9 629.3l0.1 -1.7M411.5 638.6l-0.4 1.7M411.5 638.6l-1.6 0.6M406.3 702.7l0.7 -1.6M406.3 702.7l1.7 -0.3M406.9 685.2l1.6 0.5M406.9 685.2l0.5 1.6M411.9 707.5l-1.5 0.9M411.9 707.5l-1.5 -0.8M410.1 694.7l-1.4 -1.0M410.1 694.7l0.1 -1.7M408.1 632.4l-1.7 0.1M408.1 632.4l-1.0 -1.4M407.6 651.0l1.6 -0.7M407.6 651.0l1.4 0.9M408.7 717.4l-1.5 0.7M408.7 717.4l-1.4 -0.9M409.2 698.3l0.9 1.4M409.2 698.3l-0.7 1.6M409.6 701.4l0.6 1.6M409.6 701.4l-1.0 1.4M404.4 717.6l0.7 -1.5M404.4 717.6l1.7 -0.2M408.9 712.5l-1.6 0.6M408.9 712.5l-1.4 -1.0M327.1 724.2l-0.1 -1.7M327.1 724.2l1.4 -1.0M372.7 725.5l-1.3 -1.1M372.7 725.5l0.2 -1.7M332.5 725.7l-0.1 -1.7M332.5 725.7l1.4 -1.0M314.3 724.5l-0.8 -1.5M314.3 724.5l0.8 -1.5M361.1 725.0l-1.2 -1.2M361.1 725.0l0.4 -1.7M275.1 788.9l0.0 -1.7M275.1 788.9l1.5 -0.9M274.7 795.5l-0.0 -1.7M274.7 795.5l1.4 -1.0M275.3 809.6l0.1 -1.7M275.3 809.6l1.5 -0.9M274.9 816.1l0.0 -1.7M274.9 816.1l1.4 -0.9M275.7 822.9l-0.2 -1.7M275.7 822.9l1.3 -1.1M274.5 836.9l0.3 -1.7M274.5 836.9l1.6 -0.6M275.8 850.2l-0.1 -1.7M275.8 850.2l1.4 -1.0M270.0 787.3l-0.3 -1.7M270.0 787.3l1.2 -1.2M267.4 795.5l-0.1 -1.7M267.4 795.5l1.3 -1.0M266.7 803.0l0.0 -1.7M266.7 803.0l1.4 -0.9M267.4 809.4l-0.0 -1.7M267.4 809.4l1.4 -0.9M268.5 815.1l-0.1 -1.7M268.5 815.1l1.4 -1.0M268.4 829.9l0.0 -1.7M268.4 829.9l1.4 -0.9M266.2 836.8l0.2 -1.7M266.2 836.8l1.5 -0.7M267.4 850.3l0.1 -1.7M267.4 850.3l1.5 -0.9M261.7 788.8l-0.4 -1.6M261.7 788.8l1.2 -1.2M260.1 795.1l-0.1 -1.7M260.1 795.1l1.4 -1.0M261.5 809.4l-0.3 -1.7M261.5 809.4l1.2 -1.2M259.2 817.4l-0.0 -1.7M259.2 817.4l1.4 -0.9M259.7 836.2l0.1 -1.7M259.7 836.2l1.5 -0.8M260.8 843.4l0.2 -1.7M260.8 843.4l1.5 -0.8M259.7 849.9l0.1 -1.7M259.7 849.9l1.5 -0.8M253.6 789.4l-0.4 -1.7M253.6 789.4l1.2 -1.2M253.3 795.1l-0.1 -1.7M253.3 795.1l1.4 -1.0M253.9 809.6l-0.3 -1.7M253.9 809.6l1.2 -1.2M252.7 823.0l-0.3 -1.7M252.7 823.0l1.3 -1.1M254.1 830.9l-0.3 -1.7M254.1 830.9l1.2 -1.2M251.9 843.7l0.1 -1.7M251.9 843.7l1.5 -0.8M251.9 851.0l0.1 -1.7M251.9 851.0l1.5 -0.8M245.0 774.5l-0.5 -1.6M245.0 774.5l1.1 -1.3M245.4 788.9l-0.2 -1.7M245.4 788.9l1.3 -1.0M247.1 795.9l-0.6 -1.6M247.1 795.9l1.0 -1.3M246.5 802.8l-0.6 -1.6M246.5 802.8l1.0 -1.4M245.9 822.6l-0.1 -1.7M245.9 822.6l1.4 -1.0M246.4 836.3l-0.2 -1.7M246.4 836.3l1.3 -1.1M245.6 844.0l-0.3 -1.7M245.6 844.0l1.2 -1.2M246.0 850.7l-0.4 -1.7M246.0 850.7l1.2 -1.2M235.4 752.4l0.8 -1.5M235.4 752.4l1.7 -0.2M236.0 759.6l0.8 -1.5M236.0 759.6l1.7 -0.1M238.4 767.2l-0.1 -1.7M238.4 767.2l1.4 -1.0M238.9 775.4l-0.5 -1.6M238.9 775.4l1.1 -1.3M238.2 780.4l-0.1 -1.7M238.2 780.4l1.4 -1.0M238.7 789.2l-0.3 -1.7M238.7 789.2l1.2 -1.2M238.7 795.5l-0.5 -1.6M238.7 795.5l1.1 -1.3M237.1 801.2l0.0 -1.7M237.1 801.2l1.5 -0.9M238.1 815.8l-0.4 -1.6M238.1 815.8l1.2 -1.2M238.3 829.4l-0.1 -1.7M238.3 829.4l1.4 -1.0M238.2 843.5l-0.2 -1.7M238.2 843.5l1.3 -1.1M238.2 851.5l-0.4 -1.6M238.2 851.5l1.2 -1.2M229.7 752.4l0.6 -1.6M229.7 752.4l1.7 -0.3M229.3 759.5l1.1 -1.3M229.3 759.5l1.7 0.3M231.7 766.5l-0.4 -1.7M231.7 766.5l1.2 -1.2M231.0 774.9l-0.4 -1.7M231.0 774.9l1.2 -1.2M230.4 781.7l-0.3 -1.7M230.4 781.7l1.3 -1.1M232.1 788.3l-0.7 -1.5M232.1 788.3l0.9 -1.4M232.0 795.6l-0.7 -1.6M232.0 795.6l1.0 -1.4M231.9 802.5l-0.6 -1.6M231.9 802.5l1.0 -1.4M231.6 816.4l-0.2 -1.7M231.6 816.4l1.3 -1.1M232.1 822.3l-0.7 -1.6M232.1 822.3l0.9 -1.4M231.1 829.9l-0.1 -1.7M231.1 829.9l1.4 -1.0M230.5 850.9l-0.2 -1.7M230.5 850.9l1.3 -1.1M223.0 753.2l0.2 -1.7M223.0 753.2l1.5 -0.8M220.9 758.7l1.2 -1.2M220.9 758.7l1.7 0.3M224.2 768.7l-0.7 -1.6M224.2 768.7l0.9 -1.4M223.0 775.3l-0.3 -1.7M223.0 775.3l1.3 -1.1M223.6 780.8l-0.5 -1.6M223.6 780.8l1.1 -1.3M224.0 788.5l-0.4 -1.6M224.0 788.5l1.1 -1.3M224.7 795.3l-0.6 -1.6M224.7 795.3l1.0 -1.4M223.9 803.3l-0.3 -1.7M223.9 803.3l1.3 -1.1M223.8 809.6l-0.6 -1.6M223.8 809.6l1.0 -1.4M223.9 824.4l-0.4 -1.7M223.9 824.4l1.2 -1.2M222.9 836.9l-0.2 -1.7M222.9 836.9l1.3 -1.1M214.3 752.3l1.0 -1.4M214.3 752.3l1.7 0.0M214.9 760.0l0.7 -1.6M214.9 760.0l1.7 -0.3M217.2 766.7l-0.7 -1.5M217.2 766.7l0.9 -1.4M216.6 775.2l-0.7 -1.6M216.6 775.2l0.9 -1.4M215.3 782.7l-0.2 -1.7M215.3 782.7l1.3 -1.1M216.8 789.0l-0.4 -1.7M216.8 789.0l1.2 -1.2M217.2 794.9l-0.7 -1.6M217.2 794.9l1.0 -1.4M217.5 802.2l-0.5 -1.6M217.5 802.2l1.1 -1.3M217.1 824.3l-0.6 -1.6M217.1 824.3l1.0 -1.4M215.5 829.6l-0.3 -1.7M215.5 829.6l1.2 -1.2M217.1 836.6l-0.4 -1.6M217.1 836.6l1.2 -1.2M215.9 851.0l-0.5 -1.6M215.9 851.0l1.1 -1.3M207.2 752.7l0.9 -1.4M207.2 752.7l1.7 -0.0M207.5 761.4l0.3 -1.7M207.5 761.4l1.6 -0.7M208.9 768.0l-0.7 -1.5M208.9 768.0l0.9 -1.4M209.0 775.8l-0.6 -1.6M209.0 775.8l1.1 -1.3M208.8 782.2l-0.6 -1.6M208.8 782.2l1.0 -1.4M209.3 789.9l-0.5 -1.6M209.3 789.9l1.1 -1.3M209.7 794.7l-0.7 -1.5M209.7 794.7l0.9 -1.4M209.1 801.7l-0.5 -1.6M209.1 801.7l1.1 -1.3M209.9 809.1l-0.7 -1.6M209.9 809.1l0.9 -1.4M209.7 823.7l-0.7 -1.6M209.7 823.7l1.0 -1.4M208.7 829.4l-0.8 -1.5M208.7 829.4l0.9 -1.5M210.2 836.6l-0.5 -1.6M210.2 836.6l1.1 -1.3M199.6 753.2l0.7 -1.6M199.6 753.2l1.7 -0.3M199.4 759.3l1.1 -1.3M199.4 759.3l1.7 0.2M202.9 767.0l-0.6 -1.6M202.9 767.0l1.0 -1.4M201.1 775.4l-0.2 -1.7M201.1 775.4l1.3 -1.1M202.4 782.4l-0.6 -1.6M202.4 782.4l1.0 -1.4M202.5 788.7l-0.8 -1.5M202.5 788.7l0.8 -1.5M202.6 795.9l-0.6 -1.6M202.6 795.9l1.0 -1.4M201.3 803.1l-0.7 -1.5M201.3 803.1l0.9 -1.4M202.3 809.5l-0.6 -1.6M202.3 809.5l1.0 -1.4M202.5 823.4l-0.7 -1.5M202.5 823.4l0.9 -1.4M202.5 852.1l-0.5 -1.6M202.5 852.1l1.1 -1.3M191.7 752.6l0.9 -1.4M191.7 752.6l1.7 0.0M192.3 759.3l1.1 -1.3M192.3 759.3l1.7 0.2M195.2 768.0l-0.6 -1.6M195.2 768.0l1.0 -1.4M195.1 774.7l-0.7 -1.5M195.1 774.7l0.9 -1.4M194.2 783.1l-0.4 -1.7M194.2 783.1l1.2 -1.2M195.8 790.3l-0.8 -1.5M195.8 790.3l0.8 -1.5M194.4 796.0l-0.7 -1.5M194.4 796.0l0.9 -1.5M194.6 801.9l-0.8 -1.5M194.6 801.9l0.8 -1.5M195.1 810.3l-0.7 -1.5M195.1 810.3l0.9 -1.4M194.5 816.3l-0.6 -1.6M194.5 816.3l1.0 -1.4M194.8 823.4l-0.7 -1.5M194.8 823.4l0.9 -1.4M195.3 830.6l-0.6 -1.6M195.3 830.6l1.0 -1.4M195.5 836.9l-0.7 -1.6M195.5 836.9l0.9 -1.4M195.4 844.4l-0.8 -1.5M195.4 844.4l0.8 -1.5M195.4 850.4l-0.8 -1.5M195.4 850.4l0.8 -1.5M183.9 751.1l1.0 -1.4M183.9 751.1l1.7 0.1M184.6 760.0l0.6 -1.6M184.6 760.0l1.7 -0.4M187.4 767.4l-0.7 -1.5M187.4 767.4l0.9 -1.4M188.2 775.4l-0.8 -1.5M188.2 775.4l0.8 -1.5M187.6 781.9l-0.8 -1.5M187.6 781.9l0.9 -1.5M186.4 788.0l-0.6 -1.6M186.4 788.0l1.0 -1.3M187.3 795.8l-0.8 -1.5M187.3 795.8l0.8 -1.5M187.7 802.3l-0.8 -1.5M187.7 802.3l0.8 -1.5M188.0 809.8l-0.9 -1.5M188.0 809.8l0.8 -1.5M187.8 815.6l-0.7 -1.6M187.8 815.6l1.0 -1.4M187.8 823.6l-1.0 -1.4M187.8 823.6l0.7 -1.6M188.2 831.1l-0.8 -1.5M188.2 831.1l0.8 -1.5M187.5 837.5l-0.7 -1.6M187.5 837.5l0.9 -1.4M188.5 844.4l-1.0 -1.4M188.5 844.4l0.6 -1.6M186.6 851.4l-0.6 -1.6M186.6 851.4l1.0 -1.4M177.2 753.2l0.7 -1.5M177.2 753.2l1.7 -0.2M177.0 760.0l0.6 -1.6M177.0 760.0l1.7 -0.3M179.6 767.8l-0.8 -1.5M179.6 767.8l0.8 -1.5M181.2 774.9l-0.9 -1.5M181.2 774.9l0.8 -1.5M180.5 782.3l-0.9 -1.4M180.5 782.3l0.7 -1.5M179.7 788.0l-0.8 -1.5M179.7 788.0l0.9 -1.5M179.3 795.6l-0.9 -1.5M179.3 795.6l0.8 -1.5M180.6 802.6l-0.7 -1.6M180.6 802.6l0.9 -1.4M179.4 809.0l-0.9 -1.5M179.4 809.0l0.8 -1.5M180.5 815.8l-1.1 -1.3M180.5 815.8l0.5 -1.6M179.7 823.9l-0.5 -1.6M179.7 823.9l1.1 -1.3M180.2 829.6l-0.8 -1.5M180.2 829.6l0.8 -1.5M180.5 837.3l-0.7 -1.5M180.5 837.3l0.9 -1.4M180.0 845.3l-0.5 -1.6M180.0 845.3l1.1 -1.3M180.7 851.1l-0.7 -1.5M180.7 851.1l0.9 -1.4M271.2 790.6l1.1 -1.3M271.2 790.6l1.7 0.2M271.5 797.4l1.2 -1.2M271.5 797.4l1.7 0.4M271.7 806.2l1.1 -1.3M271.7 806.2l1.7 0.2M271.6 814.4l1.2 -1.2M271.6 814.4l1.7 0.3M273.2 822.0l1.0 -1.3M273.2 822.0l1.7 0.2M273.0 830.9l0.9 -1.4M273.0 830.9l1.7 -0.0M271.8 839.1l1.0 -1.4M271.8 839.1l1.7 0.1M273.2 847.2l0.8 -1.5M273.2 847.2l1.7 -0.1M263.2 791.1l1.2 -1.2M263.2 791.1l1.7 0.4M264.6 799.5l1.2 -1.2M264.6 799.5l1.7 0.3M263.1 807.4l0.9 -1.4M263.1 807.4l1.7 0.0M263.8 815.7l0.9 -1.4M263.8 815.7l1.7 0.0M262.1 824.2l1.1 -1.3M262.1 824.2l1.7 0.2M263.7 832.5l0.9 -1.5M263.7 832.5l1.7 -0.1M263.8 841.0l0.8 -1.5M263.8 841.0l1.7 -0.1M263.4 847.7l0.9 -1.5M263.4 847.7l1.7 -0.1M254.6 792.1l1.1 -1.3M254.6 792.1l1.7 0.3M254.0 800.7l1.0 -1.3M254.0 800.7l1.7 0.2M254.1 807.5l1.2 -1.2M254.1 807.5l1.7 0.3M255.4 817.1l0.9 -1.4M255.4 817.1l1.7 -0.0M255.6 824.7l1.0 -1.4M255.6 824.7l1.7 0.1M254.9 833.0l0.9 -1.4M254.9 833.0l1.7 0.0M254.9 841.4l0.9 -1.5M254.9 841.4l1.7 -0.1M256.3 849.1l0.8 -1.5M256.3 849.1l1.7 -0.1M247.9 792.7l1.1 -1.3M247.9 792.7l1.7 0.3M246.5 801.3l1.0 -1.4M246.5 801.3l1.7 0.1M245.8 809.4l1.2 -1.2M245.8 809.4l1.7 0.3M246.4 817.0l1.1 -1.3M246.4 817.0l1.7 0.2M245.6 826.4l0.9 -1.4M245.6 826.4l1.7 0.0M246.4 834.5l0.9 -1.4M246.4 834.5l1.7 -0.0M247.0 843.1l0.7 -1.6M247.0 843.1l1.7 -0.3M238.0 793.9l1.1 -1.3M238.0 793.9l1.7 0.3M237.4 802.9l1.2 -1.2M237.4 802.9l1.7 0.3M237.3 810.8l1.1 -1.3M237.3 810.8l1.7 0.2M237.8 818.0l1.1 -1.3M237.8 818.0l1.7 0.2M237.6 827.1l0.8 -1.5M237.6 827.1l1.7 -0.1M237.5 836.2l1.0 -1.4M237.5 836.2l1.7 0.1M237.3 843.6l0.8 -1.5M237.3 843.6l1.7 -0.1M229.3 795.3l1.1 -1.3M229.3 795.3l1.7 0.3M229.2 803.8l1.1 -1.3M229.2 803.8l1.7 0.2M229.7 811.8l1.0 -1.4M229.7 811.8l1.7 0.1M228.0 820.5l1.0 -1.4M228.0 820.5l1.7 0.1M228.5 828.3l0.9 -1.4M228.5 828.3l1.7 0.0M229.2 837.1l0.8 -1.5M229.2 837.1l1.7 -0.1M228.8 846.4l0.7 -1.5M228.8 846.4l1.7 -0.2M220.4 795.0l1.2 -1.2M220.4 795.0l1.7 0.3M220.3 803.6l1.1 -1.3M220.3 803.6l1.7 0.2M220.0 810.8l1.1 -1.3M220.0 810.8l1.7 0.2M220.6 820.2l1.0 -1.4M220.6 820.2l1.7 0.1M221.7 828.4l1.0 -1.4M221.7 828.4l1.7 0.1M220.6 838.3l0.8 -1.5M220.6 838.3l1.7 -0.2M221.4 845.5l0.9 -1.4M221.4 845.5l1.7 0.0M213.3 795.9l1.3 -1.1M213.3 795.9l1.6 0.5M212.5 805.0l1.1 -1.3M212.5 805.0l1.7 0.2M212.4 812.8l1.0 -1.4M212.4 812.8l1.7 0.1M213.0 821.4l0.9 -1.4M213.0 821.4l1.7 -0.0M212.1 831.0l0.9 -1.4M212.1 831.0l1.7 -0.0M212.0 838.7l0.9 -1.4M212.0 838.7l1.7 -0.0M212.2 847.0l0.8 -1.5M212.2 847.0l1.7 -0.1M202.7 799.1l1.1 -1.3M202.7 799.1l1.7 0.2M202.5 807.2l1.1 -1.3M202.5 807.2l1.7 0.2M204.0 814.8l0.9 -1.4M204.0 814.8l1.7 0.0M203.5 823.1l1.1 -1.3M203.5 823.1l1.7 0.2M203.6 831.5l0.9 -1.5M203.6 831.5l1.7 -0.1M202.7 840.6l0.9 -1.4M202.7 840.6l1.7 0.0M202.6 848.2l1.0 -1.4M202.6 848.2l1.7 0.1M195.1 798.9l1.0 -1.4M195.1 798.9l1.7 0.1M195.1 807.3l1.0 -1.4M195.1 807.3l1.7 0.1M194.1 816.4l0.9 -1.5M194.1 816.4l1.7 -0.1M194.8 823.6l1.0 -1.4M194.8 823.6l1.7 0.1M196.0 832.8l1.0 -1.3M196.0 832.8l1.7 0.2M195.2 840.8l0.9 -1.5M195.2 840.8l1.7 -0.1M194.8 849.1l0.9 -1.4M194.8 849.1l1.7 -0.0M186.0 799.5l1.1 -1.3M186.0 799.5l1.7 0.3M186.2 808.7l1.1 -1.3M186.2 808.7l1.7 0.2M186.4 816.1l1.0 -1.3M186.4 816.1l1.7 0.2M185.3 824.6l1.0 -1.3M185.3 824.6l1.7 0.1M185.9 833.2l1.0 -1.4M185.9 833.2l1.7 0.1M186.3 840.9l0.9 -1.4M186.3 840.9l1.7 0.0M186.1 849.5l0.8 -1.5M186.1 849.5l1.7 -0.1M274.8 793.5l-0.8 -1.5M274.8 793.5l0.8 -1.5M274.6 800.4l-0.8 -1.5M274.6 800.4l0.9 -1.5M274.1 808.5l-0.7 -1.5M274.1 808.5l0.9 -1.5M275.4 816.5l-0.8 -1.5M275.4 816.5l0.8 -1.5M274.2 823.3l-1.0 -1.4M274.2 823.3l0.6 -1.6M275.8 833.1l-1.1 -1.3M275.8 833.1l0.5 -1.6M275.3 841.5l-0.9 -1.4M275.3 841.5l0.7 -1.5M275.4 850.2l-1.0 -1.4M275.4 850.2l0.7 -1.6M266.3 793.6l-0.8 -1.5M266.3 793.6l0.8 -1.5M266.7 801.9l-0.8 -1.5M266.7 801.9l0.9 -1.5M267.2 809.0l-0.9 -1.5M267.2 809.0l0.8 -1.5M266.1 816.8l-0.7 -1.5M266.1 816.8l0.9 -1.5M266.7 824.4l-0.7 -1.6M266.7 824.4l0.9 -1.4M267.2 832.9l-1.0 -1.4M267.2 832.9l0.7 -1.6M265.7 841.5l-0.7 -1.6M265.7 841.5l0.9 -1.4M265.9 849.5l-0.9 -1.4M265.9 849.5l0.7 -1.5M258.2 791.7l-0.8 -1.5M258.2 791.7l0.8 -1.5M258.4 800.8l-0.8 -1.5M258.4 800.8l0.9 -1.5M257.6 808.9l-0.5 -1.6M257.6 808.9l1.1 -1.3M258.6 816.6l-1.0 -1.4M258.6 816.6l0.6 -1.6M258.8 824.5l-0.8 -1.5M258.8 824.5l0.8 -1.5M258.7 832.0l-0.9 -1.4M258.7 832.0l0.7 -1.6M257.9 840.4l-0.5 -1.6M257.9 840.4l1.1 -1.3M258.9 848.9l-1.0 -1.3M258.9 848.9l0.6 -1.6M250.0 793.5l-0.8 -1.5M250.0 793.5l0.8 -1.5M249.2 800.6l-0.5 -1.6M249.2 800.6l1.1 -1.3M250.4 808.2l-0.8 -1.5M250.4 808.2l0.8 -1.5M250.7 816.5l-0.8 -1.5M250.7 816.5l0.8 -1.5M250.3 824.9l-0.9 -1.4M250.3 824.9l0.7 -1.5M250.5 833.9l-0.9 -1.4M250.5 833.9l0.7 -1.5M249.6 841.7l-0.6 -1.6M249.6 841.7l1.0 -1.4M250.4 849.3l-0.9 -1.5M250.4 849.3l0.7 -1.5M241.4 793.6l-0.9 -1.5M241.4 793.6l0.7 -1.5M241.7 801.7l-0.7 -1.6M241.7 801.7l0.9 -1.4M242.3 807.7l-1.0 -1.4M242.3 807.7l0.6 -1.6M241.8 816.7l-0.8 -1.5M241.8 816.7l0.8 -1.5M241.8 825.0l-0.8 -1.5M241.8 825.0l0.8 -1.5M241.7 831.5l-0.7 -1.6M241.7 831.5l0.9 -1.4M241.8 841.1l-0.8 -1.5M241.8 841.1l0.8 -1.5M241.7 848.5l-0.8 -1.5M241.7 848.5l0.9 -1.5M234.4 792.9l-0.9 -1.4M234.4 792.9l0.7 -1.5M233.5 800.1l-0.9 -1.4M233.5 800.1l0.7 -1.5M234.0 809.2l-0.8 -1.5M234.0 809.2l0.8 -1.5M233.6 816.6l-0.8 -1.5M233.6 816.6l0.9 -1.5M233.3 824.8l-0.7 -1.6M233.3 824.8l0.9 -1.4M233.0 832.2l-0.6 -1.6M233.0 832.2l1.0 -1.4M233.9 841.7l-0.8 -1.5M233.9 841.7l0.8 -1.5M234.4 849.3l-0.8 -1.5M234.4 849.3l0.8 -1.5M225.7 792.4l-1.0 -1.4M225.7 792.4l0.6 -1.6M224.7 801.5l-0.7 -1.5M224.7 801.5l0.9 -1.4M224.3 809.2l-0.6 -1.6M224.3 809.2l1.0 -1.4M225.7 818.0l-0.7 -1.6M225.7 818.0l0.9 -1.4M225.2 825.8l-0.8 -1.5M225.2 825.8l0.9 -1.5M225.8 833.6l-0.9 -1.5M225.8 833.6l0.8 -1.5M225.9 842.1l-0.9 -1.5M225.9 842.1l0.8 -1.5M225.2 849.4l-0.8 -1.5M225.2 849.4l0.8 -1.5M217.6 792.7l-0.9 -1.5M217.6 792.7l0.8 -1.5M217.6 800.5l-0.8 -1.5M217.6 800.5l0.8 -1.5M216.9 809.2l-0.8 -1.5M216.9 809.2l0.9 -1.5M216.3 817.7l-0.9 -1.5M216.3 817.7l0.7 -1.5M218.4 825.1l-1.0 -1.4M218.4 825.1l0.7 -1.6M218.3 832.6l-0.9 -1.4M218.3 832.6l0.7 -1.5M217.4 840.7l-0.8 -1.5M217.4 840.7l0.8 -1.5M217.6 849.6l-0.8 -1.5M217.6 849.6l0.8 -1.5M209.0 793.4l-0.8 -1.5M209.0 793.4l0.9 -1.5M208.9 800.7l-0.7 -1.5M208.9 800.7l0.9 -1.5M209.3 809.5l-0.9 -1.4M209.3 809.5l0.7 -1.5M208.8 817.1l-0.7 -1.6M208.8 817.1l0.9 -1.4M209.3 825.0l-0.8 -1.5M209.3 825.0l0.8 -1.5M209.3 833.0l-0.8 -1.5M209.3 833.0l0.8 -1.5M209.1 840.8l-0.7 -1.6M209.1 840.8l1.0 -1.4M209.9 849.9l-0.9 -1.4M209.9 849.9l0.7 -1.5M200.2 792.7l-0.6 -1.6M200.2 792.7l1.0 -1.4M201.4 801.8l-0.8 -1.5M201.4 801.8l0.8 -1.5M201.5 808.3l-0.9 -1.4M201.5 808.3l0.7 -1.6M200.8 816.5l-0.7 -1.5M200.8 816.5l0.9 -1.4M200.5 825.6l-0.7 -1.6M200.5 825.6l0.9 -1.4M201.2 833.1l-0.7 -1.5M201.2 833.1l0.9 -1.4M201.3 841.0l-0.6 -1.6M201.3 841.0l1.0 -1.4M200.6 848.4l-0.9 -1.5M200.6 848.4l0.7 -1.5M278.2 849.4l1.4 -0.9M278.2 849.4l1.6 0.7M189.8 849.3l1.5 -0.7M189.8 849.3l1.4 0.9M237.0 851.4l1.3 -1.1M237.0 851.4l1.6 0.5M267.4 849.5l1.5 -0.7M267.4 849.5l1.4 0.9M266.0 850.0l1.6 -0.7M266.0 850.0l1.4 0.9M252.0 849.0l1.6 -0.7M252.0 849.0l1.4 1.0M195.7 850.4l1.4 -0.9M195.7 850.4l1.5 0.7M208.6 849.6l1.4 -0.9M208.6 849.6l1.5 0.7M184.9 849.7l1.3 -1.0M184.9 849.7l1.6 0.6M257.2 850.0l1.3 -1.1M257.2 850.0l1.6 0.5M237.4 850.6l1.3 -1.1M237.4 850.6l1.6 0.5M241.0 847.8l1.7 0.0M241.0 847.8l0.9 1.5M272.6 851.1l1.3 -1.1M272.6 851.1l1.6 0.5M257.1 848.4l1.7 -0.2M257.1 848.4l1.1 1.3M189.1 849.5l1.7 -0.0M189.1 849.5l1.0 1.4M232.0 850.2l1.3 -1.0M232.0 850.2l1.6 0.6M251.4 851.4l1.4 -1.0M251.4 851.4l1.6 0.6M250.5 849.8l1.6 -0.5M250.5 849.8l1.3 1.1M183.8 849.2l1.6 -0.6M183.8 849.2l1.4 1.0M212.5 850.5l1.2 -1.2M212.5 850.5l1.7 0.4M275.7 850.0l1.7 -0.4M275.7 850.0l1.2 1.2M238.0 850.3l1.7 -0.4M238.0 850.3l1.2 1.2M265.8 852.2l1.2 -1.2M265.8 852.2l1.7 0.3M216.7 849.5l1.6 -0.5M216.7 849.5l1.3 1.1M210.6 849.3l1.6 -0.4M210.6 849.3l1.2 1.2M262.1 851.0l1.1 -1.3M262.1 851.0l1.7 0.2M199.8 848.9l1.7 -0.2M199.8 848.9l1.1 1.3M206.1 849.6l1.7 -0.4M206.1 849.6l1.2 1.2M189.1 850.5l1.6 -0.7M189.1 850.5l1.4 0.9M252.8 849.9l1.4 -0.9M252.8 849.9l1.5 0.7M212.6 855.0l-0.6 -1.6M212.6 855.0l1.0 -1.4M204.3 855.7l-0.2 -1.7M204.3 855.7l1.3 -1.1M243.6 856.2l-1.0 -1.4M243.6 856.2l0.6 -1.6M182.9 856.7l-0.4 -1.7M182.9 856.7l1.2 -1.2M177.5 854.3l-1.3 -1.1M177.5 854.3l0.2 -1.7M220.8 855.0l-1.2 -1.2M220.8 855.0l0.4 -1.6M212.9 856.7l-0.1 -1.7M212.9 856.7l1.4 -1.0M262.3 853.0l-1.4 -0.9M262.3 853.0l0.0 -1.7M186.3 853.7l-1.2 -1.2M186.3 853.7l0.4 -1.6M236.4 857.7l-0.6 -1.6M236.4 857.7l1.0 -1.3M257.8 855.4l-1.7 -0.4M257.8 855.4l-0.6 -1.6M191.8 855.2l-0.6 -1.6M191.8 855.2l1.0 -1.4M230.8 856.6l-1.1 -1.3M230.8 856.6l0.4 -1.6M264.1 852.4l-1.5 -0.8M264.1 852.4l-0.2 -1.7M179.5 853.3l-0.1 -1.7M179.5 853.3l1.3 -1.0M225.1 855.3l-1.0 -1.4M225.1 855.3l0.6 -1.6M257.5 853.6l0.0 -1.7M257.5 853.6l1.4 -0.9M235.4 853.0l-1.6 -0.5M235.4 853.0l-0.4 -1.6M182.5 854.3l-0.7 -1.6M182.5 854.3l0.9 -1.4M220.4 854.6l-1.6 -0.7M220.4 854.6l-0.3 -1.7M224.7 853.5l-1.0 -1.4M224.7 853.5l0.7 -1.6M196.8 855.4l-1.1 -1.3M196.8 855.4l0.5 -1.6M177.0 849.9l-0.5 -1.6M177.0 849.9l1.1 -1.3M174.6 848.8l-1.3 -1.1M174.6 848.8l0.3 -1.7M173.9 831.8l-0.4 -1.6M173.9 831.8l1.2 -1.2M176.9 770.1l-1.0 -1.4M176.9 770.1l0.7 -1.6M173.2 795.1l-0.4 -1.7M173.2 795.1l1.2 -1.2M174.1 822.1l-0.4 -1.7M174.1 822.1l1.2 -1.2M176.3 793.5l-1.3 -1.1M176.3 793.5l0.2 -1.7M174.4 820.7l-0.7 -1.6M174.4 820.7l0.9 -1.4M174.3 760.1l-0.2 -1.7M174.3 760.1l1.3 -1.1M176.9 753.3l-0.6 -1.6M176.9 753.3l1.0 -1.4M172.9 834.1l-0.3 -1.7M172.9 834.1l1.3 -1.1M175.9 759.7l-0.7 -1.5M175.9 759.7l0.9 -1.4M173.8 785.1l-0.7 -1.6M173.8 785.1l0.9 -1.4M173.8 769.8l-0.6 -1.6M173.8 769.8l1.1 -1.3M173.8 754.1l-0.6 -1.6M173.8 754.1l1.0 -1.4M173.7 777.1l-0.3 -1.7M173.7 777.1l1.2 -1.2M175.7 795.7l-0.7 -1.6M175.7 795.7l0.9 -1.4M174.4 809.6l-1.2 -1.2M174.4 809.6l0.3 -1.7M172.9 763.5l-0.4 -1.7M172.9 763.5l1.2 -1.2M176.8 777.2l-0.8 -1.5M176.8 777.2l0.8 -1.5M260.9 745.3l1.7 -0.3M260.9 745.3l1.2 1.2M228.6 746.1l1.5 0.8M228.6 746.1l0.1 1.7M205.2 745.3l1.7 0.2M205.2 745.3l0.7 1.5M182.3 747.8l1.3 -1.1M182.3 747.8l1.6 0.4M210.2 746.9l1.6 -0.6M210.2 746.9l1.4 1.0M231.1 746.7l1.5 -0.7M231.1 746.7l1.4 0.9M205.0 748.2l1.3 -1.1M205.0 748.2l1.6 0.5M214.6 747.7l1.1 -1.3M214.6 747.7l1.7 0.2M309.2 788.5l-1.4 -1.0M309.2 788.5l0.1 -1.7M308.1 795.0l-1.3 -1.1M308.1 795.0l0.3 -1.7M309.5 801.2l-1.4 -0.9M309.5 801.2l-0.0 -1.7M308.8 808.7l-1.5 -0.9M308.8 808.7l-0.1 -1.7M310.0 816.1l-1.5 -0.7M310.0 816.1l-0.2 -1.7M309.4 829.6l-1.5 -0.8M309.4 829.6l-0.1 -1.7M309.3 835.4l-1.5 -0.7M309.3 835.4l-0.2 -1.7M310.1 844.2l-1.4 -1.0M310.1 844.2l0.1 -1.7M309.8 851.0l-1.5 -0.8M309.8 851.0l-0.2 -1.7M316.6 788.1l-1.4 -1.0M316.6 788.1l0.1 -1.7M316.6 795.9l-1.5 -0.8M316.6 795.9l-0.1 -1.7M316.9 802.8l-1.5 -0.9M316.9 802.8l-0.1 -1.7M317.1 810.1l-1.5 -0.9M317.1 810.1l-0.1 -1.7M316.1 822.8l-1.3 -1.1M316.1 822.8l0.3 -1.7M316.3 829.8l-1.4 -1.0M316.3 829.8l0.1 -1.7M316.6 837.9l-1.5 -0.8M316.6 837.9l-0.1 -1.7M316.9 842.9l-1.5 -0.8M316.9 842.9l-0.1 -1.7M323.1 789.7l-1.2 -1.2M323.1 789.7l0.3 -1.7M323.4 795.4l-1.2 -1.2M323.4 795.4l0.4 -1.6M323.2 808.5l-1.5 -0.8M323.2 808.5l-0.1 -1.7M323.9 815.8l-1.4 -1.0M323.9 815.8l0.0 -1.7M322.8 823.3l-1.3 -1.1M322.8 823.3l0.2 -1.7M323.7 844.4l-1.4 -0.9M323.7 844.4l-0.0 -1.7M324.2 849.6l-1.5 -0.7M324.2 849.6l-0.2 -1.7M331.8 787.2l-1.3 -1.1M331.8 787.2l0.2 -1.7M331.7 794.7l-1.4 -0.9M331.7 794.7l-0.0 -1.7M331.8 802.1l-1.5 -0.8M331.8 802.1l-0.1 -1.7M330.6 809.5l-1.5 -0.9M330.6 809.5l-0.1 -1.7M331.4 823.6l-1.4 -0.9M331.4 823.6l0.0 -1.7M331.9 843.4l-1.5 -0.9M331.9 843.4l-0.1 -1.7M339.0 788.2l-1.3 -1.1M339.0 788.2l0.2 -1.7M337.7 795.0l-1.3 -1.1M337.7 795.0l0.2 -1.7M338.4 801.5l-1.3 -1.1M338.4 801.5l0.3 -1.7M340.1 843.3l-1.5 -0.8M340.1 843.3l-0.2 -1.7M338.5 850.1l-1.2 -1.2M338.5 850.1l0.3 -1.7M347.3 753.7l-1.7 -0.4M347.3 753.7l-0.6 -1.6M346.6 759.1l-1.6 -0.5M346.6 759.1l-0.5 -1.6M346.1 768.4l-1.3 -1.0M346.1 768.4l0.1 -1.7M345.7 774.8l-1.2 -1.2M345.7 774.8l0.3 -1.7M345.6 781.8l-1.3 -1.1M345.6 781.8l0.2 -1.7M345.9 787.8l-1.3 -1.1M345.9 787.8l0.2 -1.7M346.2 794.8l-1.1 -1.3M346.2 794.8l0.4 -1.6M346.6 815.8l-1.1 -1.3M346.6 815.8l0.5 -1.6M345.8 823.4l-1.2 -1.2M345.8 823.4l0.3 -1.7M346.3 850.0l-1.4 -1.0M346.3 850.0l0.1 -1.7M354.9 750.6l-1.6 0.5M354.9 750.6l-1.3 -1.1M355.5 758.6l-1.7 0.3M355.5 758.6l-1.1 -1.3M352.1 768.5l-1.1 -1.3M352.1 768.5l0.5 -1.6M354.1 774.0l-1.2 -1.2M354.1 774.0l0.4 -1.7M353.0 781.6l-1.2 -1.2M353.0 781.6l0.4 -1.7M354.1 788.7l-1.2 -1.2M354.1 788.7l0.4 -1.7M352.9 795.9l-1.0 -1.3M352.9 795.9l0.6 -1.6M352.7 802.7l-1.1 -1.3M352.7 802.7l0.5 -1.6M354.1 823.1l-1.3 -1.1M354.1 823.1l0.3 -1.7M352.4 837.0l-1.1 -1.3M352.4 837.0l0.5 -1.6M353.8 844.6l-1.2 -1.2M353.8 844.6l0.3 -1.7M353.6 851.1l-1.2 -1.2M353.6 851.1l0.4 -1.7M362.8 752.3l-1.7 -0.1M362.8 752.3l-0.9 -1.5M363.1 759.1l-1.7 0.3M363.1 759.1l-1.1 -1.3M360.1 767.3l-1.2 -1.2M360.1 767.3l0.4 -1.7M359.5 774.0l-1.1 -1.3M359.5 774.0l0.5 -1.6M359.3 781.7l-1.1 -1.3M359.3 781.7l0.5 -1.6M361.6 788.8l-1.2 -1.2M361.6 788.8l0.3 -1.7M360.0 796.6l-1.3 -1.1M360.0 796.6l0.3 -1.7M360.7 809.2l-1.2 -1.2M360.7 809.2l0.4 -1.7M361.2 817.6l-1.2 -1.2M361.2 817.6l0.4 -1.7M359.6 828.5l-1.1 -1.3M359.6 828.5l0.5 -1.6M361.1 844.0l-1.4 -1.0M361.1 844.0l0.1 -1.7M360.6 850.4l-1.3 -1.1M360.6 850.4l0.2 -1.7M369.3 752.2l-1.7 -0.1M369.3 752.2l-0.8 -1.5M370.0 760.5l-1.6 -0.5M370.0 760.5l-0.5 -1.6M368.6 767.9l-1.2 -1.2M368.6 767.9l0.4 -1.7M368.0 775.8l-1.2 -1.2M368.0 775.8l0.3 -1.7M367.3 782.0l-1.1 -1.3M367.3 782.0l0.5 -1.6M368.4 787.1l-1.2 -1.2M368.4 787.1l0.4 -1.7M367.8 795.6l-1.1 -1.3M367.8 795.6l0.4 -1.6M368.6 809.7l-1.1 -1.3M368.6 809.7l0.5 -1.6M367.4 816.7l-0.9 -1.4M367.4 816.7l0.7 -1.6M368.1 829.5l-1.2 -1.2M368.1 829.5l0.3 -1.7M376.7 753.6l-1.6 -0.5M376.7 753.6l-0.5 -1.6M378.1 758.4l-1.7 0.4M378.1 758.4l-1.2 -1.2M376.7 768.6l-1.3 -1.1M376.7 768.6l0.2 -1.7M375.9 774.4l-1.1 -1.3M375.9 774.4l0.4 -1.6M375.0 781.6l-1.1 -1.3M375.0 781.6l0.5 -1.6M375.5 787.9l-1.0 -1.3M375.5 787.9l0.6 -1.6M374.9 794.8l-0.9 -1.4M374.9 794.8l0.7 -1.6M374.6 802.5l-1.1 -1.3M374.6 802.5l0.5 -1.6M374.4 822.3l-1.2 -1.2M374.4 822.3l0.4 -1.6M375.1 850.0l-1.3 -1.1M375.1 850.0l0.3 -1.7M384.3 752.0l-1.7 -0.3M384.3 752.0l-0.6 -1.6M384.0 759.7l-1.6 -0.7M384.0 759.7l-0.3 -1.7M382.5 767.8l-1.1 -1.3M382.5 767.8l0.5 -1.6M381.7 775.8l-1.0 -1.4M381.7 775.8l0.6 -1.6M382.2 783.0l-1.0 -1.4M382.2 783.0l0.6 -1.6M382.0 788.5l-1.0 -1.4M382.0 788.5l0.6 -1.6M383.0 795.7l-1.2 -1.2M383.0 795.7l0.4 -1.7M382.0 803.0l-1.1 -1.3M382.0 803.0l0.5 -1.6M382.0 809.5l-1.0 -1.3M382.0 809.5l0.6 -1.6M381.0 816.8l-1.0 -1.4M381.0 816.8l0.7 -1.6M383.6 830.7l-1.1 -1.3M383.6 830.7l0.5 -1.6M391.6 753.5l-1.7 -0.4M391.6 753.5l-0.6 -1.6M392.0 759.5l-1.7 -0.3M392.0 759.5l-0.6 -1.6M388.9 767.5l-0.8 -1.5M388.9 767.5l0.9 -1.5M389.6 773.4l-1.0 -1.3M389.6 773.4l0.6 -1.6M389.3 781.0l-1.0 -1.4M389.3 781.0l0.6 -1.6M389.8 788.4l-0.9 -1.4M389.8 788.4l0.7 -1.5M390.3 796.6l-1.2 -1.2M390.3 796.6l0.4 -1.7M388.9 802.7l-0.6 -1.6M388.9 802.7l1.1 -1.3M389.6 810.0l-1.0 -1.4M389.6 810.0l0.6 -1.6M388.6 816.1l-0.7 -1.6M388.6 816.1l0.9 -1.4M390.4 822.9l-1.1 -1.3M390.4 822.9l0.5 -1.6M390.3 830.1l-1.0 -1.4M390.3 830.1l0.6 -1.6M389.6 836.4l-1.0 -1.4M389.6 836.4l0.7 -1.6M389.9 843.6l-1.1 -1.3M389.9 843.6l0.5 -1.6M389.9 851.1l-1.0 -1.4M389.9 851.1l0.6 -1.6M399.1 753.0l-1.7 -0.3M399.1 753.0l-0.6 -1.6M398.6 759.3l-1.7 0.1M398.6 759.3l-1.0 -1.4M396.4 768.3l-1.0 -1.4M396.4 768.3l0.6 -1.6M396.0 775.3l-0.7 -1.6M396.0 775.3l1.0 -1.4M397.3 782.4l-0.7 -1.5M397.3 782.4l0.9 -1.5M396.7 789.0l-0.8 -1.5M396.7 789.0l0.8 -1.5M397.2 794.5l-0.9 -1.4M397.2 794.5l0.7 -1.5M396.7 801.7l-0.9 -1.4M396.7 801.7l0.7 -1.5M395.4 810.0l-0.9 -1.4M395.4 810.0l0.7 -1.6M397.1 816.0l-1.0 -1.4M397.1 816.0l0.7 -1.6M396.6 823.5l-0.8 -1.5M396.6 823.5l0.8 -1.5M397.2 831.3l-1.0 -1.4M397.2 831.3l0.6 -1.6M397.1 837.8l-0.9 -1.4M397.1 837.8l0.7 -1.6M396.0 843.6l-0.8 -1.5M396.0 843.6l0.8 -1.5M396.4 850.5l-1.0 -1.4M396.4 850.5l0.6 -1.6M407.2 752.9l-1.7 -0.1M407.2 752.9l-0.8 -1.5M406.5 759.9l-1.6 -0.6M406.5 759.9l-0.3 -1.7M403.8 767.8l-1.0 -1.4M403.8 767.8l0.6 -1.6M405.0 774.4l-1.1 -1.3M405.0 774.4l0.5 -1.6M404.3 782.7l-1.0 -1.4M404.3 782.7l0.7 -1.6M404.7 789.3l-0.9 -1.5M404.7 789.3l0.8 -1.5M404.8 796.0l-0.9 -1.5M404.8 796.0l0.8 -1.5M405.0 802.4l-1.0 -1.4M405.0 802.4l0.7 -1.6M403.7 809.9l-0.9 -1.4M403.7 809.9l0.7 -1.6M403.9 817.0l-0.7 -1.5M403.9 817.0l0.9 -1.5M403.3 822.9l-0.8 -1.5M403.3 822.9l0.9 -1.5M404.7 829.7l-0.8 -1.5M404.7 829.7l0.8 -1.5M405.4 836.7l-0.9 -1.5M405.4 836.7l0.8 -1.5M404.5 844.3l-0.9 -1.4M404.5 844.3l0.7 -1.5M404.5 850.8l-0.8 -1.5M404.5 850.8l0.8 -1.5M311.8 788.6l-1.7 0.3M311.8 788.6l-1.2 -1.2M312.1 798.0l-1.7 0.2M312.1 798.0l-1.1 -1.3M312.8 805.7l-1.7 0.3M312.8 805.7l-1.1 -1.3M311.9 813.8l-1.7 0.3M311.9 813.8l-1.2 -1.2M313.4 823.7l-1.7 0.3M313.4 823.7l-1.1 -1.3M312.0 830.1l-1.7 0.1M312.0 830.1l-1.0 -1.4M312.2 839.3l-1.7 0.0M312.2 839.3l-0.9 -1.4M311.3 847.3l-1.7 -0.0M311.3 847.3l-0.9 -1.4M321.2 789.8l-1.6 0.5M321.2 789.8l-1.3 -1.1M321.3 799.2l-1.7 0.4M321.3 799.2l-1.2 -1.2M321.7 807.1l-1.7 0.4M321.7 807.1l-1.2 -1.2M321.4 815.2l-1.7 0.3M321.4 815.2l-1.1 -1.3M321.3 824.1l-1.7 0.2M321.3 824.1l-1.0 -1.3M320.2 832.3l-1.7 -0.1M320.2 832.3l-0.9 -1.5M321.2 841.1l-1.7 -0.0M321.2 841.1l-0.9 -1.5M322.0 849.1l-1.7 -0.1M322.0 849.1l-0.8 -1.5M330.3 792.4l-1.7 0.2M330.3 792.4l-1.1 -1.3M329.2 799.2l-1.7 0.2M329.2 799.2l-1.1 -1.3M329.3 808.8l-1.7 0.1M329.3 808.8l-1.0 -1.4M329.5 816.1l-1.7 0.1M329.5 816.1l-1.0 -1.3M329.3 825.8l-1.7 0.0M329.3 825.8l-0.9 -1.4M329.2 833.2l-1.7 -0.1M329.2 833.2l-0.8 -1.5M328.9 841.6l-1.7 -0.0M328.9 841.6l-0.9 -1.4M328.0 849.6l-1.7 -0.3M328.0 849.6l-0.7 -1.6M337.8 793.0l-1.7 0.3M337.8 793.0l-1.2 -1.2M338.0 800.4l-1.7 0.1M338.0 800.4l-1.0 -1.3M337.5 808.7l-1.7 0.1M337.5 808.7l-1.0 -1.3M337.4 817.3l-1.7 0.1M337.4 817.3l-1.0 -1.4M338.3 825.1l-1.7 0.1M338.3 825.1l-1.0 -1.4M339.1 834.2l-1.7 0.0M339.1 834.2l-1.0 -1.4M337.1 842.2l-1.7 -0.2M337.1 842.2l-0.7 -1.5M347.0 794.6l-1.7 0.2M347.0 794.6l-1.1 -1.3M346.8 801.9l-1.7 0.1M346.8 801.9l-1.0 -1.4M346.8 810.7l-1.7 0.1M346.8 810.7l-1.0 -1.4M346.6 818.0l-1.7 -0.0M346.6 818.0l-0.9 -1.4M346.1 826.5l-1.7 -0.2M346.1 826.5l-0.8 -1.5M345.9 835.1l-1.7 0.0M345.9 835.1l-0.9 -1.4M345.5 844.3l-1.7 -0.2M345.5 844.3l-0.7 -1.5M355.4 794.9l-1.7 0.4M355.4 794.9l-1.2 -1.2M355.9 802.8l-1.7 0.3M355.9 802.8l-1.1 -1.3M354.8 811.0l-1.7 0.1M354.8 811.0l-1.0 -1.4M356.0 819.9l-1.7 0.1M356.0 819.9l-1.0 -1.4M355.7 828.3l-1.7 0.0M355.7 828.3l-1.0 -1.4M354.7 835.5l-1.7 0.0M354.7 835.5l-0.9 -1.4M354.2 844.9l-1.7 -0.1M354.2 844.9l-0.8 -1.5M363.9 795.5l-1.6 0.4M363.9 795.5l-1.2 -1.2M363.3 804.9l-1.7 0.1M363.3 804.9l-1.0 -1.4M364.4 812.9l-1.7 0.2M364.4 812.9l-1.1 -1.3M364.2 820.2l-1.7 0.1M364.2 820.2l-1.0 -1.4M364.0 828.8l-1.7 0.0M364.0 828.8l-0.9 -1.4M363.1 836.9l-1.7 -0.0M363.1 836.9l-0.9 -1.4M364.9 845.9l-1.7 -0.2M364.9 845.9l-0.7 -1.5M372.1 797.5l-1.7 0.1M372.1 797.5l-1.0 -1.4M372.9 805.2l-1.7 0.2M372.9 805.2l-1.1 -1.3M373.1 813.4l-1.7 0.1M373.1 813.4l-1.0 -1.4M371.6 821.6l-1.7 0.1M371.6 821.6l-1.0 -1.4M372.8 831.9l-1.7 -0.0M372.8 831.9l-0.9 -1.5M371.0 837.6l-1.7 0.1M371.0 837.6l-1.0 -1.4M372.0 846.3l-1.7 -0.1M372.0 846.3l-0.8 -1.5M381.2 797.4l-1.7 0.4M381.2 797.4l-1.2 -1.2M381.5 806.8l-1.7 0.2M381.5 806.8l-1.0 -1.3M381.5 815.6l-1.7 -0.0M381.5 815.6l-0.9 -1.4M381.2 822.5l-1.7 0.3M381.2 822.5l-1.2 -1.2M380.0 831.8l-1.7 -0.1M380.0 831.8l-0.8 -1.5M381.5 838.9l-1.7 0.0M381.5 838.9l-0.9 -1.4M380.4 848.4l-1.7 -0.2M380.4 848.4l-0.7 -1.5M389.1 798.3l-1.7 0.2M389.1 798.3l-1.1 -1.3M390.3 808.2l-1.7 0.2M390.3 808.2l-1.1 -1.3M389.5 815.6l-1.7 0.2M389.5 815.6l-1.1 -1.3M389.7 823.5l-1.7 0.2M389.7 823.5l-1.1 -1.3M389.2 832.2l-1.7 -0.1M389.2 832.2l-0.9 -1.5M390.8 841.1l-1.7 -0.0M390.8 841.1l-0.9 -1.4M389.5 848.8l-1.7 -0.2M389.5 848.8l-0.8 -1.5M398.7 799.3l-1.7 0.2M398.7 799.3l-1.1 -1.3M398.2 808.0l-1.7 0.3M398.2 808.0l-1.2 -1.2M398.4 816.6l-1.7 0.1M398.4 816.6l-1.0 -1.4M397.8 825.6l-1.7 0.0M397.8 825.6l-0.9 -1.4M398.7 833.2l-1.7 0.2M398.7 833.2l-1.1 -1.3M399.0 842.1l-1.7 -0.1M399.0 842.1l-0.8 -1.5M397.9 849.2l-1.7 -0.2M397.9 849.2l-0.8 -1.5M309.9 792.9l-0.8 -1.5M309.9 792.9l0.8 -1.5M309.5 800.4l-0.8 -1.5M309.5 800.4l0.8 -1.5M309.9 810.4l-0.9 -1.5M309.9 810.4l0.8 -1.5M310.4 817.8l-0.9 -1.4M310.4 817.8l0.7 -1.6M309.0 823.4l-0.8 -1.5M309.0 823.4l0.8 -1.5M309.0 833.8l-0.8 -1.5M309.0 833.8l0.8 -1.5M308.5 841.2l-0.6 -1.6M308.5 841.2l1.0 -1.4M309.8 849.6l-0.9 -1.4M309.8 849.6l0.7 -1.6M317.6 792.4l-0.9 -1.5M317.6 792.4l0.8 -1.5M318.2 801.6l-0.9 -1.5M318.2 801.6l0.7 -1.5M317.6 808.5l-0.7 -1.6M317.6 808.5l0.9 -1.4M317.6 817.6l-0.8 -1.5M317.6 817.6l0.9 -1.5M317.2 824.9l-0.9 -1.5M317.2 824.9l0.8 -1.5M317.4 832.7l-0.8 -1.5M317.4 832.7l0.8 -1.5M317.5 840.4l-0.8 -1.5M317.5 840.4l0.8 -1.5M317.5 848.6l-0.9 -1.5M317.5 848.6l0.8 -1.5M326.0 792.3l-0.8 -1.5M326.0 792.3l0.8 -1.5M326.5 801.8l-0.9 -1.4M326.5 801.8l0.7 -1.5M326.1 808.7l-0.7 -1.6M326.1 808.7l1.0 -1.4M326.3 816.9l-1.0 -1.4M326.3 816.9l0.7 -1.6M325.7 824.2l-0.9 -1.5M325.7 824.2l0.8 -1.5M326.1 832.1l-0.8 -1.5M326.1 832.1l0.8 -1.5M326.5 841.3l-0.8 -1.5M326.5 841.3l0.9 -1.5M325.2 849.8l-0.8 -1.5M325.2 849.8l0.9 -1.5M333.7 792.6l-0.8 -1.5M333.7 792.6l0.8 -1.5M333.8 800.5l-0.5 -1.6M333.8 800.5l1.1 -1.3M334.5 809.6l-0.9 -1.4M334.5 809.6l0.7 -1.5M334.6 817.8l-0.8 -1.5M334.6 817.8l0.8 -1.5M333.9 824.1l-0.7 -1.6M333.9 824.1l0.9 -1.4M334.2 833.6l-0.8 -1.5M334.2 833.6l0.9 -1.5M333.3 841.1l-0.8 -1.5M333.3 841.1l0.8 -1.5M333.7 848.7l-0.9 -1.4M333.7 848.7l0.7 -1.5M341.9 793.1l-0.8 -1.5M341.9 793.1l0.8 -1.5M341.8 802.1l-0.6 -1.6M341.8 802.1l1.0 -1.4M342.3 809.8l-0.7 -1.6M342.3 809.8l1.0 -1.4M342.1 816.2l-0.9 -1.4M342.1 816.2l0.7 -1.5M342.8 825.0l-0.9 -1.4M342.8 825.0l0.7 -1.5M342.7 833.3l-0.9 -1.4M342.7 833.3l0.7 -1.5M342.7 840.7l-0.9 -1.5M342.7 840.7l0.8 -1.5M342.8 849.1l-0.8 -1.5M342.8 849.1l0.9 -1.5M350.7 792.7l-0.8 -1.5M350.7 792.7l0.8 -1.5M350.0 801.8l-0.6 -1.6M350.0 801.8l1.0 -1.4M350.7 809.4l-0.7 -1.5M350.7 809.4l0.9 -1.4M351.3 817.4l-0.8 -1.5M351.3 817.4l0.8 -1.5M350.9 823.3l-0.7 -1.5M350.9 823.3l0.9 -1.5M350.9 833.4l-0.9 -1.5M350.9 833.4l0.8 -1.5M350.5 840.2l-0.9 -1.5M350.5 840.2l0.8 -1.5M350.2 847.6l-0.7 -1.5M350.2 847.6l0.9 -1.5M357.8 792.9l-0.7 -1.6M357.8 792.9l0.9 -1.4M358.4 800.1l-0.8 -1.5M358.4 800.1l0.8 -1.5M359.0 809.4l-0.8 -1.5M359.0 809.4l0.9 -1.5M359.2 816.1l-0.6 -1.6M359.2 816.1l1.0 -1.4M359.6 825.5l-0.8 -1.5M359.6 825.5l0.8 -1.5M358.7 833.2l-0.8 -1.5M358.7 833.2l0.8 -1.5M358.9 841.0l-0.8 -1.5M358.9 841.0l0.8 -1.5M359.1 848.8l-0.8 -1.5M359.1 848.8l0.8 -1.5M366.9 793.4l-0.9 -1.4M366.9 793.4l0.7 -1.5M367.0 801.6l-0.9 -1.5M367.0 801.6l0.8 -1.5M366.8 809.3l-0.7 -1.6M366.8 809.3l0.9 -1.4M366.3 816.5l-0.8 -1.5M366.3 816.5l0.8 -1.5M366.9 824.6l-1.0 -1.4M366.9 824.6l0.6 -1.6M367.2 832.2l-1.0 -1.3M367.2 832.2l0.6 -1.6M366.6 841.1l-0.7 -1.6M366.6 841.1l0.9 -1.4M366.7 848.3l-0.7 -1.5M366.7 848.3l0.9 -1.5M375.0 792.3l-0.7 -1.5M375.0 792.3l0.9 -1.4M375.6 801.8l-0.8 -1.5M375.6 801.8l0.9 -1.5M375.4 808.4l-0.9 -1.4M375.4 808.4l0.7 -1.5M373.8 817.3l-0.7 -1.5M373.8 817.3l0.9 -1.4M375.3 825.0l-1.0 -1.4M375.3 825.0l0.6 -1.6M375.4 833.7l-0.8 -1.5M375.4 833.7l0.8 -1.5M375.6 841.5l-0.7 -1.6M375.6 841.5l0.9 -1.4M374.8 847.8l-0.6 -1.6M374.8 847.8l1.0 -1.4M382.9 793.7l-0.8 -1.5M382.9 793.7l0.8 -1.5M383.6 800.8l-0.9 -1.4M383.6 800.8l0.7 -1.5M384.2 809.4l-0.8 -1.5M384.2 809.4l0.8 -1.5M383.4 815.2l-0.8 -1.5M383.4 815.2l0.8 -1.5M382.9 825.3l-0.7 -1.5M382.9 825.3l0.9 -1.5M383.0 833.7l-0.7 -1.6M383.0 833.7l0.9 -1.4M383.5 842.0l-0.7 -1.5M383.5 842.0l0.9 -1.4M383.1 850.0l-0.8 -1.5M383.1 850.0l0.8 -1.5M386.8 850.8l-1.4 0.9M386.8 850.8l-1.5 -0.7M357.6 851.7l-1.6 0.7M357.6 851.7l-1.4 -1.0M405.2 849.5l-1.5 0.8M405.2 849.5l-1.5 -0.9M353.4 850.5l-1.1 1.3M353.4 850.5l-1.7 -0.3M327.1 850.2l-1.4 1.0M327.1 850.2l-1.6 -0.6M315.3 849.1l-1.4 1.0M315.3 849.1l-1.6 -0.7M323.9 849.9l-1.6 0.4M323.9 849.9l-1.3 -1.1M405.9 851.0l-1.6 0.6M405.9 851.0l-1.4 -1.0M344.3 851.1l-1.4 0.9M344.3 851.1l-1.5 -0.7M370.1 851.7l-1.6 0.6M370.1 851.7l-1.4 -1.0M314.6 850.4l-1.5 0.9M314.6 850.4l-1.5 -0.8M378.3 850.9l-1.7 -0.0M378.3 850.9l-0.9 -1.5M333.5 850.4l-1.5 0.8M333.5 850.4l-1.5 -0.9M386.2 851.4l-1.7 0.4M386.2 851.4l-1.2 -1.2M361.1 849.8l-1.6 0.4M361.1 849.8l-1.3 -1.1M352.8 849.8l-1.2 1.2M352.8 849.8l-1.7 -0.3M342.6 848.4l-1.0 1.4M342.6 848.4l-1.7 -0.0M344.8 849.9l-1.6 0.7M344.8 849.9l-1.4 -0.9M351.7 851.7l-1.6 0.4M351.7 851.7l-1.3 -1.2M366.2 849.1l-1.1 1.3M366.2 849.1l-1.7 -0.3M353.2 850.2l-1.6 0.5M353.2 850.2l-1.3 -1.1M341.0 849.5l-1.4 0.9M341.0 849.5l-1.5 -0.7M334.0 849.5l-1.5 0.9M334.0 849.5l-1.5 -0.8M377.5 851.6l-1.6 0.6M377.5 851.6l-1.4 -1.0M359.6 851.5l-1.6 0.6M359.6 851.5l-1.4 -1.0M395.8 849.6l-1.6 0.5M395.8 849.6l-1.3 -1.1M306.2 850.0l-1.5 0.8M306.2 850.0l-1.5 -0.9M397.8 849.4l-1.4 0.9M397.8 849.4l-1.5 -0.7M317.4 850.5l-1.6 0.6M317.4 850.5l-1.4 -1.0M331.5 851.4l-1.4 0.9M331.5 851.4l-1.6 -0.7M408.4 857.0l-1.6 -0.5M408.4 857.0l-0.5 -1.6M328.2 853.0l-1.5 -0.8M328.2 853.0l-0.1 -1.7M409.3 856.5l-1.0 -1.3M409.3 856.5l0.6 -1.6M406.7 856.2l-0.3 -1.7M406.7 856.2l1.3 -1.1M387.2 856.6l-0.7 -1.6M387.2 856.6l0.9 -1.4M305.6 857.4l-1.2 -1.2M305.6 857.4l0.4 -1.6M352.7 855.0l0.5 -1.6M352.7 855.0l1.6 -0.4M391.3 854.5l-0.5 -1.6M391.3 854.5l1.1 -1.3M337.3 852.8l-1.2 -1.2M337.3 852.8l0.4 -1.6M302.5 857.0l-0.4 -1.6M302.5 857.0l1.1 -1.3M331.6 856.1l-1.4 -0.9M331.6 856.1l-0.0 -1.7M313.1 854.7l-1.1 -1.3M313.1 854.7l0.5 -1.6M362.2 856.3l-1.0 -1.4M362.2 856.3l0.6 -1.6M408.3 854.5l-0.8 -1.5M408.3 854.5l0.8 -1.5M361.2 853.9l-1.1 -1.3M361.2 853.9l0.5 -1.6M395.2 852.4l0.7 -1.5M395.2 852.4l1.7 -0.2M388.5 855.7l-1.7 -0.4M388.5 855.7l-0.6 -1.6M343.0 854.7l-0.3 -1.7M343.0 854.7l1.3 -1.1M311.6 855.1l-1.6 -0.5M311.6 855.1l-0.5 -1.6M324.3 852.6l0.3 -1.7M324.3 852.6l1.6 -0.6M339.4 854.9l-1.5 -0.9M339.4 854.9l-0.1 -1.7M313.0 856.9l-1.0 -1.4M313.0 856.9l0.6 -1.6M410.5 838.8l-1.4 -1.0M410.5 838.8l0.1 -1.7M410.5 776.2l-1.6 -0.7M410.5 776.2l-0.3 -1.7M410.8 836.6l-0.8 -1.5M410.8 836.6l0.8 -1.5M409.4 823.5l-0.3 -1.7M409.4 823.5l1.3 -1.1M407.2 841.0l-0.5 -1.6M407.2 841.0l1.1 -1.3M409.1 754.1l-1.3 -1.1M409.1 754.1l0.2 -1.7M409.9 790.4l-0.9 -1.4M409.9 790.4l0.7 -1.6M408.1 818.3l-1.3 -1.1M408.1 818.3l0.2 -1.7M409.3 841.1l-1.2 -1.2M409.3 841.1l0.3 -1.7M408.4 829.6l-1.0 -1.4M408.4 829.6l0.6 -1.6M407.9 825.4l-0.3 -1.7M407.9 825.4l1.3 -1.1M410.1 820.9l-1.3 -1.1M410.1 820.9l0.2 -1.7M408.7 755.4l0.1 -1.7M408.7 755.4l1.5 -0.9M409.7 810.3l-1.0 -1.4M409.7 810.3l0.7 -1.6M410.6 773.6l-0.8 -1.5M410.6 773.6l0.9 -1.5M409.4 769.8l-0.6 -1.6M409.4 769.8l1.0 -1.4M410.5 827.4l-0.7 -1.6M410.5 827.4l1.0 -1.4M410.8 836.1l-0.9 -1.5M410.8 836.1l0.7 -1.5M410.1 813.4l-0.2 -1.7M410.1 813.4l1.3 -1.1M408.9 754.8l-1.0 -1.4M408.9 754.8l0.6 -1.6M374.4 747.1l-1.7 0.3M374.4 747.1l-1.2 -1.2M307.1 748.3l-1.7 0.2M307.1 748.3l-1.1 -1.3M354.3 746.3l-1.7 0.4M354.3 746.3l-1.2 -1.2M343.2 745.3l-1.3 1.1M343.2 745.3l-1.6 -0.5M373.2 749.1l-1.6 -0.5M373.2 749.1l-0.5 -1.6M407.7 746.1l-1.1 1.3M407.7 746.1l-1.7 -0.3M375.3 748.8l-0.3 -1.7M375.3 748.8l1.2 -1.2M347.0 746.9l-1.4 0.9M347.0 746.9l-1.6 -0.7M271.1 859.5l-0.8 -1.5M271.1 859.5l0.9 -1.5M271.6 866.8l-0.8 -1.5M271.6 866.8l0.8 -1.5M271.6 874.1l-0.9 -1.4M271.6 874.1l0.7 -1.5M271.4 880.9l-0.7 -1.6M271.4 880.9l0.9 -1.4M272.0 887.2l-0.8 -1.5M272.0 887.2l0.8 -1.5M271.7 893.3l-0.9 -1.5M271.7 893.3l0.8 -1.5M271.2 899.1l-0.7 -1.6M271.2 899.1l1.0 -1.4M284.3 783.6l-0.7 -1.6M284.3 783.6l1.0 -1.4M284.6 791.0l-0.8 -1.5M284.6 791.0l0.9 -1.5M284.3 797.6l-0.8 -1.5M284.3 797.6l0.8 -1.5M283.9 803.0l-0.8 -1.5M283.9 803.0l0.8 -1.5M284.4 809.0l-0.8 -1.5M284.4 809.0l0.8 -1.5M284.5 815.0l-0.9 -1.4M284.5 815.0l0.7 -1.6M283.8 820.7l-0.9 -1.5M283.8 820.7l0.7 -1.5M284.0 827.6l-0.8 -1.5M284.0 827.6l0.8 -1.5M284.3 834.1l-0.7 -1.5M284.3 834.1l0.9 -1.4M284.1 840.5l-0.8 -1.5M284.1 840.5l0.8 -1.5M284.5 846.5l-0.8 -1.5M284.5 846.5l0.8 -1.5M284.3 852.6l-0.9 -1.4M284.3 852.6l0.7 -1.5M284.2 859.4l-0.8 -1.5M284.2 859.4l0.9 -1.5M284.0 866.4l-0.8 -1.5M284.0 866.4l0.9 -1.5M284.4 873.6l-0.8 -1.5M284.4 873.6l0.8 -1.5M283.7 881.0l-0.8 -1.5M283.7 881.0l0.8 -1.5M284.2 888.5l-1.0 -1.4M284.2 888.5l0.6 -1.6M284.4 894.7l-0.9 -1.4M284.4 894.7l0.7 -1.5M288.2 783.8l-0.9 -1.5M288.2 783.8l0.8 -1.5M288.4 790.8l-0.9 -1.5M288.4 790.8l0.8 -1.5M287.8 797.7l-0.7 -1.5M287.8 797.7l0.9 -1.4M288.2 804.9l-0.8 -1.5M288.2 804.9l0.8 -1.5M288.2 811.8l-0.9 -1.4M288.2 811.8l0.7 -1.5M287.9 818.2l-0.8 -1.5M287.9 818.2l0.8 -1.5M288.3 823.7l-0.7 -1.6M288.3 823.7l0.9 -1.4M287.9 829.8l-0.7 -1.5M287.9 829.8l0.9 -1.4M288.2 837.1l-0.8 -1.5M288.2 837.1l0.8 -1.5M288.3 843.8l-0.9 -1.4M288.3 843.8l0.7 -1.5M288.7 851.7l-1.0 -1.4M288.7 851.7l0.7 -1.6M287.7 858.1l-0.8 -1.5M287.7 858.1l0.9 -1.5M288.5 864.1l-0.9 -1.5M288.5 864.1l0.8 -1.5M288.2 870.7l-0.8 -1.5M288.2 870.7l0.8 -1.5M288.4 876.7l-0.8 -1.5M288.4 876.7l0.8 -1.5M288.6 882.0l-0.8 -1.5M288.6 882.0l0.8 -1.5M288.5 887.9l-0.9 -1.5M288.5 887.9l0.8 -1.5M288.3 895.3l-0.9 -1.4M288.3 895.3l0.7 -1.5M297.2 783.6l-0.6 -1.6M297.2 783.6l1.0 -1.4M297.0 790.7l-0.8 -1.5M297.0 790.7l0.9 -1.5M297.4 796.9l-0.8 -1.5M297.4 796.9l0.8 -1.5M297.7 803.9l-0.9 -1.4M297.7 803.9l0.7 -1.5M297.3 810.2l-0.7 -1.5M297.3 810.2l0.9 -1.5M297.5 816.7l-0.8 -1.5M297.5 816.7l0.9 -1.5M297.4 823.4l-0.8 -1.5M297.4 823.4l0.8 -1.5M297.2 830.3l-0.8 -1.5M297.2 830.3l0.8 -1.5M297.3 836.7l-0.8 -1.5M297.3 836.7l0.9 -1.5M297.3 842.1l-0.8 -1.5M297.3 842.1l0.8 -1.5M297.6 848.8l-0.7 -1.5M297.6 848.8l0.9 -1.4M297.4 855.3l-0.8 -1.5M297.4 855.3l0.8 -1.5M298.2 860.7l-0.9 -1.5M298.2 860.7l0.7 -1.5M297.3 867.3l-0.7 -1.6M297.3 867.3l1.0 -1.4M297.8 873.2l-0.9 -1.4M297.8 873.2l0.7 -1.5M297.6 880.6l-1.0 -1.4M297.6 880.6l0.6 -1.6M297.5 887.7l-0.8 -1.5M297.5 887.7l0.9 -1.5M297.7 894.1l-0.8 -1.5M297.7 894.1l0.9 -1.5M301.1 784.0l-0.7 -1.5M301.1 784.0l0.9 -1.4M301.0 790.7l-0.8 -1.5M301.0 790.7l0.8 -1.5M301.0 796.0l-0.9 -1.4M301.0 796.0l0.7 -1.5M301.2 803.1l-0.8 -1.5M301.2 803.1l0.8 -1.5M300.9 810.0l-0.7 -1.6M300.9 810.0l1.0 -1.4M300.9 816.7l-0.9 -1.4M300.9 816.7l0.7 -1.5M301.2 822.7l-0.8 -1.5M301.2 822.7l0.8 -1.5M301.0 829.5l-0.9 -1.5M301.0 829.5l0.8 -1.5M300.7 835.9l-0.8 -1.5M300.7 835.9l0.8 -1.5M301.2 841.9l-0.8 -1.5M301.2 841.9l0.8 -1.5M301.4 848.8l-1.0 -1.4M301.4 848.8l0.7 -1.6M301.4 855.4l-0.8 -1.5M301.4 855.4l0.8 -1.5M301.3 861.3l-0.8 -1.5M301.3 861.3l0.9 -1.5M301.3 868.9l-0.8 -1.5M301.3 868.9l0.8 -1.5M301.3 875.3l-0.7 -1.5M301.3 875.3l0.9 -1.4M300.1 880.8l-0.7 -1.6M300.1 880.8l1.0 -1.4M301.2 888.6l-0.8 -1.5M301.2 888.6l0.8 -1.5M301.0 894.4l-0.8 -1.5M301.0 894.4l0.8 -1.5M312.6 859.9l-0.8 -1.5M312.6 859.9l0.8 -1.5M313.0 865.2l-0.9 -1.5M313.0 865.2l0.8 -1.5M312.6 873.2l-0.8 -1.5M312.6 873.2l0.8 -1.5M312.6 879.4l-0.8 -1.5M312.6 879.4l0.9 -1.5M312.3 886.1l-0.8 -1.5M312.3 886.1l0.9 -1.5M313.4 892.5l-0.9 -1.4M313.4 892.5l0.7 -1.5M312.3 898.6l-0.9 -1.5M312.3 898.6l0.8 -1.5" stroke="#1a26cc" stroke-width="0.78" fill="none" stroke-linecap="round" opacity="0.88"/>
<path d="M247.3 689.2L250.5 692.6M247.7 694.9L251.0 697.2M246.3 699.9L249.6 703.1M247.4 705.3L250.2 708.9M247.6 711.1L250.2 714.0M248.5 716.0L251.1 719.0M248.4 721.5L248.5 725.4M248.3 725.8L247.5 729.9M247.5 731.5L249.0 736.7M249.4 737.3L249.3 741.8M247.6 741.9L248.2 746.6M251.3 750.2L246.8 751.1M249.5 755.3L246.7 758.2M250.5 761.2L246.2 760.0M250.4 765.7L246.9 768.2M250.0 770.7L247.0 774.6M249.6 776.7L246.3 779.3M251.1 689.4L255.1 692.9M250.4 693.7L254.3 697.1M252.0 699.9L254.1 703.1M251.3 705.8L254.8 709.7M252.6 711.9L255.4 714.7M251.8 716.6L255.1 718.6M254.3 721.3L253.7 725.1M252.4 725.9L253.2 731.3M253.3 732.3L253.2 736.5M254.5 737.1L254.6 742.5M254.7 742.8L254.2 747.6M255.9 749.2L251.3 751.7M254.8 755.3L251.0 756.8M255.2 760.4L252.3 762.6M255.4 766.9L251.4 767.6M254.6 770.3L251.4 774.3M255.0 775.8L252.3 779.5M257.2 688.7L260.7 691.4M256.5 694.8L259.5 697.3M257.9 699.4L259.2 703.5M257.8 704.6L261.6 707.9M256.8 709.8L260.1 713.0M256.6 715.9L260.2 718.9M258.8 720.2L258.4 725.3M258.9 726.9L259.0 731.5M260.2 730.6L259.7 735.7M259.3 737.4L259.0 741.2M259.3 742.5L259.0 747.0M261.6 749.4L257.2 751.6M261.0 754.3L257.2 756.9M260.1 760.4L256.5 763.2M261.0 766.7L256.5 767.2M260.8 769.9L257.0 772.5M260.2 778.0L256.3 778.8M261.8 689.5L265.3 692.7M263.2 694.7L266.5 697.8M261.4 700.5L265.9 703.7M261.8 704.7L265.2 708.5M262.4 710.9L264.8 713.8M261.7 715.3L265.9 718.6M264.0 720.8L264.4 724.8M264.1 725.7L263.7 730.4M264.4 732.0L265.1 736.3M263.5 738.4L264.0 742.4M264.2 742.5L264.8 746.9M265.9 748.4L263.1 752.4M266.3 753.6L263.3 757.6M265.8 759.9L262.3 762.9M265.7 766.7L262.0 768.4M266.9 771.9L261.6 772.6M265.4 776.1L261.6 778.5M266.6 689.0L270.6 692.1M269.1 693.8L270.7 697.6M268.3 700.2L270.7 703.8M267.3 706.4L271.3 708.8M266.8 710.6L271.1 713.2M267.2 716.2L270.5 718.0M269.4 721.3L269.0 726.3M269.1 727.7L269.3 732.2M269.6 732.5L269.6 736.6M268.7 736.7L268.9 742.1M269.4 742.5L269.2 746.6M271.2 749.2L267.4 751.8M271.1 756.0L266.7 755.1M271.1 760.4L267.2 762.4M272.3 766.2L268.5 768.3M270.4 770.8L266.9 773.8M271.9 777.6L267.2 778.5M271.3 688.7L275.7 692.0M272.9 694.7L275.7 698.1M272.4 699.9L275.4 703.6M272.2 705.4L275.6 708.3M272.5 711.1L276.6 714.7M271.8 716.3L274.8 720.3M273.0 722.3L273.9 725.9M274.5 725.7L273.9 730.9M273.3 731.8L273.3 736.8M273.7 736.8L273.7 742.2M274.8 742.5L274.7 746.2M276.9 749.0L273.0 751.4M274.9 754.2L272.7 758.6M276.4 760.7L272.6 762.1M275.1 764.8L272.9 769.9M276.4 771.7L271.9 773.0M277.2 777.6L272.5 778.1M278.6 687.7L280.2 691.6M277.7 694.4L281.3 698.0M280.3 699.1L279.8 703.0M277.5 706.7L281.3 708.5M277.1 711.6L281.2 714.4M277.3 717.2L280.7 718.4M279.1 721.1L278.7 725.2M279.7 725.5L279.1 730.8M279.8 731.9L279.8 736.7M279.6 736.9L279.9 741.7M279.1 743.1L279.5 748.2M280.2 749.7L276.6 751.8M281.1 756.5L276.5 754.8M279.6 759.6L280.0 763.8M281.4 765.5L277.7 769.2M280.5 771.4L278.0 775.2M280.9 776.8L277.4 779.9M284.1 689.0L284.1 693.1M285.0 694.7L284.9 698.3M284.4 699.3L284.2 703.5M284.2 704.2L284.2 709.2M284.1 710.7L284.0 716.1M284.3 715.3L284.6 720.2M284.0 721.3L284.1 726.2M284.9 726.6L285.1 731.4M283.2 731.2L284.0 736.6M284.6 736.5L284.4 742.1M284.0 742.6L283.9 747.2M283.7 748.2L283.9 752.6M285.3 753.3L285.0 758.8M283.7 759.4L283.8 763.6M284.8 764.9L284.4 768.8M284.1 770.1L283.6 775.0M285.1 775.6L284.8 780.2M300.0 688.6L300.1 692.2M300.2 694.6L300.3 698.7M298.2 699.3L298.5 703.9M299.8 705.3L299.6 709.7M299.5 710.3L299.7 715.5M299.3 715.6L299.4 720.0M299.1 720.9L299.1 726.2M299.4 726.3L299.9 729.9M299.6 731.6L300.2 736.0M299.5 736.7L300.0 741.3M299.9 743.0L299.6 748.1M300.0 748.3L300.0 753.7M299.8 753.3L299.6 758.3M299.6 758.6L299.3 764.0M300.2 765.1L300.2 770.1M299.4 768.8L299.3 774.1M300.0 776.1L300.0 780.5M307.1 688.8L303.8 692.0M306.6 693.9L303.5 697.4M306.8 700.5L303.8 703.0M305.0 704.9L304.2 710.1M304.3 710.0L304.8 715.4M307.1 716.8L304.0 720.7M305.9 721.9L305.5 726.2M305.6 727.4L305.5 731.5M305.0 732.2L305.2 735.9M304.6 737.0L304.3 742.2M305.1 741.9L304.9 746.3M303.4 748.6L307.0 752.3M304.0 754.6L306.9 757.5M303.4 758.7L307.0 762.2M303.7 765.1L303.7 769.9M302.9 772.4L307.5 772.5M303.7 775.1L306.0 779.7M311.2 688.0L308.3 691.5M312.4 694.7L308.6 697.3M311.6 699.0L308.2 703.1M311.7 705.2L308.7 708.4M312.0 711.9L307.0 714.5M311.7 716.1L308.2 718.6M310.3 721.6L310.1 725.9M310.3 726.6L309.4 731.2M311.1 732.2L310.5 736.4M309.7 737.3L309.8 742.1M308.8 743.6L309.1 748.3M307.3 749.5L311.3 751.5M308.3 756.1L312.0 756.5M308.1 760.6L312.0 762.1M308.7 764.8L311.2 769.2M308.9 770.8L311.9 773.2M308.5 776.6L311.6 779.4M317.2 689.4L314.1 693.5M317.1 695.4L314.0 697.3M315.6 699.7L312.6 703.6M316.7 704.8L313.2 708.2M317.4 710.9L312.4 712.2M315.9 715.8L314.1 719.4M315.4 721.6L315.5 726.7M315.4 726.3L315.0 731.8M315.4 732.9L315.5 737.2M315.8 736.6L316.1 741.6M315.4 743.2L315.2 748.4M314.2 749.4L316.7 752.3M312.6 756.0L317.1 755.8M314.4 760.2L317.8 762.5M314.1 766.1L317.1 768.5M313.3 772.2L317.4 772.4M313.1 777.9L316.9 778.4M321.9 690.0L318.3 692.1M322.1 694.2L318.1 697.6M321.9 700.0L318.8 703.0M321.7 705.2L318.3 708.4M322.1 710.2L318.3 714.3M321.8 716.1L318.2 719.6M319.9 721.9L320.4 725.5M321.2 726.4L320.9 731.9M319.8 731.7L320.1 737.0M320.7 737.4L320.6 742.0M320.7 744.3L320.4 748.3M318.8 748.3L321.4 752.1M317.7 755.8L322.2 756.3M318.0 761.4L323.3 763.0M318.4 764.9L321.4 767.5M317.4 771.5L322.3 774.2M319.7 777.1L323.8 777.6M326.8 687.7L324.2 691.9M327.0 694.9L324.0 697.4M326.3 700.3L323.2 702.7M326.6 705.4L323.5 708.1M326.5 711.1L322.9 713.9M327.3 715.9L323.8 719.4M324.6 721.0L324.0 724.8M325.2 726.4L325.2 730.5M325.9 732.5L326.1 736.6M325.0 737.8L325.1 742.8M325.3 744.3L325.4 748.1M323.2 749.4L326.5 751.6M323.2 754.1L327.6 757.5M324.3 759.9L327.2 763.5M324.5 765.5L327.3 768.7M323.8 771.7L327.3 774.0M323.3 776.5L327.0 779.8M332.3 689.4L329.4 691.6M332.5 693.7L328.7 697.8M333.2 699.5L329.5 703.3M332.0 705.2L329.0 708.7M333.3 712.6L329.4 713.6M332.4 717.7L329.1 719.4M330.5 721.2L330.4 726.1M330.5 726.9L330.9 730.6M329.8 732.4L330.0 736.7M330.6 736.7L330.7 741.6M330.8 743.1L329.9 748.2M329.2 747.7L331.0 752.4M328.1 754.4L332.6 757.6M328.5 762.3L332.7 760.8M328.1 765.8L331.3 768.1M327.7 771.4L332.7 774.0M329.3 776.8L333.5 779.4M337.4 689.0L334.3 693.2M337.9 695.3L333.3 697.3M337.9 700.1L333.1 702.8M338.4 705.9L333.9 708.2M337.6 710.6L333.9 714.0M337.5 716.5L334.1 718.5M335.0 720.4L335.8 725.8M336.2 727.3L335.5 730.9M336.4 732.2L335.4 737.5M336.5 737.4L335.6 742.2M335.8 743.0L336.5 747.1M334.2 750.1L338.3 751.8M334.0 753.4L338.0 757.3M334.6 759.2L337.9 762.8M333.3 765.5L337.7 767.4M335.0 770.3L336.6 773.6M334.5 775.7L336.8 779.4" stroke="#2030d0" stroke-width="0.50" fill="none" stroke-linecap="round" opacity="0.80"/>
<path d="M250.5 692.6l-1.3 -0.4M250.5 692.6l-0.3 -1.4M251.0 697.2l-1.4 -0.2M251.0 697.2l-0.6 -1.3M249.6 703.1l-1.3 -0.4M249.6 703.1l-0.4 -1.3M250.2 708.9l-1.3 -0.6M250.2 708.9l-0.2 -1.4M250.2 714.0l-1.3 -0.5M250.2 714.0l-0.3 -1.4M251.1 719.0l-1.3 -0.5M251.1 719.0l-0.3 -1.4M248.5 725.4l-0.7 -1.2M248.5 725.4l0.7 -1.2M247.5 729.9l-0.4 -1.3M247.5 729.9l0.9 -1.1M249.0 736.7l-1.0 -1.0M249.0 736.7l0.3 -1.4M249.3 741.8l-0.6 -1.3M249.3 741.8l0.7 -1.2M248.2 746.6l-0.8 -1.1M248.2 746.6l0.5 -1.3M246.8 751.1l1.1 -0.9M246.8 751.1l1.3 0.4M246.7 758.2l0.4 -1.4M246.7 758.2l1.3 -0.4M246.2 760.0l1.4 -0.3M246.2 760.0l1.0 1.0M246.9 768.2l0.6 -1.3M246.9 768.2l1.4 -0.2M247.0 774.6l0.2 -1.4M247.0 774.6l1.3 -0.6M246.3 779.3l0.6 -1.3M246.3 779.3l1.4 -0.2M255.1 692.9l-1.4 -0.3M255.1 692.9l-0.5 -1.3M254.3 697.1l-1.4 -0.3M254.3 697.1l-0.5 -1.3M254.1 703.1l-1.2 -0.7M254.1 703.1l-0.1 -1.4M254.8 709.7l-1.3 -0.5M254.8 709.7l-0.3 -1.4M255.4 714.7l-1.3 -0.4M255.4 714.7l-0.4 -1.3M255.1 718.6l-1.4 -0.1M255.1 718.6l-0.7 -1.2M253.7 725.1l-0.5 -1.3M253.7 725.1l0.8 -1.1M253.2 731.3l-0.8 -1.1M253.2 731.3l0.5 -1.3M253.2 736.5l-0.6 -1.2M253.2 736.5l0.7 -1.2M254.6 742.5l-0.7 -1.2M254.6 742.5l0.7 -1.2M254.2 747.6l-0.5 -1.3M254.2 747.6l0.8 -1.2M251.3 751.7l0.8 -1.2M251.3 751.7l1.4 -0.0M251.0 756.8l0.9 -1.1M251.0 756.8l1.4 0.2M252.3 762.6l0.6 -1.3M252.3 762.6l1.4 -0.2M251.4 767.6l1.1 -0.9M251.4 767.6l1.3 0.4M251.4 774.3l0.2 -1.4M251.4 774.3l1.3 -0.5M252.3 779.5l0.2 -1.4M252.3 779.5l1.3 -0.6M260.7 691.4l-1.4 -0.2M260.7 691.4l-0.6 -1.3M259.5 697.3l-1.4 -0.3M259.5 697.3l-0.5 -1.3M259.2 703.5l-1.0 -1.0M259.2 703.5l0.3 -1.4M261.6 707.9l-1.4 -0.3M261.6 707.9l-0.5 -1.3M260.1 713.0l-1.4 -0.4M260.1 713.0l-0.4 -1.3M260.2 718.9l-1.4 -0.3M260.2 718.9l-0.5 -1.3M258.4 725.3l-0.6 -1.3M258.4 725.3l0.8 -1.2M259.0 731.5l-0.7 -1.2M259.0 731.5l0.7 -1.2M259.7 735.7l-0.6 -1.3M259.7 735.7l0.8 -1.2M259.0 741.2l-0.6 -1.3M259.0 741.2l0.8 -1.2M259.0 747.0l-0.6 -1.3M259.0 747.0l0.8 -1.2M257.2 751.6l0.8 -1.1M257.2 751.6l1.4 0.1M257.2 756.9l0.6 -1.3M257.2 756.9l1.4 -0.1M256.5 763.2l0.6 -1.3M256.5 763.2l1.4 -0.2M256.5 767.2l1.1 -0.8M256.5 767.2l1.3 0.5M257.0 772.5l0.6 -1.2M257.0 772.5l1.4 -0.1M256.3 778.8l1.1 -0.9M256.3 778.8l1.3 0.4M265.3 692.7l-1.4 -0.3M265.3 692.7l-0.5 -1.3M266.5 697.8l-1.4 -0.4M266.5 697.8l-0.4 -1.3M265.9 703.7l-1.4 -0.2M265.9 703.7l-0.6 -1.3M265.2 708.5l-1.3 -0.5M265.2 708.5l-0.3 -1.4M264.8 713.8l-1.3 -0.5M264.8 713.8l-0.2 -1.4M265.9 718.6l-1.4 -0.2M265.9 718.6l-0.6 -1.3M264.4 724.8l-0.8 -1.2M264.4 724.8l0.5 -1.3M263.7 730.4l-0.6 -1.3M263.7 730.4l0.8 -1.2M265.1 736.3l-0.9 -1.1M265.1 736.3l0.5 -1.3M264.0 742.4l-0.8 -1.1M264.0 742.4l0.5 -1.3M264.8 746.9l-0.8 -1.1M264.8 746.9l0.5 -1.3M263.1 752.4l0.2 -1.4M263.1 752.4l1.3 -0.6M263.3 757.6l0.2 -1.4M263.3 757.6l1.3 -0.6M262.3 762.9l0.5 -1.3M262.3 762.9l1.4 -0.3M262.0 768.4l0.8 -1.1M262.0 768.4l1.4 0.1M261.6 772.6l1.1 -0.8M261.6 772.6l1.3 0.5M261.6 778.5l0.7 -1.2M261.6 778.5l1.4 -0.1M270.6 692.1l-1.4 -0.2M270.6 692.1l-0.6 -1.3M270.7 697.6l-1.1 -0.9M270.7 697.6l0.2 -1.4M270.7 703.8l-1.2 -0.6M270.7 703.8l-0.1 -1.4M271.3 708.8l-1.4 -0.0M271.3 708.8l-0.7 -1.2M271.1 713.2l-1.4 -0.1M271.1 713.2l-0.7 -1.2M270.5 718.0l-1.4 0.0M270.5 718.0l-0.8 -1.2M269.0 726.3l-0.6 -1.3M269.0 726.3l0.7 -1.2M269.3 732.2l-0.7 -1.2M269.3 732.2l0.6 -1.3M269.6 736.6l-0.7 -1.2M269.6 736.6l0.7 -1.2M268.9 742.1l-0.7 -1.2M268.9 742.1l0.6 -1.3M269.2 746.6l-0.6 -1.3M269.2 746.6l0.7 -1.2M267.4 751.8l0.6 -1.3M267.4 751.8l1.4 -0.2M266.7 755.1l1.3 -0.4M266.7 755.1l1.1 0.9M267.2 762.4l0.8 -1.2M267.2 762.4l1.4 0.0M268.5 768.3l0.7 -1.2M268.5 768.3l1.4 -0.0M266.9 773.8l0.5 -1.3M266.9 773.8l1.4 -0.3M267.2 778.5l1.1 -0.9M267.2 778.5l1.3 0.4M275.7 692.0l-1.4 -0.2M275.7 692.0l-0.6 -1.3M275.7 698.1l-1.3 -0.5M275.7 698.1l-0.3 -1.4M275.4 703.6l-1.3 -0.5M275.4 703.6l-0.3 -1.4M275.6 708.3l-1.4 -0.3M275.6 708.3l-0.5 -1.3M276.6 714.7l-1.4 -0.3M276.6 714.7l-0.5 -1.3M274.8 720.3l-1.3 -0.6M274.8 720.3l-0.2 -1.4M273.9 725.9l-0.9 -1.0M273.9 725.9l0.4 -1.4M273.9 730.9l-0.5 -1.3M273.9 730.9l0.8 -1.1M273.3 736.8l-0.7 -1.2M273.3 736.8l0.7 -1.2M273.7 742.2l-0.7 -1.2M273.7 742.2l0.7 -1.2M274.7 746.2l-0.6 -1.2M274.7 746.2l0.7 -1.2M273.0 751.4l0.7 -1.2M273.0 751.4l1.4 -0.1M272.7 758.6l-0.1 -1.4M272.7 758.6l1.1 -0.8M272.6 762.1l0.9 -1.0M272.6 762.1l1.4 0.2M272.9 769.9l-0.1 -1.4M272.9 769.9l1.1 -0.9M271.9 773.0l1.0 -1.0M271.9 773.0l1.4 0.3M272.5 778.1l1.1 -0.8M272.5 778.1l1.3 0.5M280.2 691.6l-1.1 -0.9M280.2 691.6l0.2 -1.4M281.3 698.0l-1.3 -0.4M281.3 698.0l-0.4 -1.3M279.8 703.0l-0.5 -1.3M279.8 703.0l0.8 -1.1M281.3 708.5l-1.4 0.1M281.3 708.5l-0.8 -1.1M281.2 714.4l-1.4 -0.1M281.2 714.4l-0.6 -1.3M280.7 718.4l-1.4 0.2M280.7 718.4l-0.9 -1.0M278.7 725.2l-0.6 -1.3M278.7 725.2l0.8 -1.2M279.1 730.8l-0.5 -1.3M279.1 730.8l0.8 -1.1M279.8 736.7l-0.7 -1.2M279.8 736.7l0.7 -1.2M279.9 741.7l-0.8 -1.2M279.9 741.7l0.6 -1.3M279.5 748.2l-0.8 -1.2M279.5 748.2l0.6 -1.3M276.6 751.8l0.7 -1.2M276.6 751.8l1.4 -0.0M276.5 754.8l1.4 -0.2M276.5 754.8l0.9 1.1M280.0 763.8l-0.8 -1.2M280.0 763.8l0.6 -1.3M277.7 769.2l0.4 -1.3M277.7 769.2l1.3 -0.4M278.0 775.2l0.1 -1.4M278.0 775.2l1.2 -0.7M277.4 779.9l0.5 -1.3M277.4 779.9l1.4 -0.3M284.1 693.1l-0.7 -1.2M284.1 693.1l0.7 -1.2M284.9 698.3l-0.6 -1.2M284.9 698.3l0.7 -1.2M284.2 703.5l-0.6 -1.3M284.2 703.5l0.7 -1.2M284.2 709.2l-0.7 -1.2M284.2 709.2l0.6 -1.2M284.0 716.1l-0.6 -1.2M284.0 716.1l0.7 -1.2M284.6 720.2l-0.7 -1.2M284.6 720.2l0.6 -1.3M284.1 726.2l-0.7 -1.2M284.1 726.2l0.7 -1.2M285.1 731.4l-0.7 -1.2M285.1 731.4l0.6 -1.3M284.0 736.6l-0.8 -1.1M284.0 736.6l0.5 -1.3M284.4 742.1l-0.6 -1.3M284.4 742.1l0.7 -1.2M283.9 747.2l-0.7 -1.2M283.9 747.2l0.7 -1.2M283.9 752.6l-0.7 -1.2M283.9 752.6l0.6 -1.3M285.0 758.8l-0.6 -1.3M285.0 758.8l0.7 -1.2M283.8 763.6l-0.7 -1.2M283.8 763.6l0.6 -1.3M284.4 768.8l-0.6 -1.3M284.4 768.8l0.8 -1.2M283.6 775.0l-0.5 -1.3M283.6 775.0l0.8 -1.1M284.8 780.2l-0.6 -1.3M284.8 780.2l0.7 -1.2M300.1 692.2l-0.7 -1.2M300.1 692.2l0.6 -1.3M300.3 698.7l-0.7 -1.2M300.3 698.7l0.6 -1.3M298.5 703.9l-0.7 -1.2M298.5 703.9l0.6 -1.3M299.6 709.7l-0.6 -1.3M299.6 709.7l0.7 -1.2M299.7 715.5l-0.7 -1.2M299.7 715.5l0.6 -1.3M299.4 720.0l-0.7 -1.2M299.4 720.0l0.6 -1.2M299.1 726.2l-0.7 -1.2M299.1 726.2l0.7 -1.2M299.9 729.9l-0.8 -1.1M299.9 729.9l0.5 -1.3M300.2 736.0l-0.8 -1.1M300.2 736.0l0.5 -1.3M300.0 741.3l-0.8 -1.1M300.0 741.3l0.5 -1.3M299.6 748.1l-0.6 -1.3M299.6 748.1l0.7 -1.2M300.0 753.7l-0.7 -1.2M300.0 753.7l0.7 -1.2M299.6 758.3l-0.6 -1.3M299.6 758.3l0.7 -1.2M299.3 764.0l-0.6 -1.3M299.3 764.0l0.7 -1.2M300.2 770.1l-0.7 -1.2M300.2 770.1l0.7 -1.2M299.3 774.1l-0.6 -1.2M299.3 774.1l0.7 -1.2M300.0 780.5l-0.7 -1.2M300.0 780.5l0.7 -1.2M303.8 692.0l0.4 -1.3M303.8 692.0l1.4 -0.4M303.5 697.4l0.3 -1.4M303.5 697.4l1.3 -0.5M303.8 703.0l0.5 -1.3M303.8 703.0l1.4 -0.3M304.2 710.1l-0.5 -1.3M304.2 710.1l0.8 -1.1M304.8 715.4l-0.8 -1.2M304.8 715.4l0.5 -1.3M304.0 720.7l0.3 -1.4M304.0 720.7l1.3 -0.5M305.5 726.2l-0.5 -1.3M305.5 726.2l0.8 -1.2M305.5 731.5l-0.6 -1.3M305.5 731.5l0.7 -1.2M305.2 735.9l-0.7 -1.2M305.2 735.9l0.6 -1.3M304.3 742.2l-0.6 -1.3M304.3 742.2l0.7 -1.2M304.9 746.3l-0.6 -1.3M304.9 746.3l0.7 -1.2M307.0 752.3l-1.3 -0.4M307.0 752.3l-0.4 -1.3M306.9 757.5l-1.3 -0.4M306.9 757.5l-0.4 -1.3M307.0 762.2l-1.4 -0.4M307.0 762.2l-0.4 -1.3M303.7 769.9l-0.7 -1.2M303.7 769.9l0.7 -1.2M307.5 772.5l-1.2 0.7M307.5 772.5l-1.2 -0.7M306.0 779.7l-1.1 -0.8M306.0 779.7l0.1 -1.4M308.3 691.5l0.3 -1.4M308.3 691.5l1.3 -0.5M308.6 697.3l0.6 -1.3M308.6 697.3l1.4 -0.1M308.2 703.1l0.3 -1.4M308.2 703.1l1.3 -0.5M308.7 708.4l0.3 -1.4M308.7 708.4l1.3 -0.5M307.0 714.5l0.8 -1.2M307.0 714.5l1.4 0.0M308.2 718.6l0.6 -1.3M308.2 718.6l1.4 -0.2M310.1 725.9l-0.6 -1.3M310.1 725.9l0.7 -1.2M309.4 731.2l-0.4 -1.3M309.4 731.2l0.9 -1.1M310.5 736.4l-0.5 -1.3M310.5 736.4l0.8 -1.1M309.8 742.1l-0.7 -1.2M309.8 742.1l0.7 -1.2M309.1 748.3l-0.7 -1.2M309.1 748.3l0.6 -1.3M311.3 751.5l-1.4 0.0M311.3 751.5l-0.8 -1.2M312.0 756.5l-1.3 0.6M312.0 756.5l-1.2 -0.8M312.0 762.1l-1.4 0.2M312.0 762.1l-0.9 -1.1M311.2 769.2l-1.2 -0.7M311.2 769.2l-0.0 -1.4M311.9 773.2l-1.4 -0.2M311.9 773.2l-0.6 -1.3M311.6 779.4l-1.4 -0.3M311.6 779.4l-0.5 -1.3M314.1 693.5l0.2 -1.4M314.1 693.5l1.3 -0.6M314.0 697.3l0.7 -1.2M314.0 697.3l1.4 -0.1M312.6 703.6l0.2 -1.4M312.6 703.6l1.3 -0.6M313.2 708.2l0.4 -1.3M313.2 708.2l1.3 -0.4M312.4 712.2l1.0 -1.0M312.4 712.2l1.4 0.3M314.1 719.4l-0.0 -1.4M314.1 719.4l1.2 -0.8M315.5 726.7l-0.7 -1.2M315.5 726.7l0.6 -1.2M315.0 731.8l-0.6 -1.3M315.0 731.8l0.8 -1.2M315.5 737.2l-0.7 -1.2M315.5 737.2l0.6 -1.2M316.1 741.6l-0.8 -1.2M316.1 741.6l0.6 -1.3M315.2 748.4l-0.6 -1.3M315.2 748.4l0.7 -1.2M316.7 752.3l-1.3 -0.5M316.7 752.3l-0.3 -1.4M317.1 755.8l-1.2 0.7M317.1 755.8l-1.3 -0.6M317.8 762.5l-1.4 -0.1M317.8 762.5l-0.7 -1.2M317.1 768.5l-1.4 -0.3M317.1 768.5l-0.5 -1.3M317.4 772.4l-1.3 0.6M317.4 772.4l-1.2 -0.7M316.9 778.4l-1.3 0.5M316.9 778.4l-1.1 -0.8M318.3 692.1l0.7 -1.2M318.3 692.1l1.4 -0.1M318.1 697.6l0.5 -1.3M318.1 697.6l1.4 -0.3M318.8 703.0l0.4 -1.3M318.8 703.0l1.3 -0.4M318.3 708.4l0.4 -1.3M318.3 708.4l1.4 -0.4M318.3 714.3l0.3 -1.4M318.3 714.3l1.3 -0.5M318.2 719.6l0.4 -1.3M318.2 719.6l1.3 -0.4M320.4 725.5l-0.8 -1.1M320.4 725.5l0.5 -1.3M320.9 731.9l-0.6 -1.3M320.9 731.9l0.7 -1.2M320.1 737.0l-0.7 -1.2M320.1 737.0l0.6 -1.3M320.6 742.0l-0.6 -1.2M320.6 742.0l0.7 -1.2M320.4 748.3l-0.6 -1.3M320.4 748.3l0.8 -1.2M321.4 752.1l-1.3 -0.6M321.4 752.1l-0.2 -1.4M322.2 756.3l-1.3 0.5M322.2 756.3l-1.1 -0.8M323.3 763.0l-1.4 0.3M323.3 763.0l-1.0 -1.0M321.4 767.5l-1.4 -0.3M321.4 767.5l-0.5 -1.3M322.3 774.2l-1.4 -0.0M322.3 774.2l-0.7 -1.2M323.8 777.6l-1.3 0.5M323.8 777.6l-1.1 -0.8M324.2 691.9l0.1 -1.4M324.2 691.9l1.2 -0.7M324.0 697.4l0.5 -1.3M324.0 697.4l1.4 -0.3M323.2 702.7l0.5 -1.3M323.2 702.7l1.4 -0.2M323.5 708.1l0.5 -1.3M323.5 708.1l1.4 -0.3M322.9 713.9l0.5 -1.3M322.9 713.9l1.4 -0.2M323.8 719.4l0.4 -1.3M323.8 719.4l1.3 -0.4M324.0 724.8l-0.5 -1.3M324.0 724.8l0.9 -1.1M325.2 730.5l-0.7 -1.2M325.2 730.5l0.7 -1.2M326.1 736.6l-0.7 -1.2M326.1 736.6l0.6 -1.3M325.1 742.8l-0.7 -1.2M325.1 742.8l0.7 -1.2M325.4 748.1l-0.7 -1.2M325.4 748.1l0.6 -1.2M326.5 751.6l-1.4 -0.1M326.5 751.6l-0.6 -1.2M327.6 757.5l-1.4 -0.2M327.6 757.5l-0.6 -1.3M327.2 763.5l-1.3 -0.5M327.2 763.5l-0.3 -1.4M327.3 768.7l-1.3 -0.5M327.3 768.7l-0.3 -1.4M327.3 774.0l-1.4 -0.1M327.3 774.0l-0.7 -1.2M327.0 779.8l-1.4 -0.3M327.0 779.8l-0.5 -1.3M329.4 691.6l0.6 -1.3M329.4 691.6l1.4 -0.2M328.7 697.8l0.3 -1.4M328.7 697.8l1.3 -0.4M329.5 703.3l0.4 -1.3M329.5 703.3l1.3 -0.4M329.0 708.7l0.3 -1.4M329.0 708.7l1.3 -0.5M329.4 713.6l1.0 -1.0M329.4 713.6l1.4 0.3M329.1 719.4l0.8 -1.1M329.1 719.4l1.4 0.1M330.4 726.1l-0.7 -1.2M330.4 726.1l0.7 -1.2M330.9 730.6l-0.8 -1.2M330.9 730.6l0.6 -1.3M330.0 736.7l-0.7 -1.2M330.0 736.7l0.6 -1.3M330.7 741.6l-0.7 -1.2M330.7 741.6l0.6 -1.2M329.9 748.2l-0.4 -1.3M329.9 748.2l0.9 -1.1M331.0 752.4l-1.1 -0.9M331.0 752.4l0.2 -1.4M332.6 757.6l-1.4 -0.2M332.6 757.6l-0.6 -1.3M332.7 760.8l-0.9 1.0M332.7 760.8l-1.4 -0.2M331.3 768.1l-1.4 -0.2M331.3 768.1l-0.6 -1.3M332.7 774.0l-1.4 0.0M332.7 774.0l-0.8 -1.2M333.5 779.4l-1.4 -0.1M333.5 779.4l-0.7 -1.2M334.3 693.2l0.2 -1.4M334.3 693.2l1.3 -0.6M333.3 697.3l0.9 -1.1M333.3 697.3l1.4 0.1M333.1 702.8l0.7 -1.2M333.1 702.8l1.4 -0.0M333.9 708.2l0.8 -1.2M333.9 708.2l1.4 0.0M333.9 714.0l0.4 -1.3M333.9 714.0l1.4 -0.3M334.1 718.5l0.7 -1.2M334.1 718.5l1.4 -0.0M335.8 725.8l-0.8 -1.1M335.8 725.8l0.5 -1.3M335.5 730.9l-0.4 -1.3M335.5 730.9l0.9 -1.1M335.4 737.5l-0.4 -1.3M335.4 737.5l0.9 -1.1M335.6 742.2l-0.4 -1.3M335.6 742.2l0.9 -1.1M336.5 747.1l-0.9 -1.1M336.5 747.1l0.5 -1.3M338.3 751.8l-1.4 0.1M338.3 751.8l-0.9 -1.1M338.0 757.3l-1.3 -0.4M338.0 757.3l-0.4 -1.3M337.9 762.8l-1.3 -0.5M337.9 762.8l-0.3 -1.4M337.7 767.4l-1.4 0.1M337.7 767.4l-0.9 -1.1M336.6 773.6l-1.1 -0.8M336.6 773.6l0.1 -1.4M336.8 779.4l-1.2 -0.7M336.8 779.4l-0.1 -1.4" stroke="#1a26cc" stroke-width="0.62" fill="none" stroke-linecap="round" opacity="0.80"/>
<path d="M281.8 757V826M302.6 757V802" stroke="#24ea2c" stroke-width="1.5" fill="none"/>
<path d="M281.8 826V846M302.6 802V846" stroke="#2a6ae0" stroke-width="1" stroke-dasharray="4 2.2" fill="none"/>
<path d="M276.2 850V899M308.4 850V899" stroke="#22cfe0" stroke-width="1.1" stroke-dasharray="4.5 2" fill="none"/>
<path d="M269.5 756.5L281.5 768M272 757L281 772" stroke="#22e038" stroke-width="1.1" fill="none"/>
<path d="M258 770.5l8 -1.5" stroke="#18c8a0" stroke-width="1.2" fill="none"/>
<path d="M276.5 812l5 -5v9z" fill="#e87060"/>
<path d="M306 770l8 5M308 777l6 6" stroke="#30b8e0" stroke-width="0.9" fill="none"/>
<path d="M248.8 722.5V747M252.1 722.5V747M255.4 722.5V747M258.7 722.5V747M262.0 722.5V747M265.3 722.5V747M268.6 722.5V747M271.9 722.5V747M275.2 722.5V747M278.5 722.5V747M281.8 722.5V747M285.1 722.5V747M288.4 722.5V747M298.3 722.5V747M301.6 722.5V747M304.9 722.5V747M308.2 722.5V747M311.5 722.5V747M314.8 722.5V747M318.1 722.5V747M321.4 722.5V747M324.7 722.5V747M328.0 722.5V747M331.3 722.5V747M334.6 722.5V747" stroke="#8288e6" stroke-width="0.55" stroke-dasharray="5 1.6" fill="none" opacity="0.8"/>
<path d="M225.4 636V678Q225.4 690 232.6 696.6" stroke="#9238b2" stroke-width="4.3" fill="none" stroke-linejoin="round"/><path d="M241.5 705.2L227.8 700.6L236.5 691.7Z" fill="#9238b2"/>
<path d="M369.7 636V678Q369.7 689 363.2 695.6" stroke="#9238b2" stroke-width="4.3" fill="none" stroke-linejoin="round"/><path d="M355.2 705.7L358.4 691.7L368.1 699.3Z" fill="#9238b2"/>
<path d="M226.9 763.7V805Q226.9 815 220.2 823" stroke="#9238b2" stroke-width="4.2" fill="none" stroke-linejoin="round"/><path d="M212.2 833.3L215.3 819.2L225.1 826.9Z" fill="#9238b2"/>
<path d="M359.5 762.6L361 806Q361.5 816 367 824.4" stroke="#9238b2" stroke-width="4.2" fill="none" stroke-linejoin="round"/><path d="M376.2 833.0L362.5 828.6L371.0 819.6Z" fill="#9238b2"/>
<path d="M292.7 690.5L292.7 756.6" stroke="#9238b2" stroke-width="4.4" fill="none" stroke-linejoin="round"/><path d="M292.7 768.6L286.1 756.1L299.3 756.1Z" fill="#9238b2"/>
<path d="M292.7 853.0L292.7 781.6" stroke="#9238b2" stroke-width="4.4" fill="none" stroke-linejoin="round"/><path d="M292.7 769.6L299.3 782.1L286.1 782.1Z" fill="#9238b2"/>
<path d="M292.7 856.0L292.7 887.5" stroke="#9238b2" stroke-width="4.4" fill="none" stroke-linejoin="round"/><path d="M292.7 899.0L286.3 887.0L299.1 887.0Z" fill="#9238b2"/>
<path d="M304.0 769.2L324.0 769.2" stroke="#ff2a18" stroke-width="2.2" fill="none" stroke-linejoin="round"/><path d="M333.0 769.2L323.5 773.4L323.5 765.0Z" fill="#ff2a18"/>
<path d="M309.5 762.0L318.5 754.6" stroke="#f2e020" stroke-width="1.2" fill="none" stroke-linejoin="round"/><path d="M322.0 751.8L319.5 756.7L316.7 753.3Z" fill="#f2e020"/>
<defs><radialGradient id="sph" cx="0.38" cy="0.32" r="0.75"><stop offset="0" stop-color="#6ab4f0"/><stop offset="0.45" stop-color="#1c6cc0"/><stop offset="1" stop-color="#0a3070"/></radialGradient></defs>
<path d="M478.0 844.5L516.7 844.5" stroke="#12a252" stroke-width="3.6" fill="none" stroke-linejoin="round"/><path d="M527.2 844.5L516.2 849.7L516.2 839.3Z" fill="#12a252"/>
<path d="M475.6 847.0L475.6 878.9" stroke="#e01218" stroke-width="3.4" fill="none" stroke-linejoin="round"/><path d="M475.6 889.4L470.6 878.4L480.6 878.4Z" fill="#e01218"/>
<circle cx="475.6" cy="844.6" r="5.5" fill="url(#sph)"/>
<g font-family="Liberation Sans, sans-serif" font-size="14" font-weight="bold" fill="#111" text-anchor="middle"><text x="475" y="829.6">Z</text><text x="536.2" y="849.6">Y</text><text x="474" y="901.8">X</text></g>
<text x="266.9" y="938.8" text-anchor="middle" font-size="21.4" fill="#111" font-family="Liberation Sans, sans-serif" stroke="#111" stroke-width="0.28">(d)</text>
</svg>
</body></html>
